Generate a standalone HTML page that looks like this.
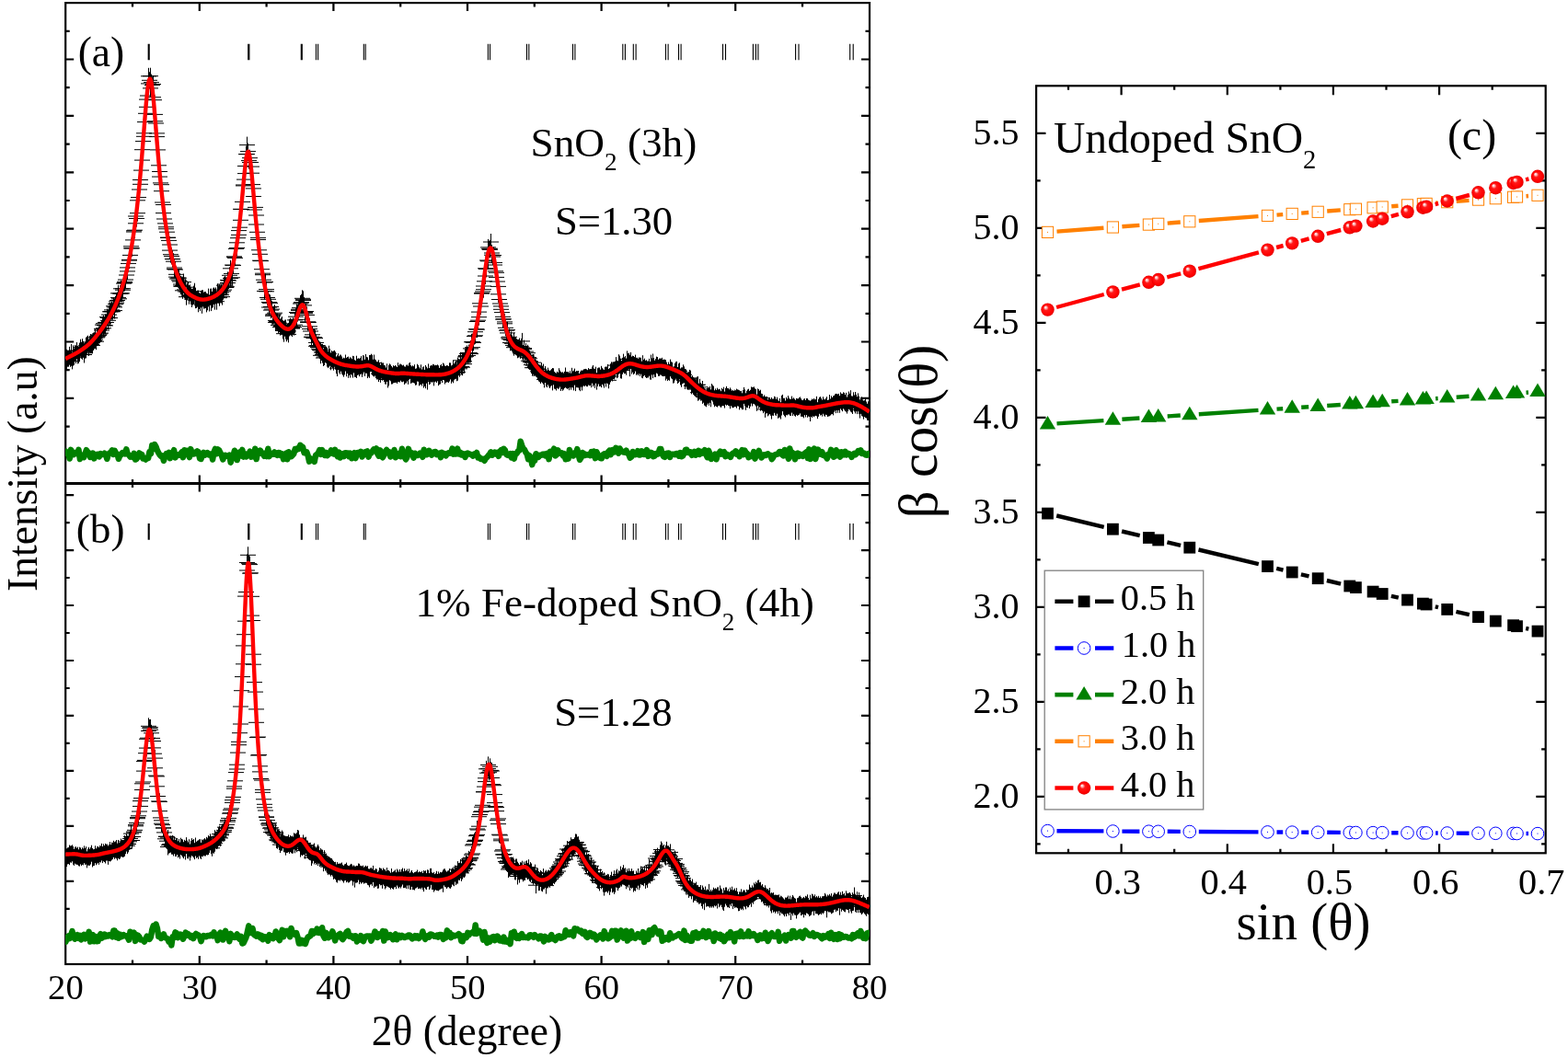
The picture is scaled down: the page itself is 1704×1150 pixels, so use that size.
<!DOCTYPE html>
<html><head><meta charset="utf-8"><title>XRD Rietveld and Williamson-Hall plots</title>
<style>html,body{margin:0;padding:0;background:#fff;} svg{display:block;}</style></head>
<body>
<svg width="1704" height="1150" viewBox="0 0 1704 1150">
<rect width="1704" height="1150" fill="#fff"/>
<path d="M161.2 47.8V65.2M161.2 568.9V586.8M162.2 47.8V65.2M162.2 568.9V586.8M269.7 47.8V65.2M269.7 568.9V586.8M270.9 47.8V65.2M270.9 568.9V586.8M327.3 47.8V65.2M327.3 568.9V586.8M328.3 47.8V65.2M328.3 568.9V586.8M343.5 47.8V65.2M343.5 568.9V586.8M345.6 47.8V65.2M345.6 568.9V586.8M395.3 47.8V65.2M395.3 568.9V586.8M397.2 47.8V65.2M397.2 568.9V586.8M530.4 47.8V65.2M530.4 568.9V586.8M532.5 47.8V65.2M532.5 568.9V586.8M572.5 47.8V65.2M572.5 568.9V586.8M574.8 47.8V65.2M574.8 568.9V586.8M622.5 47.8V65.2M622.5 568.9V586.8M624.9 47.8V65.2M624.9 568.9V586.8M676.8 47.8V65.2M676.8 568.9V586.8M679.4 47.8V65.2M679.4 568.9V586.8M688.3 47.8V65.2M688.3 568.9V586.8M691.1 47.8V65.2M691.1 568.9V586.8M723.4 47.8V65.2M723.4 568.9V586.8M726.1 47.8V65.2M726.1 568.9V586.8M737.5 47.8V65.2M737.5 568.9V586.8M740.1 47.8V65.2M740.1 568.9V586.8M785.5 47.8V65.2M785.5 568.9V586.8M788.5 47.8V65.2M788.5 568.9V586.8M818.4 47.8V65.2M818.4 568.9V586.8M821.4 47.8V65.2M821.4 568.9V586.8M823.9 47.8V65.2M823.9 568.9V586.8M864.6 47.8V65.2M864.6 568.9V586.8M868.0 47.8V65.2M868.0 568.9V586.8M923.7 47.8V65.2M923.7 568.9V586.8M927.2 47.8V65.2M927.2 568.9V586.8" stroke="#000" stroke-width="1.1" fill="none"/>
<rect x="71.2" y="3.1" width="873.8" height="1044.9" fill="none" stroke="#000" stroke-width="2.2"/>
<line x1="71.2" y1="525.4" x2="945.0" y2="525.4" stroke="#000" stroke-width="3"/>
<path d="M144.0 3.1v4.5M144.0 1048v-4.5M144.0 525.4v-4.5M144.0 525.4v4.5M216.8 3.1v9M216.8 1048v-9M216.8 525.4v-9M216.8 525.4v9M289.6 3.1v4.5M289.6 1048v-4.5M289.6 525.4v-4.5M289.6 525.4v4.5M362.4 3.1v9M362.4 1048v-9M362.4 525.4v-9M362.4 525.4v9M435.2 3.1v4.5M435.2 1048v-4.5M435.2 525.4v-4.5M435.2 525.4v4.5M508.0 3.1v9M508.0 1048v-9M508.0 525.4v-9M508.0 525.4v9M580.8 3.1v4.5M580.8 1048v-4.5M580.8 525.4v-4.5M580.8 525.4v4.5M653.6 3.1v9M653.6 1048v-9M653.6 525.4v-9M653.6 525.4v9M726.4 3.1v4.5M726.4 1048v-4.5M726.4 525.4v-4.5M726.4 525.4v4.5M799.2 3.1v9M799.2 1048v-9M799.2 525.4v-9M799.2 525.4v9M872.0 3.1v4.5M872.0 1048v-4.5M872.0 525.4v-4.5M872.0 525.4v4.5M71.2 33.8h4.5M945.0 33.8h-4.5M71.2 64.5h9M945.0 64.5h-9M71.2 95.2h4.5M945.0 95.2h-4.5M71.2 125.9h9M945.0 125.9h-9M71.2 156.6h4.5M945.0 156.6h-4.5M71.2 187.3h9M945.0 187.3h-9M71.2 218.0h4.5M945.0 218.0h-4.5M71.2 248.7h9M945.0 248.7h-9M71.2 279.4h4.5M945.0 279.4h-4.5M71.2 310.1h9M945.0 310.1h-9M71.2 340.8h4.5M945.0 340.8h-4.5M71.2 371.5h9M945.0 371.5h-9M71.2 402.2h4.5M945.0 402.2h-4.5M71.2 432.9h9M945.0 432.9h-9M71.2 463.6h4.5M945.0 463.6h-4.5M71.2 494.3h9M945.0 494.3h-9M71.2 538.1h9M945.0 538.1h-9M71.2 568.1h4.5M945.0 568.1h-4.5M71.2 598.1h9M945.0 598.1h-9M71.2 628.0h4.5M945.0 628.0h-4.5M71.2 658.0h9M945.0 658.0h-9M71.2 688.0h4.5M945.0 688.0h-4.5M71.2 718.0h9M945.0 718.0h-9M71.2 748.0h4.5M945.0 748.0h-4.5M71.2 777.9h9M945.0 777.9h-9M71.2 807.9h4.5M945.0 807.9h-4.5M71.2 837.9h9M945.0 837.9h-9M71.2 867.9h4.5M945.0 867.9h-4.5M71.2 897.9h9M945.0 897.9h-9M71.2 927.8h4.5M945.0 927.8h-4.5M71.2 957.8h9M945.0 957.8h-9M71.2 987.8h4.5M945.0 987.8h-4.5M71.2 1017.8h9M945.0 1017.8h-9" stroke="#000" stroke-width="2.2" fill="none"/>
<defs><clipPath id="ca"><rect x="71" y="3" width="874" height="522"/></clipPath><clipPath id="cb"><rect x="71" y="526" width="874" height="521"/></clipPath></defs>
<g clip-path="url(#ca)">
<path d="M63.0 388.3h17m-8.5-9v18M64.0 394.0h17m-8.5-9v18M64.0 388.8h17m-8.5-9v18M65.0 389.7h17m-8.5-9v18M66.0 389.7h17m-8.5-9v18M67.0 387.7h17m-8.5-9v18M67.0 385.8h17m-8.5-9v18M68.0 389.9h17m-8.5-9v18M69.0 388.8h17m-8.5-9v18M69.0 383.0h17m-8.5-9v18M70.0 392.4h17m-8.5-9v18M71.0 388.7h17m-8.5-9v18M71.0 384.3h17m-8.5-9v18M72.0 387.7h17m-8.5-9v18M73.0 384.1h17m-8.5-9v18M74.0 384.6h17m-8.5-9v18M74.0 386.1h17m-8.5-9v18M75.0 381.0h17m-8.5-9v18M76.0 384.9h17m-8.5-9v18M76.0 386.4h17m-8.5-9v18M77.0 385.8h17m-8.5-9v18M78.0 381.6h17m-8.5-9v18M78.0 384.1h17m-8.5-9v18M79.0 377.7h17m-8.5-9v18M80.0 380.8h17m-8.5-9v18M81.0 381.9h17m-8.5-9v18M81.0 377.2h17m-8.5-9v18M82.0 379.8h17m-8.5-9v18M83.0 383.8h17m-8.5-9v18M83.0 385.5h17m-8.5-9v18M84.0 380.7h17m-8.5-9v18M85.0 380.4h17m-8.5-9v18M85.0 375.7h17m-8.5-9v18M86.0 374.7h17m-8.5-9v18M87.0 373.7h17m-8.5-9v18M88.0 378.0h17m-8.5-9v18M88.0 378.0h17m-8.5-9v18M89.0 374.0h17m-8.5-9v18M90.0 372.0h17m-8.5-9v18M90.0 375.0h17m-8.5-9v18M91.0 374.5h17m-8.5-9v18M92.0 372.7h17m-8.5-9v18M92.0 375.4h17m-8.5-9v18M93.0 371.2h17m-8.5-9v18M94.0 370.4h17m-8.5-9v18M95.0 366.9h17m-8.5-9v18M95.0 369.1h17m-8.5-9v18M96.0 371.2h17m-8.5-9v18M97.0 366.9h17m-8.5-9v18M97.0 365.9h17m-8.5-9v18M98.0 365.8h17m-8.5-9v18M99.0 364.4h17m-8.5-9v18M99.0 364.0h17m-8.5-9v18M100.0 362.9h17m-8.5-9v18M101.0 362.1h17m-8.5-9v18M102.0 357.4h17m-8.5-9v18M102.0 359.1h17m-8.5-9v18M103.0 353.1h17m-8.5-9v18M104.0 356.8h17m-8.5-9v18M104.0 351.7h17m-8.5-9v18M105.0 353.6h17m-8.5-9v18M106.0 353.9h17m-8.5-9v18M106.0 350.4h17m-8.5-9v18M107.0 350.5h17m-8.5-9v18M108.0 344.6h17m-8.5-9v18M109.0 345.5h17m-8.5-9v18M109.0 348.3h17m-8.5-9v18M110.0 342.1h17m-8.5-9v18M111.0 345.6h17m-8.5-9v18M111.0 338.8h17m-8.5-9v18M112.0 338.7h17m-8.5-9v18M113.0 336.9h17m-8.5-9v18M113.0 338.6h17m-8.5-9v18M114.0 338.7h17m-8.5-9v18M115.0 332.8h17m-8.5-9v18M116.0 333.9h17m-8.5-9v18M116.0 337.6h17m-8.5-9v18M117.0 330.7h17m-8.5-9v18M118.0 327.9h17m-8.5-9v18M118.0 329.8h17m-8.5-9v18M119.0 326.5h17m-8.5-9v18M120.0 323.6h17m-8.5-9v18M120.0 318.8h17m-8.5-9v18M121.0 324.8h17m-8.5-9v18M122.0 319.0h17m-8.5-9v18M123.0 318.9h17m-8.5-9v18M123.0 313.8h17m-8.5-9v18M124.0 318.9h17m-8.5-9v18M125.0 315.2h17m-8.5-9v18M125.0 313.7h17m-8.5-9v18M126.0 308.1h17m-8.5-9v18M127.0 307.5h17m-8.5-9v18M127.0 306.3h17m-8.5-9v18M128.0 304.0h17m-8.5-9v18M129.0 299.0h17m-8.5-9v18M130.0 294.9h17m-8.5-9v18M130.0 290.9h17m-8.5-9v18M131.0 286.4h17m-8.5-9v18M132.0 282.3h17m-8.5-9v18M132.0 283.1h17m-8.5-9v18M133.0 277.4h17m-8.5-9v18M134.0 267.8h17m-8.5-9v18M134.0 269.9h17m-8.5-9v18M135.0 269.9h17m-8.5-9v18M136.0 260.9h17m-8.5-9v18M137.0 250.8h17m-8.5-9v18M137.0 252.0h17m-8.5-9v18M138.0 250.2h17m-8.5-9v18M139.0 242.8h17m-8.5-9v18M139.0 235.0h17m-8.5-9v18M140.0 237.5h17m-8.5-9v18M141.0 231.7h17m-8.5-9v18M141.0 217.8h17m-8.5-9v18M142.0 214.6h17m-8.5-9v18M143.0 206.0h17m-8.5-9v18M144.0 200.3h17m-8.5-9v18M144.0 195.5h17m-8.5-9v18M145.0 185.1h17m-8.5-9v18M146.0 174.1h17m-8.5-9v18M146.0 162.7h17m-8.5-9v18M147.0 153.6h17m-8.5-9v18M148.0 148.3h17m-8.5-9v18M148.0 144.8h17m-8.5-9v18M149.0 132.6h17m-8.5-9v18M150.0 123.3h17m-8.5-9v18M151.0 116.3h17m-8.5-9v18M151.0 108.1h17m-8.5-9v18M152.0 104.0h17m-8.5-9v18M153.0 90.9h17m-8.5-9v18M153.0 82.8h17m-8.5-9v18M154.0 87.3h17m-8.5-9v18M155.0 82.7h17m-8.5-9v18M155.0 95.9h17m-8.5-9v18M156.0 89.6h17m-8.5-9v18M157.0 92.6h17m-8.5-9v18M158.0 91.5h17m-8.5-9v18M158.0 105.7h17m-8.5-9v18M159.0 108.7h17m-8.5-9v18M160.0 124.4h17m-8.5-9v18M160.0 131.8h17m-8.5-9v18M161.0 134.0h17m-8.5-9v18M162.0 148.6h17m-8.5-9v18M162.0 144.9h17m-8.5-9v18M163.0 162.9h17m-8.5-9v18M164.0 179.8h17m-8.5-9v18M165.0 186.5h17m-8.5-9v18M165.0 192.1h17m-8.5-9v18M166.0 198.9h17m-8.5-9v18M167.0 200.7h17m-8.5-9v18M167.0 207.7h17m-8.5-9v18M168.0 220.0h17m-8.5-9v18M169.0 231.6h17m-8.5-9v18M169.0 222.5h17m-8.5-9v18M170.0 238.0h17m-8.5-9v18M171.0 242.9h17m-8.5-9v18M172.0 248.8h17m-8.5-9v18M172.0 246.8h17m-8.5-9v18M173.0 252.2h17m-8.5-9v18M174.0 258.2h17m-8.5-9v18M174.0 258.4h17m-8.5-9v18M175.0 261.4h17m-8.5-9v18M176.0 266.0h17m-8.5-9v18M176.0 272.1h17m-8.5-9v18M177.0 276.7h17m-8.5-9v18M178.0 278.4h17m-8.5-9v18M179.0 281.5h17m-8.5-9v18M179.0 281.7h17m-8.5-9v18M180.0 284.2h17m-8.5-9v18M181.0 292.5h17m-8.5-9v18M181.0 291.0h17m-8.5-9v18M182.0 293.0h17m-8.5-9v18M183.0 298.3h17m-8.5-9v18M183.0 301.1h17m-8.5-9v18M184.0 303.0h17m-8.5-9v18M185.0 302.0h17m-8.5-9v18M186.0 302.2h17m-8.5-9v18M186.0 304.8h17m-8.5-9v18M187.0 306.0h17m-8.5-9v18M188.0 311.0h17m-8.5-9v18M188.0 309.0h17m-8.5-9v18M189.0 311.3h17m-8.5-9v18M190.0 310.5h17m-8.5-9v18M190.0 315.8h17m-8.5-9v18M191.0 306.6h17m-8.5-9v18M192.0 314.9h17m-8.5-9v18M193.0 316.9h17m-8.5-9v18M193.0 312.2h17m-8.5-9v18M194.0 322.7h17m-8.5-9v18M195.0 316.7h17m-8.5-9v18M195.0 317.4h17m-8.5-9v18M196.0 315.4h17m-8.5-9v18M197.0 321.7h17m-8.5-9v18M197.0 320.3h17m-8.5-9v18M198.0 318.4h17m-8.5-9v18M199.0 321.3h17m-8.5-9v18M200.0 323.0h17m-8.5-9v18M200.0 325.0h17m-8.5-9v18M201.0 322.5h17m-8.5-9v18M202.0 319.6h17m-8.5-9v18M202.0 321.2h17m-8.5-9v18M203.0 316.7h17m-8.5-9v18M204.0 321.6h17m-8.5-9v18M204.0 326.2h17m-8.5-9v18M205.0 325.9h17m-8.5-9v18M206.0 324.7h17m-8.5-9v18M207.0 324.5h17m-8.5-9v18M207.0 330.3h17m-8.5-9v18M208.0 327.0h17m-8.5-9v18M209.0 329.1h17m-8.5-9v18M209.0 328.0h17m-8.5-9v18M210.0 325.3h17m-8.5-9v18M211.0 331.8h17m-8.5-9v18M211.0 324.2h17m-8.5-9v18M212.0 324.4h17m-8.5-9v18M213.0 326.7h17m-8.5-9v18M214.0 325.9h17m-8.5-9v18M214.0 326.3h17m-8.5-9v18M215.0 326.1h17m-8.5-9v18M216.0 330.4h17m-8.5-9v18M216.0 327.7h17m-8.5-9v18M217.0 328.3h17m-8.5-9v18M218.0 322.6h17m-8.5-9v18M218.0 324.4h17m-8.5-9v18M219.0 329.5h17m-8.5-9v18M220.0 322.8h17m-8.5-9v18M221.0 329.1h17m-8.5-9v18M221.0 322.6h17m-8.5-9v18M222.0 326.0h17m-8.5-9v18M223.0 322.4h17m-8.5-9v18M223.0 324.9h17m-8.5-9v18M224.0 321.4h17m-8.5-9v18M225.0 322.7h17m-8.5-9v18M225.0 327.7h17m-8.5-9v18M226.0 321.4h17m-8.5-9v18M227.0 327.7h17m-8.5-9v18M228.0 320.1h17m-8.5-9v18M228.0 317.4h17m-8.5-9v18M229.0 320.3h17m-8.5-9v18M230.0 318.2h17m-8.5-9v18M230.0 323.7h17m-8.5-9v18M231.0 320.4h17m-8.5-9v18M232.0 320.5h17m-8.5-9v18M232.0 318.1h17m-8.5-9v18M233.0 322.6h17m-8.5-9v18M234.0 316.8h17m-8.5-9v18M235.0 315.1h17m-8.5-9v18M235.0 310.2h17m-8.5-9v18M236.0 309.0h17m-8.5-9v18M237.0 311.2h17m-8.5-9v18M237.0 312.5h17m-8.5-9v18M238.0 311.8h17m-8.5-9v18M239.0 304.4h17m-8.5-9v18M239.0 307.5h17m-8.5-9v18M240.0 305.0h17m-8.5-9v18M241.0 299.3h17m-8.5-9v18M242.0 302.5h17m-8.5-9v18M242.0 291.8h17m-8.5-9v18M243.0 297.4h17m-8.5-9v18M244.0 301.8h17m-8.5-9v18M244.0 288.1h17m-8.5-9v18M245.0 288.4h17m-8.5-9v18M246.0 279.0h17m-8.5-9v18M246.0 279.2h17m-8.5-9v18M247.0 280.4h17m-8.5-9v18M248.0 270.5h17m-8.5-9v18M249.0 269.5h17m-8.5-9v18M249.0 263.8h17m-8.5-9v18M250.0 258.7h17m-8.5-9v18M251.0 255.3h17m-8.5-9v18M251.0 250.6h17m-8.5-9v18M252.0 247.2h17m-8.5-9v18M253.0 239.3h17m-8.5-9v18M253.0 227.3h17m-8.5-9v18M254.0 227.5h17m-8.5-9v18M255.0 219.4h17m-8.5-9v18M256.0 201.0h17m-8.5-9v18M256.0 201.9h17m-8.5-9v18M257.0 195.1h17m-8.5-9v18M258.0 188.6h17m-8.5-9v18M258.0 180.5h17m-8.5-9v18M259.0 167.6h17m-8.5-9v18M260.0 167.6h17m-8.5-9v18M260.0 157.6h17m-8.5-9v18M261.0 164.6h17m-8.5-9v18M262.0 174.6h17m-8.5-9v18M263.0 171.7h17m-8.5-9v18M263.0 176.5h17m-8.5-9v18M264.0 176.5h17m-8.5-9v18M265.0 181.1h17m-8.5-9v18M265.0 188.2h17m-8.5-9v18M266.0 200.6h17m-8.5-9v18M267.0 204.9h17m-8.5-9v18M267.0 213.5h17m-8.5-9v18M268.0 228.0h17m-8.5-9v18M269.0 225.4h17m-8.5-9v18M270.0 234.0h17m-8.5-9v18M270.0 244.0h17m-8.5-9v18M271.0 252.3h17m-8.5-9v18M272.0 258.6h17m-8.5-9v18M272.0 260.5h17m-8.5-9v18M273.0 271.8h17m-8.5-9v18M274.0 276.3h17m-8.5-9v18M274.0 283.2h17m-8.5-9v18M275.0 283.6h17m-8.5-9v18M276.0 292.7h17m-8.5-9v18M277.0 297.2h17m-8.5-9v18M277.0 298.7h17m-8.5-9v18M278.0 304.2h17m-8.5-9v18M279.0 307.0h17m-8.5-9v18M279.0 316.4h17m-8.5-9v18M280.0 306.4h17m-8.5-9v18M281.0 314.6h17m-8.5-9v18M281.0 316.8h17m-8.5-9v18M282.0 323.5h17m-8.5-9v18M283.0 325.3h17m-8.5-9v18M284.0 328.5h17m-8.5-9v18M284.0 334.0h17m-8.5-9v18M285.0 329.4h17m-8.5-9v18M286.0 333.5h17m-8.5-9v18M286.0 337.1h17m-8.5-9v18M287.0 336.1h17m-8.5-9v18M288.0 342.0h17m-8.5-9v18M288.0 343.3h17m-8.5-9v18M289.0 341.8h17m-8.5-9v18M290.0 340.2h17m-8.5-9v18M291.0 350.5h17m-8.5-9v18M291.0 348.5h17m-8.5-9v18M292.0 349.5h17m-8.5-9v18M293.0 349.5h17m-8.5-9v18M293.0 350.2h17m-8.5-9v18M294.0 353.4h17m-8.5-9v18M295.0 352.0h17m-8.5-9v18M295.0 351.2h17m-8.5-9v18M296.0 355.6h17m-8.5-9v18M297.0 354.6h17m-8.5-9v18M298.0 353.2h17m-8.5-9v18M298.0 353.6h17m-8.5-9v18M299.0 359.5h17m-8.5-9v18M300.0 358.7h17m-8.5-9v18M300.0 362.7h17m-8.5-9v18M301.0 356.7h17m-8.5-9v18M302.0 356.5h17m-8.5-9v18M302.0 359.7h17m-8.5-9v18M303.0 362.3h17m-8.5-9v18M304.0 360.4h17m-8.5-9v18M305.0 359.9h17m-8.5-9v18M305.0 363.4h17m-8.5-9v18M306.0 356.5h17m-8.5-9v18M307.0 354.7h17m-8.5-9v18M307.0 355.4h17m-8.5-9v18M308.0 355.7h17m-8.5-9v18M309.0 356.5h17m-8.5-9v18M309.0 357.1h17m-8.5-9v18M310.0 354.2h17m-8.5-9v18M311.0 355.6h17m-8.5-9v18M312.0 347.9h17m-8.5-9v18M312.0 353.2h17m-8.5-9v18M313.0 344.2h17m-8.5-9v18M314.0 347.3h17m-8.5-9v18M314.0 339.5h17m-8.5-9v18M315.0 340.6h17m-8.5-9v18M316.0 337.4h17m-8.5-9v18M316.0 336.3h17m-8.5-9v18M317.0 334.7h17m-8.5-9v18M318.0 330.0h17m-8.5-9v18M319.0 328.9h17m-8.5-9v18M319.0 328.8h17m-8.5-9v18M320.0 324.3h17m-8.5-9v18M321.0 326.5h17m-8.5-9v18M321.0 325.3h17m-8.5-9v18M322.0 331.9h17m-8.5-9v18M323.0 340.7h17m-8.5-9v18M323.0 339.6h17m-8.5-9v18M324.0 338.5h17m-8.5-9v18M325.0 342.4h17m-8.5-9v18M326.0 350.4h17m-8.5-9v18M326.0 349.9h17m-8.5-9v18M327.0 350.3h17m-8.5-9v18M328.0 354.9h17m-8.5-9v18M328.0 357.6h17m-8.5-9v18M329.0 360.0h17m-8.5-9v18M330.0 366.3h17m-8.5-9v18M330.0 366.4h17m-8.5-9v18M331.0 363.8h17m-8.5-9v18M332.0 367.2h17m-8.5-9v18M333.0 366.6h17m-8.5-9v18M333.0 367.3h17m-8.5-9v18M334.0 367.5h17m-8.5-9v18M335.0 376.3h17m-8.5-9v18M335.0 372.4h17m-8.5-9v18M336.0 375.6h17m-8.5-9v18M337.0 377.5h17m-8.5-9v18M337.0 375.8h17m-8.5-9v18M338.0 379.2h17m-8.5-9v18M339.0 380.4h17m-8.5-9v18M340.0 380.8h17m-8.5-9v18M340.0 386.3h17m-8.5-9v18M341.0 383.0h17m-8.5-9v18M342.0 382.8h17m-8.5-9v18M342.0 385.6h17m-8.5-9v18M343.0 389.0h17m-8.5-9v18M344.0 388.0h17m-8.5-9v18M344.0 385.4h17m-8.5-9v18M345.0 385.2h17m-8.5-9v18M346.0 385.7h17m-8.5-9v18M347.0 386.8h17m-8.5-9v18M347.0 389.7h17m-8.5-9v18M348.0 391.1h17m-8.5-9v18M349.0 384.7h17m-8.5-9v18M349.0 390.1h17m-8.5-9v18M350.0 388.1h17m-8.5-9v18M351.0 392.4h17m-8.5-9v18M351.0 393.3h17m-8.5-9v18M352.0 390.0h17m-8.5-9v18M353.0 391.1h17m-8.5-9v18M354.0 390.4h17m-8.5-9v18M354.0 393.7h17m-8.5-9v18M355.0 389.8h17m-8.5-9v18M356.0 391.3h17m-8.5-9v18M356.0 392.7h17m-8.5-9v18M357.0 397.2h17m-8.5-9v18M358.0 400.1h17m-8.5-9v18M358.0 395.4h17m-8.5-9v18M359.0 393.1h17m-8.5-9v18M360.0 396.2h17m-8.5-9v18M361.0 394.6h17m-8.5-9v18M361.0 397.7h17m-8.5-9v18M362.0 394.7h17m-8.5-9v18M363.0 396.5h17m-8.5-9v18M363.0 397.5h17m-8.5-9v18M364.0 398.8h17m-8.5-9v18M365.0 397.7h17m-8.5-9v18M365.0 400.7h17m-8.5-9v18M366.0 398.4h17m-8.5-9v18M367.0 394.5h17m-8.5-9v18M368.0 400.3h17m-8.5-9v18M368.0 397.9h17m-8.5-9v18M369.0 397.1h17m-8.5-9v18M370.0 401.8h17m-8.5-9v18M370.0 396.6h17m-8.5-9v18M371.0 398.8h17m-8.5-9v18M372.0 397.2h17m-8.5-9v18M372.0 401.6h17m-8.5-9v18M373.0 398.0h17m-8.5-9v18M374.0 399.2h17m-8.5-9v18M375.0 395.8h17m-8.5-9v18M375.0 401.6h17m-8.5-9v18M376.0 396.3h17m-8.5-9v18M377.0 400.4h17m-8.5-9v18M377.0 400.7h17m-8.5-9v18M378.0 400.9h17m-8.5-9v18M379.0 402.0h17m-8.5-9v18M379.0 395.7h17m-8.5-9v18M380.0 398.9h17m-8.5-9v18M381.0 398.3h17m-8.5-9v18M382.0 398.8h17m-8.5-9v18M382.0 400.2h17m-8.5-9v18M383.0 398.1h17m-8.5-9v18M384.0 396.1h17m-8.5-9v18M384.0 397.5h17m-8.5-9v18M385.0 400.9h17m-8.5-9v18M386.0 395.2h17m-8.5-9v18M386.0 397.7h17m-8.5-9v18M387.0 395.5h17m-8.5-9v18M388.0 399.8h17m-8.5-9v18M389.0 393.9h17m-8.5-9v18M389.0 396.6h17m-8.5-9v18M390.0 396.9h17m-8.5-9v18M391.0 397.4h17m-8.5-9v18M391.0 402.1h17m-8.5-9v18M392.0 400.4h17m-8.5-9v18M393.0 395.0h17m-8.5-9v18M393.0 401.8h17m-8.5-9v18M394.0 394.9h17m-8.5-9v18M395.0 393.7h17m-8.5-9v18M396.0 394.7h17m-8.5-9v18M396.0 398.7h17m-8.5-9v18M397.0 399.7h17m-8.5-9v18M398.0 394.5h17m-8.5-9v18M398.0 400.5h17m-8.5-9v18M399.0 399.5h17m-8.5-9v18M400.0 402.1h17m-8.5-9v18M400.0 400.4h17m-8.5-9v18M401.0 403.5h17m-8.5-9v18M402.0 403.4h17m-8.5-9v18M403.0 400.3h17m-8.5-9v18M403.0 406.1h17m-8.5-9v18M404.0 404.0h17m-8.5-9v18M405.0 405.5h17m-8.5-9v18M405.0 406.9h17m-8.5-9v18M406.0 402.6h17m-8.5-9v18M407.0 404.7h17m-8.5-9v18M407.0 403.5h17m-8.5-9v18M408.0 403.4h17m-8.5-9v18M409.0 406.0h17m-8.5-9v18M410.0 406.3h17m-8.5-9v18M410.0 408.5h17m-8.5-9v18M411.0 408.7h17m-8.5-9v18M412.0 405.9h17m-8.5-9v18M412.0 404.3h17m-8.5-9v18M413.0 412.5h17m-8.5-9v18M414.0 410.4h17m-8.5-9v18M414.0 405.9h17m-8.5-9v18M415.0 404.3h17m-8.5-9v18M416.0 405.4h17m-8.5-9v18M417.0 406.9h17m-8.5-9v18M417.0 408.6h17m-8.5-9v18M418.0 408.4h17m-8.5-9v18M419.0 407.4h17m-8.5-9v18M419.0 406.1h17m-8.5-9v18M420.0 407.0h17m-8.5-9v18M421.0 406.1h17m-8.5-9v18M421.0 407.0h17m-8.5-9v18M422.0 406.7h17m-8.5-9v18M423.0 408.0h17m-8.5-9v18M424.0 403.2h17m-8.5-9v18M424.0 406.2h17m-8.5-9v18M425.0 406.3h17m-8.5-9v18M426.0 404.6h17m-8.5-9v18M426.0 406.5h17m-8.5-9v18M427.0 404.7h17m-8.5-9v18M428.0 405.4h17m-8.5-9v18M428.0 406.2h17m-8.5-9v18M429.0 406.3h17m-8.5-9v18M430.0 405.6h17m-8.5-9v18M431.0 409.0h17m-8.5-9v18M431.0 407.3h17m-8.5-9v18M432.0 407.6h17m-8.5-9v18M433.0 407.5h17m-8.5-9v18M433.0 405.8h17m-8.5-9v18M434.0 405.4h17m-8.5-9v18M435.0 408.9h17m-8.5-9v18M435.0 406.6h17m-8.5-9v18M436.0 403.8h17m-8.5-9v18M437.0 402.9h17m-8.5-9v18M438.0 407.8h17m-8.5-9v18M438.0 405.9h17m-8.5-9v18M439.0 407.3h17m-8.5-9v18M440.0 406.4h17m-8.5-9v18M440.0 406.7h17m-8.5-9v18M441.0 407.2h17m-8.5-9v18M442.0 405.2h17m-8.5-9v18M442.0 407.7h17m-8.5-9v18M443.0 409.8h17m-8.5-9v18M444.0 409.4h17m-8.5-9v18M445.0 404.7h17m-8.5-9v18M445.0 405.6h17m-8.5-9v18M446.0 405.8h17m-8.5-9v18M447.0 408.1h17m-8.5-9v18M447.0 410.4h17m-8.5-9v18M448.0 409.4h17m-8.5-9v18M449.0 405.3h17m-8.5-9v18M449.0 409.0h17m-8.5-9v18M450.0 410.5h17m-8.5-9v18M451.0 407.9h17m-8.5-9v18M452.0 412.6h17m-8.5-9v18M452.0 407.4h17m-8.5-9v18M453.0 410.9h17m-8.5-9v18M454.0 413.2h17m-8.5-9v18M454.0 405.9h17m-8.5-9v18M455.0 407.7h17m-8.5-9v18M456.0 409.4h17m-8.5-9v18M456.0 414.6h17m-8.5-9v18M457.0 404.4h17m-8.5-9v18M458.0 409.1h17m-8.5-9v18M459.0 408.4h17m-8.5-9v18M459.0 406.9h17m-8.5-9v18M460.0 406.0h17m-8.5-9v18M461.0 406.5h17m-8.5-9v18M461.0 406.8h17m-8.5-9v18M462.0 404.8h17m-8.5-9v18M463.0 410.4h17m-8.5-9v18M463.0 404.9h17m-8.5-9v18M464.0 406.2h17m-8.5-9v18M465.0 405.7h17m-8.5-9v18M466.0 406.1h17m-8.5-9v18M466.0 407.1h17m-8.5-9v18M467.0 405.3h17m-8.5-9v18M468.0 406.3h17m-8.5-9v18M468.0 410.2h17m-8.5-9v18M469.0 408.9h17m-8.5-9v18M470.0 406.1h17m-8.5-9v18M470.0 408.5h17m-8.5-9v18M471.0 405.0h17m-8.5-9v18M472.0 407.0h17m-8.5-9v18M473.0 403.5h17m-8.5-9v18M473.0 404.0h17m-8.5-9v18M474.0 404.4h17m-8.5-9v18M475.0 408.6h17m-8.5-9v18M475.0 406.5h17m-8.5-9v18M476.0 407.0h17m-8.5-9v18M477.0 406.0h17m-8.5-9v18M477.0 406.4h17m-8.5-9v18M478.0 406.4h17m-8.5-9v18M479.0 407.0h17m-8.5-9v18M480.0 405.6h17m-8.5-9v18M480.0 403.3h17m-8.5-9v18M481.0 403.4h17m-8.5-9v18M482.0 407.4h17m-8.5-9v18M482.0 407.7h17m-8.5-9v18M483.0 405.7h17m-8.5-9v18M484.0 400.8h17m-8.5-9v18M484.0 407.3h17m-8.5-9v18M485.0 404.3h17m-8.5-9v18M486.0 403.0h17m-8.5-9v18M487.0 402.8h17m-8.5-9v18M487.0 401.4h17m-8.5-9v18M488.0 405.3h17m-8.5-9v18M489.0 404.6h17m-8.5-9v18M489.0 397.9h17m-8.5-9v18M490.0 399.1h17m-8.5-9v18M491.0 399.4h17m-8.5-9v18M491.0 400.8h17m-8.5-9v18M492.0 391.8h17m-8.5-9v18M493.0 398.4h17m-8.5-9v18M494.0 399.2h17m-8.5-9v18M494.0 393.9h17m-8.5-9v18M495.0 393.7h17m-8.5-9v18M496.0 395.7h17m-8.5-9v18M496.0 392.8h17m-8.5-9v18M497.0 388.0h17m-8.5-9v18M498.0 387.3h17m-8.5-9v18M498.0 386.5h17m-8.5-9v18M499.0 384.4h17m-8.5-9v18M500.0 386.5h17m-8.5-9v18M501.0 383.9h17m-8.5-9v18M501.0 383.7h17m-8.5-9v18M502.0 383.7h17m-8.5-9v18M503.0 384.6h17m-8.5-9v18M503.0 378.9h17m-8.5-9v18M504.0 371.8h17m-8.5-9v18M505.0 377.7h17m-8.5-9v18M505.0 371.6h17m-8.5-9v18M506.0 372.4h17m-8.5-9v18M507.0 365.6h17m-8.5-9v18M508.0 364.8h17m-8.5-9v18M508.0 360.7h17m-8.5-9v18M509.0 357.8h17m-8.5-9v18M510.0 358.1h17m-8.5-9v18M510.0 349.5h17m-8.5-9v18M511.0 348.2h17m-8.5-9v18M512.0 344.7h17m-8.5-9v18M512.0 339.1h17m-8.5-9v18M513.0 329.8h17m-8.5-9v18M514.0 333.0h17m-8.5-9v18M515.0 319.1h17m-8.5-9v18M515.0 318.5h17m-8.5-9v18M516.0 316.9h17m-8.5-9v18M517.0 314.7h17m-8.5-9v18M517.0 311.0h17m-8.5-9v18M518.0 305.8h17m-8.5-9v18M519.0 300.0h17m-8.5-9v18M519.0 291.8h17m-8.5-9v18M520.0 292.3h17m-8.5-9v18M521.0 283.0h17m-8.5-9v18M522.0 283.8h17m-8.5-9v18M522.0 268.9h17m-8.5-9v18M523.0 270.7h17m-8.5-9v18M524.0 270.2h17m-8.5-9v18M524.0 271.3h17m-8.5-9v18M525.0 263.0h17m-8.5-9v18M526.0 275.0h17m-8.5-9v18M526.0 277.2h17m-8.5-9v18M527.0 279.0h17m-8.5-9v18M528.0 277.6h17m-8.5-9v18M529.0 288.0h17m-8.5-9v18M529.0 285.4h17m-8.5-9v18M530.0 294.8h17m-8.5-9v18M531.0 296.3h17m-8.5-9v18M531.0 301.4h17m-8.5-9v18M532.0 306.0h17m-8.5-9v18M533.0 311.4h17m-8.5-9v18M533.0 319.8h17m-8.5-9v18M534.0 325.5h17m-8.5-9v18M535.0 330.0h17m-8.5-9v18M536.0 332.9h17m-8.5-9v18M536.0 336.3h17m-8.5-9v18M537.0 339.6h17m-8.5-9v18M538.0 347.0h17m-8.5-9v18M538.0 344.3h17m-8.5-9v18M539.0 346.9h17m-8.5-9v18M540.0 351.8h17m-8.5-9v18M540.0 349.9h17m-8.5-9v18M541.0 356.3h17m-8.5-9v18M542.0 359.1h17m-8.5-9v18M543.0 358.7h17m-8.5-9v18M543.0 361.9h17m-8.5-9v18M544.0 367.0h17m-8.5-9v18M545.0 366.3h17m-8.5-9v18M545.0 368.6h17m-8.5-9v18M546.0 372.4h17m-8.5-9v18M547.0 369.6h17m-8.5-9v18M547.0 369.5h17m-8.5-9v18M548.0 373.3h17m-8.5-9v18M549.0 375.4h17m-8.5-9v18M550.0 370.8h17m-8.5-9v18M550.0 377.7h17m-8.5-9v18M551.0 376.0h17m-8.5-9v18M552.0 376.3h17m-8.5-9v18M552.0 375.6h17m-8.5-9v18M553.0 377.5h17m-8.5-9v18M554.0 380.3h17m-8.5-9v18M554.0 379.2h17m-8.5-9v18M555.0 379.6h17m-8.5-9v18M556.0 376.5h17m-8.5-9v18M557.0 380.9h17m-8.5-9v18M557.0 379.9h17m-8.5-9v18M558.0 376.9h17m-8.5-9v18M559.0 370.9h17m-8.5-9v18M559.0 378.0h17m-8.5-9v18M560.0 385.3h17m-8.5-9v18M561.0 379.6h17m-8.5-9v18M561.0 378.6h17m-8.5-9v18M562.0 386.4h17m-8.5-9v18M563.0 382.1h17m-8.5-9v18M564.0 386.0h17m-8.5-9v18M564.0 387.8h17m-8.5-9v18M565.0 383.7h17m-8.5-9v18M566.0 388.6h17m-8.5-9v18M566.0 392.2h17m-8.5-9v18M567.0 389.8h17m-8.5-9v18M568.0 393.3h17m-8.5-9v18M568.0 393.0h17m-8.5-9v18M569.0 396.6h17m-8.5-9v18M570.0 399.7h17m-8.5-9v18M571.0 394.1h17m-8.5-9v18M571.0 397.1h17m-8.5-9v18M572.0 399.6h17m-8.5-9v18M573.0 398.2h17m-8.5-9v18M573.0 398.6h17m-8.5-9v18M574.0 400.4h17m-8.5-9v18M575.0 401.3h17m-8.5-9v18M575.0 401.1h17m-8.5-9v18M576.0 403.8h17m-8.5-9v18M577.0 405.5h17m-8.5-9v18M578.0 405.9h17m-8.5-9v18M578.0 406.3h17m-8.5-9v18M579.0 408.0h17m-8.5-9v18M580.0 403.1h17m-8.5-9v18M580.0 406.3h17m-8.5-9v18M581.0 407.4h17m-8.5-9v18M582.0 408.7h17m-8.5-9v18M582.0 404.6h17m-8.5-9v18M583.0 412.4h17m-8.5-9v18M584.0 407.0h17m-8.5-9v18M585.0 409.7h17m-8.5-9v18M585.0 411.1h17m-8.5-9v18M586.0 412.1h17m-8.5-9v18M587.0 408.7h17m-8.5-9v18M587.0 409.3h17m-8.5-9v18M588.0 411.4h17m-8.5-9v18M589.0 412.1h17m-8.5-9v18M589.0 413.0h17m-8.5-9v18M590.0 411.2h17m-8.5-9v18M591.0 410.1h17m-8.5-9v18M592.0 409.0h17m-8.5-9v18M592.0 415.4h17m-8.5-9v18M593.0 409.3h17m-8.5-9v18M594.0 413.6h17m-8.5-9v18M594.0 412.9h17m-8.5-9v18M595.0 414.1h17m-8.5-9v18M596.0 414.6h17m-8.5-9v18M596.0 415.5h17m-8.5-9v18M597.0 412.8h17m-8.5-9v18M598.0 413.8h17m-8.5-9v18M599.0 409.2h17m-8.5-9v18M599.0 413.3h17m-8.5-9v18M600.0 411.5h17m-8.5-9v18M601.0 413.1h17m-8.5-9v18M601.0 416.0h17m-8.5-9v18M602.0 413.8h17m-8.5-9v18M603.0 415.8h17m-8.5-9v18M603.0 413.3h17m-8.5-9v18M604.0 414.5h17m-8.5-9v18M605.0 412.9h17m-8.5-9v18M606.0 408.5h17m-8.5-9v18M606.0 412.2h17m-8.5-9v18M607.0 413.0h17m-8.5-9v18M608.0 413.8h17m-8.5-9v18M608.0 413.4h17m-8.5-9v18M609.0 413.1h17m-8.5-9v18M610.0 415.2h17m-8.5-9v18M610.0 414.4h17m-8.5-9v18M611.0 412.2h17m-8.5-9v18M612.0 414.7h17m-8.5-9v18M613.0 408.8h17m-8.5-9v18M613.0 412.2h17m-8.5-9v18M614.0 412.5h17m-8.5-9v18M615.0 415.4h17m-8.5-9v18M615.0 411.6h17m-8.5-9v18M616.0 409.6h17m-8.5-9v18M617.0 413.0h17m-8.5-9v18M617.0 416.1h17m-8.5-9v18M618.0 412.1h17m-8.5-9v18M619.0 412.3h17m-8.5-9v18M620.0 412.0h17m-8.5-9v18M620.0 412.5h17m-8.5-9v18M621.0 415.0h17m-8.5-9v18M622.0 416.2h17m-8.5-9v18M622.0 413.0h17m-8.5-9v18M623.0 411.6h17m-8.5-9v18M624.0 415.5h17m-8.5-9v18M624.0 411.7h17m-8.5-9v18M625.0 411.4h17m-8.5-9v18M626.0 410.3h17m-8.5-9v18M627.0 410.2h17m-8.5-9v18M627.0 411.2h17m-8.5-9v18M628.0 409.9h17m-8.5-9v18M629.0 411.2h17m-8.5-9v18M629.0 410.4h17m-8.5-9v18M630.0 411.2h17m-8.5-9v18M631.0 409.2h17m-8.5-9v18M631.0 409.4h17m-8.5-9v18M632.0 410.3h17m-8.5-9v18M633.0 409.9h17m-8.5-9v18M634.0 410.0h17m-8.5-9v18M634.0 412.2h17m-8.5-9v18M635.0 407.6h17m-8.5-9v18M636.0 405.9h17m-8.5-9v18M636.0 411.4h17m-8.5-9v18M637.0 409.5h17m-8.5-9v18M638.0 412.8h17m-8.5-9v18M638.0 409.9h17m-8.5-9v18M639.0 407.7h17m-8.5-9v18M640.0 414.6h17m-8.5-9v18M641.0 410.9h17m-8.5-9v18M641.0 409.2h17m-8.5-9v18M642.0 408.5h17m-8.5-9v18M643.0 411.2h17m-8.5-9v18M643.0 408.5h17m-8.5-9v18M644.0 410.7h17m-8.5-9v18M645.0 412.2h17m-8.5-9v18M645.0 406.8h17m-8.5-9v18M646.0 408.8h17m-8.5-9v18M647.0 410.3h17m-8.5-9v18M648.0 412.6h17m-8.5-9v18M648.0 410.9h17m-8.5-9v18M649.0 407.8h17m-8.5-9v18M650.0 411.5h17m-8.5-9v18M650.0 407.5h17m-8.5-9v18M651.0 407.6h17m-8.5-9v18M652.0 408.4h17m-8.5-9v18M652.0 404.9h17m-8.5-9v18M653.0 413.3h17m-8.5-9v18M654.0 408.9h17m-8.5-9v18M655.0 406.4h17m-8.5-9v18M655.0 404.3h17m-8.5-9v18M656.0 402.5h17m-8.5-9v18M657.0 405.2h17m-8.5-9v18M657.0 405.4h17m-8.5-9v18M658.0 402.5h17m-8.5-9v18M659.0 402.4h17m-8.5-9v18M659.0 403.4h17m-8.5-9v18M660.0 401.6h17m-8.5-9v18M661.0 397.1h17m-8.5-9v18M662.0 402.1h17m-8.5-9v18M662.0 400.7h17m-8.5-9v18M663.0 401.3h17m-8.5-9v18M664.0 397.6h17m-8.5-9v18M664.0 394.2h17m-8.5-9v18M665.0 395.7h17m-8.5-9v18M666.0 398.7h17m-8.5-9v18M666.0 402.3h17m-8.5-9v18M667.0 402.6h17m-8.5-9v18M668.0 397.8h17m-8.5-9v18M669.0 393.6h17m-8.5-9v18M669.0 395.8h17m-8.5-9v18M670.0 397.3h17m-8.5-9v18M671.0 397.0h17m-8.5-9v18M671.0 396.0h17m-8.5-9v18M672.0 398.7h17m-8.5-9v18M673.0 393.4h17m-8.5-9v18M673.0 390.4h17m-8.5-9v18M674.0 393.2h17m-8.5-9v18M675.0 392.5h17m-8.5-9v18M676.0 400.2h17m-8.5-9v18M676.0 394.7h17m-8.5-9v18M677.0 391.9h17m-8.5-9v18M678.0 396.6h17m-8.5-9v18M678.0 397.6h17m-8.5-9v18M679.0 395.6h17m-8.5-9v18M680.0 396.0h17m-8.5-9v18M680.0 398.1h17m-8.5-9v18M681.0 397.1h17m-8.5-9v18M682.0 394.6h17m-8.5-9v18M683.0 397.8h17m-8.5-9v18M683.0 398.8h17m-8.5-9v18M684.0 397.7h17m-8.5-9v18M685.0 399.2h17m-8.5-9v18M685.0 398.8h17m-8.5-9v18M686.0 397.3h17m-8.5-9v18M687.0 397.8h17m-8.5-9v18M687.0 399.9h17m-8.5-9v18M688.0 397.6h17m-8.5-9v18M689.0 401.7h17m-8.5-9v18M690.0 402.2h17m-8.5-9v18M690.0 395.2h17m-8.5-9v18M691.0 399.9h17m-8.5-9v18M692.0 398.6h17m-8.5-9v18M692.0 399.0h17m-8.5-9v18M693.0 400.9h17m-8.5-9v18M694.0 400.3h17m-8.5-9v18M694.0 402.0h17m-8.5-9v18M695.0 401.5h17m-8.5-9v18M696.0 401.5h17m-8.5-9v18M697.0 398.8h17m-8.5-9v18M697.0 399.7h17m-8.5-9v18M698.0 403.5h17m-8.5-9v18M699.0 394.6h17m-8.5-9v18M699.0 403.7h17m-8.5-9v18M700.0 398.4h17m-8.5-9v18M701.0 402.1h17m-8.5-9v18M701.0 393.5h17m-8.5-9v18M702.0 398.1h17m-8.5-9v18M703.0 400.8h17m-8.5-9v18M704.0 399.1h17m-8.5-9v18M704.0 400.9h17m-8.5-9v18M705.0 396.6h17m-8.5-9v18M706.0 397.3h17m-8.5-9v18M706.0 397.1h17m-8.5-9v18M707.0 399.8h17m-8.5-9v18M708.0 399.8h17m-8.5-9v18M708.0 398.6h17m-8.5-9v18M709.0 398.5h17m-8.5-9v18M710.0 398.7h17m-8.5-9v18M711.0 399.8h17m-8.5-9v18M711.0 397.8h17m-8.5-9v18M712.0 400.0h17m-8.5-9v18M713.0 400.1h17m-8.5-9v18M713.0 399.6h17m-8.5-9v18M714.0 399.8h17m-8.5-9v18M715.0 404.6h17m-8.5-9v18M715.0 400.2h17m-8.5-9v18M716.0 402.7h17m-8.5-9v18M717.0 405.1h17m-8.5-9v18M718.0 403.9h17m-8.5-9v18M718.0 402.5h17m-8.5-9v18M719.0 404.8h17m-8.5-9v18M720.0 399.6h17m-8.5-9v18M720.0 400.2h17m-8.5-9v18M721.0 402.2h17m-8.5-9v18M722.0 402.7h17m-8.5-9v18M722.0 403.1h17m-8.5-9v18M723.0 407.6h17m-8.5-9v18M724.0 407.3h17m-8.5-9v18M725.0 403.7h17m-8.5-9v18M725.0 404.5h17m-8.5-9v18M726.0 402.2h17m-8.5-9v18M727.0 405.1h17m-8.5-9v18M727.0 401.8h17m-8.5-9v18M728.0 408.0h17m-8.5-9v18M729.0 404.2h17m-8.5-9v18M729.0 406.9h17m-8.5-9v18M730.0 403.3h17m-8.5-9v18M731.0 409.5h17m-8.5-9v18M732.0 408.4h17m-8.5-9v18M732.0 411.8h17m-8.5-9v18M733.0 408.3h17m-8.5-9v18M734.0 405.3h17m-8.5-9v18M734.0 407.7h17m-8.5-9v18M735.0 407.3h17m-8.5-9v18M736.0 414.0h17m-8.5-9v18M736.0 410.0h17m-8.5-9v18M737.0 410.4h17m-8.5-9v18M738.0 413.8h17m-8.5-9v18M739.0 413.7h17m-8.5-9v18M739.0 414.8h17m-8.5-9v18M740.0 413.3h17m-8.5-9v18M741.0 410.9h17m-8.5-9v18M741.0 412.8h17m-8.5-9v18M742.0 411.7h17m-8.5-9v18M743.0 419.3h17m-8.5-9v18M743.0 419.2h17m-8.5-9v18M744.0 417.2h17m-8.5-9v18M745.0 419.9h17m-8.5-9v18M746.0 420.6h17m-8.5-9v18M746.0 421.2h17m-8.5-9v18M747.0 421.7h17m-8.5-9v18M748.0 423.1h17m-8.5-9v18M748.0 422.3h17m-8.5-9v18M749.0 418.5h17m-8.5-9v18M750.0 418.2h17m-8.5-9v18M750.0 426.7h17m-8.5-9v18M751.0 426.1h17m-8.5-9v18M752.0 420.8h17m-8.5-9v18M753.0 426.6h17m-8.5-9v18M753.0 425.2h17m-8.5-9v18M754.0 426.4h17m-8.5-9v18M755.0 423.0h17m-8.5-9v18M755.0 429.9h17m-8.5-9v18M756.0 428.7h17m-8.5-9v18M757.0 430.8h17m-8.5-9v18M757.0 431.7h17m-8.5-9v18M758.0 432.4h17m-8.5-9v18M759.0 433.3h17m-8.5-9v18M760.0 431.0h17m-8.5-9v18M760.0 431.0h17m-8.5-9v18M761.0 429.5h17m-8.5-9v18M762.0 431.8h17m-8.5-9v18M762.0 430.5h17m-8.5-9v18M763.0 428.8h17m-8.5-9v18M764.0 433.3h17m-8.5-9v18M764.0 432.4h17m-8.5-9v18M765.0 426.1h17m-8.5-9v18M766.0 427.6h17m-8.5-9v18M767.0 430.7h17m-8.5-9v18M767.0 428.6h17m-8.5-9v18M768.0 433.3h17m-8.5-9v18M769.0 431.4h17m-8.5-9v18M769.0 432.2h17m-8.5-9v18M770.0 432.9h17m-8.5-9v18M771.0 433.6h17m-8.5-9v18M771.0 430.7h17m-8.5-9v18M772.0 432.4h17m-8.5-9v18M773.0 431.8h17m-8.5-9v18M774.0 432.9h17m-8.5-9v18M774.0 432.5h17m-8.5-9v18M775.0 434.2h17m-8.5-9v18M776.0 432.6h17m-8.5-9v18M776.0 430.8h17m-8.5-9v18M777.0 432.0h17m-8.5-9v18M778.0 429.7h17m-8.5-9v18M778.0 432.4h17m-8.5-9v18M779.0 434.6h17m-8.5-9v18M780.0 430.8h17m-8.5-9v18M781.0 428.9h17m-8.5-9v18M781.0 431.8h17m-8.5-9v18M782.0 431.0h17m-8.5-9v18M783.0 432.0h17m-8.5-9v18M783.0 431.0h17m-8.5-9v18M784.0 432.3h17m-8.5-9v18M785.0 430.4h17m-8.5-9v18M785.0 435.3h17m-8.5-9v18M786.0 432.2h17m-8.5-9v18M787.0 433.7h17m-8.5-9v18M788.0 434.3h17m-8.5-9v18M788.0 432.8h17m-8.5-9v18M789.0 434.0h17m-8.5-9v18M790.0 432.9h17m-8.5-9v18M790.0 432.7h17m-8.5-9v18M791.0 433.3h17m-8.5-9v18M792.0 434.7h17m-8.5-9v18M792.0 431.6h17m-8.5-9v18M793.0 432.4h17m-8.5-9v18M794.0 432.7h17m-8.5-9v18M795.0 433.2h17m-8.5-9v18M795.0 436.4h17m-8.5-9v18M796.0 434.2h17m-8.5-9v18M797.0 433.8h17m-8.5-9v18M797.0 434.6h17m-8.5-9v18M798.0 436.3h17m-8.5-9v18M799.0 432.9h17m-8.5-9v18M799.0 436.1h17m-8.5-9v18M800.0 429.9h17m-8.5-9v18M801.0 432.4h17m-8.5-9v18M802.0 436.6h17m-8.5-9v18M802.0 436.5h17m-8.5-9v18M803.0 433.8h17m-8.5-9v18M804.0 432.4h17m-8.5-9v18M804.0 434.3h17m-8.5-9v18M805.0 431.7h17m-8.5-9v18M806.0 435.0h17m-8.5-9v18M806.0 433.9h17m-8.5-9v18M807.0 432.8h17m-8.5-9v18M808.0 429.4h17m-8.5-9v18M809.0 432.5h17m-8.5-9v18M809.0 430.0h17m-8.5-9v18M810.0 429.8h17m-8.5-9v18M811.0 429.4h17m-8.5-9v18M811.0 430.0h17m-8.5-9v18M812.0 431.3h17m-8.5-9v18M813.0 432.2h17m-8.5-9v18M813.0 432.6h17m-8.5-9v18M814.0 437.8h17m-8.5-9v18M815.0 431.4h17m-8.5-9v18M816.0 434.8h17m-8.5-9v18M816.0 432.1h17m-8.5-9v18M817.0 433.7h17m-8.5-9v18M818.0 432.7h17m-8.5-9v18M818.0 437.7h17m-8.5-9v18M819.0 436.8h17m-8.5-9v18M820.0 437.3h17m-8.5-9v18M820.0 437.6h17m-8.5-9v18M821.0 440.2h17m-8.5-9v18M822.0 438.4h17m-8.5-9v18M823.0 440.6h17m-8.5-9v18M823.0 444.9h17m-8.5-9v18M824.0 440.6h17m-8.5-9v18M825.0 440.2h17m-8.5-9v18M825.0 439.9h17m-8.5-9v18M826.0 443.4h17m-8.5-9v18M827.0 442.3h17m-8.5-9v18M827.0 441.1h17m-8.5-9v18M828.0 441.1h17m-8.5-9v18M829.0 442.8h17m-8.5-9v18M830.0 441.0h17m-8.5-9v18M830.0 446.6h17m-8.5-9v18M831.0 442.6h17m-8.5-9v18M832.0 442.6h17m-8.5-9v18M832.0 442.8h17m-8.5-9v18M833.0 439.8h17m-8.5-9v18M834.0 440.4h17m-8.5-9v18M834.0 442.3h17m-8.5-9v18M835.0 442.9h17m-8.5-9v18M836.0 440.7h17m-8.5-9v18M837.0 445.8h17m-8.5-9v18M837.0 443.5h17m-8.5-9v18M838.0 444.9h17m-8.5-9v18M839.0 444.6h17m-8.5-9v18M839.0 442.1h17m-8.5-9v18M840.0 446.6h17m-8.5-9v18M841.0 442.5h17m-8.5-9v18M841.0 438.8h17m-8.5-9v18M842.0 437.9h17m-8.5-9v18M843.0 441.8h17m-8.5-9v18M844.0 443.2h17m-8.5-9v18M844.0 441.7h17m-8.5-9v18M845.0 444.5h17m-8.5-9v18M846.0 440.7h17m-8.5-9v18M846.0 442.2h17m-8.5-9v18M847.0 442.4h17m-8.5-9v18M848.0 439.1h17m-8.5-9v18M848.0 441.5h17m-8.5-9v18M849.0 441.5h17m-8.5-9v18M850.0 442.8h17m-8.5-9v18M851.0 443.1h17m-8.5-9v18M851.0 442.7h17m-8.5-9v18M852.0 439.6h17m-8.5-9v18M853.0 442.4h17m-8.5-9v18M853.0 443.1h17m-8.5-9v18M854.0 441.3h17m-8.5-9v18M855.0 442.7h17m-8.5-9v18M855.0 442.9h17m-8.5-9v18M856.0 443.8h17m-8.5-9v18M857.0 441.9h17m-8.5-9v18M858.0 442.8h17m-8.5-9v18M858.0 442.4h17m-8.5-9v18M859.0 442.3h17m-8.5-9v18M860.0 441.2h17m-8.5-9v18M860.0 441.8h17m-8.5-9v18M861.0 440.4h17m-8.5-9v18M862.0 442.2h17m-8.5-9v18M862.0 443.8h17m-8.5-9v18M863.0 443.8h17m-8.5-9v18M864.0 444.1h17m-8.5-9v18M865.0 442.6h17m-8.5-9v18M865.0 445.4h17m-8.5-9v18M866.0 442.2h17m-8.5-9v18M867.0 444.5h17m-8.5-9v18M867.0 444.0h17m-8.5-9v18M868.0 442.0h17m-8.5-9v18M869.0 442.1h17m-8.5-9v18M869.0 444.8h17m-8.5-9v18M870.0 443.6h17m-8.5-9v18M871.0 444.1h17m-8.5-9v18M872.0 449.1h17m-8.5-9v18M872.0 444.7h17m-8.5-9v18M873.0 443.9h17m-8.5-9v18M874.0 445.0h17m-8.5-9v18M874.0 442.5h17m-8.5-9v18M875.0 443.3h17m-8.5-9v18M876.0 444.3h17m-8.5-9v18M876.0 442.0h17m-8.5-9v18M877.0 443.3h17m-8.5-9v18M878.0 442.9h17m-8.5-9v18M879.0 443.4h17m-8.5-9v18M879.0 439.8h17m-8.5-9v18M880.0 446.2h17m-8.5-9v18M881.0 442.7h17m-8.5-9v18M881.0 443.8h17m-8.5-9v18M882.0 440.8h17m-8.5-9v18M883.0 440.2h17m-8.5-9v18M883.0 442.6h17m-8.5-9v18M884.0 441.8h17m-8.5-9v18M885.0 443.6h17m-8.5-9v18M886.0 440.6h17m-8.5-9v18M886.0 440.4h17m-8.5-9v18M887.0 442.8h17m-8.5-9v18M888.0 443.4h17m-8.5-9v18M888.0 443.7h17m-8.5-9v18M889.0 441.8h17m-8.5-9v18M890.0 442.3h17m-8.5-9v18M890.0 440.2h17m-8.5-9v18M891.0 444.0h17m-8.5-9v18M892.0 443.5h17m-8.5-9v18M893.0 443.3h17m-8.5-9v18M893.0 438.0h17m-8.5-9v18M894.0 442.5h17m-8.5-9v18M895.0 439.3h17m-8.5-9v18M895.0 441.4h17m-8.5-9v18M896.0 441.0h17m-8.5-9v18M897.0 442.4h17m-8.5-9v18M897.0 439.4h17m-8.5-9v18M898.0 438.9h17m-8.5-9v18M899.0 437.4h17m-8.5-9v18M900.0 436.9h17m-8.5-9v18M900.0 440.1h17m-8.5-9v18M901.0 437.0h17m-8.5-9v18M902.0 439.8h17m-8.5-9v18M902.0 437.5h17m-8.5-9v18M903.0 436.9h17m-8.5-9v18M904.0 439.7h17m-8.5-9v18M904.0 439.3h17m-8.5-9v18M905.0 435.4h17m-8.5-9v18M906.0 436.8h17m-8.5-9v18M907.0 437.0h17m-8.5-9v18M907.0 438.2h17m-8.5-9v18M908.0 435.3h17m-8.5-9v18M909.0 435.9h17m-8.5-9v18M909.0 436.5h17m-8.5-9v18M910.0 438.1h17m-8.5-9v18M911.0 438.6h17m-8.5-9v18M911.0 435.9h17m-8.5-9v18M912.0 440.6h17m-8.5-9v18M913.0 438.1h17m-8.5-9v18M914.0 435.8h17m-8.5-9v18M914.0 434.5h17m-8.5-9v18M915.0 436.8h17m-8.5-9v18M916.0 433.2h17m-8.5-9v18M916.0 438.5h17m-8.5-9v18M917.0 439.4h17m-8.5-9v18M918.0 441.0h17m-8.5-9v18M918.0 439.6h17m-8.5-9v18M919.0 435.3h17m-8.5-9v18M920.0 438.4h17m-8.5-9v18M921.0 440.5h17m-8.5-9v18M921.0 435.0h17m-8.5-9v18M922.0 437.9h17m-8.5-9v18M923.0 441.1h17m-8.5-9v18M923.0 440.2h17m-8.5-9v18M924.0 436.4h17m-8.5-9v18M925.0 439.7h17m-8.5-9v18M925.0 441.1h17m-8.5-9v18M926.0 445.6h17m-8.5-9v18M927.0 440.9h17m-8.5-9v18M928.0 440.4h17m-8.5-9v18M928.0 443.1h17m-8.5-9v18M929.0 443.7h17m-8.5-9v18M930.0 444.5h17m-8.5-9v18M930.0 446.7h17m-8.5-9v18M931.0 444.1h17m-8.5-9v18M932.0 441.9h17m-8.5-9v18M932.0 445.1h17m-8.5-9v18M933.0 445.5h17m-8.5-9v18M934.0 447.8h17m-8.5-9v18M935.0 448.0h17m-8.5-9v18M935.0 445.4h17m-8.5-9v18M936.0 448.8h17m-8.5-9v18" stroke="#000" stroke-width="1" fill="none"/>
<polyline points="71.2,390.1 71.7,389.8 72.2,389.5 72.7,389.2 73.2,388.9 73.7,388.7 74.2,388.4 74.7,388.1 75.2,387.9 75.7,387.6 76.2,387.4 76.7,387.1 77.2,386.9 77.7,386.6 78.2,386.4 78.7,386.1 79.2,385.9 79.7,385.6 80.2,385.3 80.7,385.1 81.2,384.8 81.7,384.5 82.2,384.2 82.7,384.0 83.2,383.7 83.7,383.4 84.2,383.1 84.7,382.8 85.2,382.5 85.7,382.1 86.2,381.8 86.7,381.5 87.2,381.2 87.7,380.9 88.2,380.6 88.7,380.2 89.2,379.9 89.7,379.6 90.2,379.2 90.7,378.9 91.2,378.5 91.7,378.2 92.2,377.8 92.7,377.4 93.2,377.0 93.7,376.7 94.2,376.2 94.7,375.8 95.2,375.4 95.7,375.0 96.2,374.5 96.7,374.1 97.2,373.6 97.7,373.1 98.2,372.6 98.7,372.1 99.2,371.6 99.7,371.0 100.2,370.5 100.7,370.0 101.2,369.4 101.7,368.8 102.2,368.2 102.7,367.7 103.2,367.1 103.7,366.5 104.2,365.8 104.7,365.2 105.2,364.6 105.7,364.0 106.2,363.3 106.7,362.7 107.2,362.1 107.7,361.4 108.2,360.7 108.7,360.1 109.2,359.4 109.7,358.7 110.2,358.1 110.7,357.4 111.2,356.7 111.7,356.0 112.2,355.3 112.7,354.6 113.2,353.8 113.7,353.1 114.2,352.3 114.7,351.6 115.2,350.8 115.7,350.0 116.2,349.2 116.7,348.4 117.2,347.6 117.7,346.8 118.2,345.9 118.7,345.1 119.2,344.2 119.7,343.3 120.2,342.4 120.7,341.4 121.2,340.5 121.7,339.5 122.2,338.5 122.7,337.5 123.2,336.5 123.7,335.4 124.2,334.4 124.7,333.3 125.2,332.2 125.7,331.0 126.2,329.9 126.7,328.7 127.2,327.5 127.7,326.2 128.2,325.0 128.7,323.7 129.2,322.3 129.7,321.0 130.2,319.6 130.7,318.2 131.2,316.7 131.7,315.3 132.2,313.7 132.7,312.2 133.2,310.6 133.7,308.9 134.2,307.3 134.7,305.5 135.2,303.8 135.7,301.9 136.2,300.1 136.7,298.1 137.2,296.1 137.7,294.1 138.2,292.0 138.7,289.8 139.2,287.6 139.7,285.3 140.2,282.9 140.7,280.4 141.2,277.9 141.7,275.2 142.2,272.5 142.7,269.7 143.2,266.8 143.7,263.8 144.2,260.7 144.7,257.5 145.2,254.2 145.7,250.7 146.2,247.2 146.7,243.5 147.2,239.7 147.7,235.8 148.2,231.7 148.7,227.4 149.2,223.1 149.7,218.5 150.2,213.8 150.7,208.9 151.2,203.9 151.7,198.7 152.2,193.3 152.7,187.7 153.2,182.0 153.7,176.1 154.2,170.1 154.7,163.9 155.2,157.6 155.7,151.3 156.2,144.8 156.7,138.4 157.2,132.0 157.7,125.7 158.2,119.6 158.7,113.7 159.2,108.1 159.7,103.0 160.2,98.4 160.7,94.3 161.2,91.0 161.7,88.4 162.2,86.6 162.7,85.7 163.2,85.7 163.7,86.5 164.2,88.2 164.7,90.8 165.2,94.0 165.7,97.9 166.2,102.4 166.7,107.4 167.2,112.8 167.7,118.5 168.2,124.5 168.7,130.6 169.2,136.8 169.7,143.0 170.2,149.2 170.7,155.3 171.2,161.4 171.7,167.3 172.2,173.1 172.7,178.8 173.2,184.3 173.7,189.6 174.2,194.8 174.7,199.8 175.2,204.6 175.7,209.3 176.2,213.8 176.7,218.2 177.2,222.4 177.7,226.5 178.2,230.4 178.7,234.3 179.2,237.9 179.7,241.5 180.2,244.9 180.7,248.2 181.2,251.4 181.7,254.5 182.2,257.4 182.7,260.3 183.2,263.0 183.7,265.6 184.2,268.1 184.7,270.5 185.2,272.9 185.7,275.1 186.2,277.2 186.7,279.3 187.2,281.3 187.7,283.2 188.2,285.0 188.7,286.8 189.2,288.5 189.7,290.1 190.2,291.7 190.7,293.2 191.2,294.7 191.7,296.1 192.2,297.4 192.7,298.8 193.2,300.0 193.7,301.2 194.2,302.4 194.7,303.5 195.2,304.6 195.7,305.7 196.2,306.7 196.7,307.7 197.2,308.6 197.7,309.5 198.2,310.4 198.7,311.3 199.2,312.1 199.7,312.8 200.2,313.6 200.7,314.3 201.2,315.0 201.7,315.6 202.2,316.3 202.7,316.8 203.2,317.4 203.7,317.9 204.2,318.4 204.7,318.9 205.2,319.3 205.7,319.7 206.2,320.1 206.7,320.5 207.2,320.8 207.7,321.1 208.2,321.4 208.7,321.7 209.2,322.0 209.7,322.3 210.2,322.5 210.7,322.8 211.2,323.0 211.7,323.3 212.2,323.5 212.7,323.7 213.2,324.0 213.7,324.2 214.2,324.4 214.7,324.6 215.2,324.7 215.7,324.9 216.2,325.0 216.7,325.2 217.2,325.3 217.7,325.4 218.2,325.5 218.7,325.5 219.2,325.6 219.7,325.6 220.2,325.6 220.7,325.7 221.2,325.6 221.7,325.6 222.2,325.6 222.7,325.5 223.2,325.4 223.7,325.4 224.2,325.3 224.7,325.2 225.2,325.1 225.7,324.9 226.2,324.8 226.7,324.7 227.2,324.5 227.7,324.4 228.2,324.2 228.7,324.0 229.2,323.9 229.7,323.7 230.2,323.5 230.7,323.3 231.2,323.0 231.7,322.8 232.2,322.6 232.7,322.3 233.2,322.0 233.7,321.7 234.2,321.4 234.7,321.1 235.2,320.8 235.7,320.5 236.2,320.1 236.7,319.7 237.2,319.4 237.7,319.0 238.2,318.5 238.7,318.1 239.2,317.6 239.7,317.1 240.2,316.6 240.7,316.0 241.2,315.4 241.7,314.8 242.2,314.2 242.7,313.5 243.2,312.8 243.7,312.0 244.2,311.2 244.7,310.4 245.2,309.5 245.7,308.6 246.2,307.6 246.7,306.6 247.2,305.5 247.7,304.4 248.2,303.2 248.7,301.9 249.2,300.6 249.7,299.2 250.2,297.8 250.7,296.3 251.2,294.6 251.7,292.9 252.2,291.1 252.7,289.2 253.2,287.2 253.7,285.1 254.2,282.9 254.7,280.5 255.2,278.0 255.7,275.3 256.2,272.5 256.7,269.6 257.2,266.4 257.7,263.1 258.2,259.7 258.7,256.0 259.2,252.2 259.7,248.1 260.2,243.9 260.7,239.4 261.2,234.8 261.7,230.0 262.2,225.0 262.7,219.9 263.2,214.6 263.7,209.3 264.2,203.8 264.7,198.4 265.2,193.1 265.7,188.0 266.2,183.1 266.7,178.5 267.2,174.5 267.7,171.0 268.2,168.2 268.7,166.2 269.2,165.0 269.7,164.7 270.2,165.4 270.7,166.9 271.2,169.3 271.7,172.4 272.2,176.2 272.7,180.6 273.2,185.5 273.7,190.6 274.2,196.1 274.7,201.7 275.2,207.3 275.7,213.0 276.2,218.7 276.7,224.3 277.2,229.7 277.7,235.1 278.2,240.3 278.7,245.3 279.2,250.2 279.7,254.9 280.2,259.5 280.7,263.9 281.2,268.1 281.7,272.2 282.2,276.1 282.7,279.9 283.2,283.6 283.7,287.1 284.2,290.5 284.7,293.7 285.2,296.8 285.7,299.8 286.2,302.7 286.7,305.5 287.2,308.2 287.7,310.7 288.2,313.2 288.7,315.6 289.2,317.8 289.7,320.0 290.2,322.0 290.7,324.0 291.2,325.9 291.7,327.7 292.2,329.4 292.7,331.1 293.2,332.6 293.7,334.1 294.2,335.5 294.7,336.8 295.2,338.0 295.7,339.2 296.2,340.3 296.7,341.3 297.2,342.3 297.7,343.3 298.2,344.2 298.7,345.0 299.2,345.8 299.7,346.6 300.2,347.3 300.7,348.0 301.2,348.7 301.7,349.3 302.2,350.0 302.7,350.6 303.2,351.2 303.7,351.7 304.2,352.3 304.7,352.8 305.2,353.3 305.7,353.8 306.2,354.3 306.7,354.7 307.2,355.1 307.7,355.5 308.2,355.9 308.7,356.3 309.2,356.6 309.7,356.9 310.2,357.1 310.7,357.3 311.2,357.5 311.7,357.6 312.2,357.7 312.7,357.7 313.2,357.7 313.7,357.7 314.2,357.5 314.7,357.4 315.2,357.1 315.7,356.8 316.2,356.4 316.7,356.0 317.2,355.5 317.7,354.9 318.2,354.2 318.7,353.5 319.2,352.6 319.7,351.7 320.2,350.7 320.7,349.6 321.2,348.4 321.7,347.1 322.2,345.7 322.7,344.3 323.2,342.9 323.7,341.4 324.2,339.8 324.7,338.4 325.2,336.9 325.7,335.6 326.2,334.3 326.7,333.3 327.2,332.4 327.7,331.8 328.2,331.4 328.7,331.3 329.2,331.5 329.7,332.0 330.2,332.8 330.7,333.8 331.2,335.1 331.7,336.6 332.2,338.3 332.7,340.1 333.2,342.1 333.7,344.0 334.2,346.0 334.7,348.0 335.2,350.0 335.7,351.9 336.2,353.7 336.7,355.4 337.2,357.0 337.7,358.5 338.2,360.0 338.7,361.3 339.2,362.5 339.7,363.6 340.2,364.7 340.7,365.8 341.2,366.8 341.7,367.8 342.2,368.8 342.7,369.8 343.2,370.7 343.7,371.7 344.2,372.7 344.7,373.7 345.2,374.7 345.7,375.7 346.2,376.7 346.7,377.6 347.2,378.5 347.7,379.4 348.2,380.2 348.7,381.0 349.2,381.7 349.7,382.4 350.2,383.1 350.7,383.7 351.2,384.3 351.7,384.8 352.2,385.3 352.7,385.8 353.2,386.3 353.7,386.7 354.2,387.1 354.7,387.5 355.2,387.9 355.7,388.3 356.2,388.6 356.7,389.0 357.2,389.3 357.7,389.6 358.2,389.9 358.7,390.2 359.2,390.5 359.7,390.8 360.2,391.1 360.7,391.4 361.2,391.7 361.7,391.9 362.2,392.2 362.7,392.5 363.2,392.7 363.7,393.0 364.2,393.2 364.7,393.4 365.2,393.7 365.7,393.9 366.2,394.1 366.7,394.3 367.2,394.5 367.7,394.7 368.2,394.9 368.7,395.1 369.2,395.3 369.7,395.5 370.2,395.6 370.7,395.8 371.2,395.9 371.7,396.1 372.2,396.2 372.7,396.3 373.2,396.5 373.7,396.6 374.2,396.7 374.7,396.8 375.2,396.9 375.7,397.0 376.2,397.0 376.7,397.1 377.2,397.2 377.7,397.3 378.2,397.4 378.7,397.4 379.2,397.5 379.7,397.6 380.2,397.7 380.7,397.7 381.2,397.8 381.7,397.9 382.2,398.0 382.7,398.0 383.2,398.1 383.7,398.2 384.2,398.2 384.7,398.3 385.2,398.3 385.7,398.4 386.2,398.4 386.7,398.4 387.2,398.5 387.7,398.5 388.2,398.5 388.7,398.5 389.2,398.5 389.7,398.5 390.2,398.4 390.7,398.4 391.2,398.4 391.7,398.3 392.2,398.3 392.7,398.2 393.2,398.2 393.7,398.1 394.2,398.0 394.7,397.9 395.2,397.8 395.7,397.7 396.2,397.6 396.7,397.6 397.2,397.5 397.7,397.4 398.2,397.3 398.7,397.3 399.2,397.3 399.7,397.3 400.2,397.3 400.7,397.3 401.2,397.4 401.7,397.5 402.2,397.7 402.7,397.9 403.2,398.1 403.7,398.3 404.2,398.6 404.7,398.8 405.2,399.1 405.7,399.4 406.2,399.7 406.7,400.0 407.2,400.3 407.7,400.5 408.2,400.8 408.7,401.1 409.2,401.3 409.7,401.6 410.2,401.8 410.7,402.0 411.2,402.3 411.7,402.5 412.2,402.6 412.7,402.8 413.2,403.0 413.7,403.1 414.2,403.3 414.7,403.4 415.2,403.6 415.7,403.7 416.2,403.8 416.7,403.9 417.2,404.1 417.7,404.2 418.2,404.3 418.7,404.4 419.2,404.5 419.7,404.5 420.2,404.6 420.7,404.7 421.2,404.8 421.7,404.9 422.2,405.0 422.7,405.1 423.2,405.1 423.7,405.2 424.2,405.3 424.7,405.4 425.2,405.4 425.7,405.5 426.2,405.6 426.7,405.6 427.2,405.7 427.7,405.8 428.2,405.8 428.7,405.9 429.2,405.9 429.7,406.0 430.2,406.0 430.7,406.0 431.2,406.0 431.7,406.0 432.2,406.0 432.7,406.0 433.2,406.0 433.7,406.0 434.2,405.9 434.7,405.9 435.2,405.8 435.7,405.8 436.2,405.8 436.7,405.8 437.2,405.8 437.7,405.8 438.2,405.8 438.7,405.8 439.2,405.8 439.7,405.8 440.2,405.8 440.7,405.9 441.2,405.9 441.7,405.9 442.2,406.0 442.7,406.0 443.2,406.0 443.7,406.1 444.2,406.1 444.7,406.1 445.2,406.2 445.7,406.2 446.2,406.2 446.7,406.3 447.2,406.3 447.7,406.4 448.2,406.4 448.7,406.4 449.2,406.5 449.7,406.5 450.2,406.5 450.7,406.6 451.2,406.6 451.7,406.6 452.2,406.7 452.7,406.7 453.2,406.7 453.7,406.8 454.2,406.8 454.7,406.8 455.2,406.8 455.7,406.9 456.2,406.9 456.7,406.9 457.2,406.9 457.7,407.0 458.2,407.0 458.7,407.0 459.2,407.0 459.7,407.0 460.2,407.1 460.7,407.1 461.2,407.1 461.7,407.1 462.2,407.1 462.7,407.2 463.2,407.2 463.7,407.2 464.2,407.2 464.7,407.2 465.2,407.2 465.7,407.2 466.2,407.3 466.7,407.3 467.2,407.3 467.7,407.3 468.2,407.3 468.7,407.3 469.2,407.3 469.7,407.3 470.2,407.3 470.7,407.3 471.2,407.3 471.7,407.3 472.2,407.4 472.7,407.4 473.2,407.4 473.7,407.4 474.2,407.4 474.7,407.4 475.2,407.4 475.7,407.4 476.2,407.4 476.7,407.3 477.2,407.3 477.7,407.3 478.2,407.3 478.7,407.3 479.2,407.2 479.7,407.2 480.2,407.1 480.7,407.1 481.2,407.0 481.7,406.9 482.2,406.9 482.7,406.8 483.2,406.7 483.7,406.6 484.2,406.5 484.7,406.4 485.2,406.3 485.7,406.1 486.2,406.0 486.7,405.8 487.2,405.7 487.7,405.5 488.2,405.4 488.7,405.2 489.2,405.0 489.7,404.8 490.2,404.6 490.7,404.4 491.2,404.2 491.7,403.9 492.2,403.7 492.7,403.4 493.2,403.1 493.7,402.8 494.2,402.5 494.7,402.2 495.2,401.9 495.7,401.6 496.2,401.2 496.7,400.8 497.2,400.4 497.7,400.0 498.2,399.6 498.7,399.1 499.2,398.6 499.7,398.2 500.2,397.6 500.7,397.1 501.2,396.5 501.7,395.9 502.2,395.3 502.7,394.7 503.2,394.0 503.7,393.3 504.2,392.6 504.7,391.8 505.2,391.1 505.7,390.2 506.2,389.4 506.7,388.5 507.2,387.5 507.7,386.6 508.2,385.6 508.7,384.5 509.2,383.4 509.7,382.2 510.2,381.0 510.7,379.8 511.2,378.5 511.7,377.1 512.2,375.7 512.7,374.2 513.2,372.6 513.7,371.0 514.2,369.2 514.7,367.4 515.2,365.6 515.7,363.6 516.2,361.5 516.7,359.4 517.2,357.1 517.7,354.8 518.2,352.4 518.7,349.8 519.2,347.2 519.7,344.4 520.2,341.6 520.7,338.6 521.2,335.6 521.7,332.4 522.2,329.2 522.7,325.8 523.2,322.4 523.7,318.9 524.2,315.4 524.7,311.7 525.2,308.1 525.7,304.5 526.2,300.8 526.7,297.2 527.2,293.7 527.7,290.3 528.2,287.0 528.7,283.9 529.2,281.0 529.7,278.3 530.2,275.9 530.7,273.9 531.2,272.2 531.7,270.9 532.2,270.0 532.7,269.5 533.2,269.4 533.7,269.8 534.2,270.6 534.7,271.8 535.2,273.3 535.7,275.3 536.2,277.5 536.7,280.1 537.2,282.9 537.7,285.9 538.2,289.1 538.7,292.4 539.2,295.9 539.7,299.4 540.2,303.0 540.7,306.5 541.2,310.1 541.7,313.6 542.2,317.1 542.7,320.5 543.2,323.8 543.7,327.0 544.2,330.1 544.7,333.1 545.2,336.0 545.7,338.7 546.2,341.4 546.7,343.9 547.2,346.3 547.7,348.6 548.2,350.8 548.7,352.8 549.2,354.8 549.7,356.7 550.2,358.4 550.7,360.1 551.2,361.7 551.7,363.1 552.2,364.5 552.7,365.9 553.2,367.1 553.7,368.3 554.2,369.3 554.7,370.4 555.2,371.3 555.7,372.2 556.2,373.0 556.7,373.7 557.2,374.4 557.7,375.1 558.2,375.6 558.7,376.2 559.2,376.7 559.7,377.1 560.2,377.5 560.7,377.9 561.2,378.2 561.7,378.5 562.2,378.8 562.7,379.1 563.2,379.3 563.7,379.6 564.2,379.8 564.7,380.0 565.2,380.2 565.7,380.4 566.2,380.6 566.7,380.9 567.2,381.1 567.7,381.4 568.2,381.6 568.7,381.9 569.2,382.2 569.7,382.5 570.2,382.9 570.7,383.3 571.2,383.7 571.7,384.1 572.2,384.5 572.7,385.0 573.2,385.5 573.7,386.1 574.2,386.6 574.7,387.2 575.2,387.8 575.7,388.5 576.2,389.1 576.7,389.8 577.2,390.4 577.7,391.1 578.2,391.8 578.7,392.5 579.2,393.2 579.7,393.9 580.2,394.6 580.7,395.3 581.2,396.0 581.7,396.7 582.2,397.4 582.7,398.0 583.2,398.7 583.7,399.3 584.2,399.9 584.7,400.5 585.2,401.1 585.7,401.7 586.2,402.3 586.7,402.8 587.2,403.3 587.7,403.8 588.2,404.3 588.7,404.7 589.2,405.1 589.7,405.6 590.2,405.9 590.7,406.3 591.2,406.7 591.7,407.0 592.2,407.3 592.7,407.6 593.2,407.9 593.7,408.2 594.2,408.5 594.7,408.7 595.2,409.0 595.7,409.2 596.2,409.5 596.7,409.7 597.2,409.9 597.7,410.1 598.2,410.3 598.7,410.4 599.2,410.6 599.7,410.8 600.2,410.9 600.7,411.1 601.2,411.2 601.7,411.3 602.2,411.5 602.7,411.6 603.2,411.7 603.7,411.8 604.2,411.9 604.7,412.0 605.2,412.1 605.7,412.2 606.2,412.2 606.7,412.3 607.2,412.4 607.7,412.4 608.2,412.5 608.7,412.5 609.2,412.6 609.7,412.6 610.2,412.6 610.7,412.6 611.2,412.6 611.7,412.6 612.2,412.6 612.7,412.6 613.2,412.6 613.7,412.5 614.2,412.5 614.7,412.5 615.2,412.4 615.7,412.3 616.2,412.3 616.7,412.2 617.2,412.2 617.7,412.1 618.2,412.0 618.7,411.9 619.2,411.9 619.7,411.8 620.2,411.7 620.7,411.6 621.2,411.5 621.7,411.5 622.2,411.4 622.7,411.3 623.2,411.2 623.7,411.1 624.2,411.0 624.7,411.0 625.2,410.9 625.7,410.8 626.2,410.7 626.7,410.6 627.2,410.5 627.7,410.4 628.2,410.3 628.7,410.2 629.2,410.0 629.7,409.9 630.2,409.8 630.7,409.6 631.2,409.5 631.7,409.4 632.2,409.2 632.7,409.1 633.2,409.0 633.7,408.9 634.2,408.8 634.7,408.7 635.2,408.6 635.7,408.5 636.2,408.4 636.7,408.4 637.2,408.4 637.7,408.3 638.2,408.3 638.7,408.3 639.2,408.3 639.7,408.3 640.2,408.3 640.7,408.3 641.2,408.3 641.7,408.4 642.2,408.4 642.7,408.4 643.2,408.5 643.7,408.5 644.2,408.5 644.7,408.6 645.2,408.6 645.7,408.7 646.2,408.7 646.7,408.8 647.2,408.8 647.7,408.9 648.2,408.9 648.7,408.9 649.2,409.0 649.7,409.0 650.2,409.0 650.7,409.0 651.2,409.0 651.7,408.9 652.2,408.9 652.7,408.9 653.2,408.8 653.7,408.8 654.2,408.7 654.7,408.7 655.2,408.6 655.7,408.5 656.2,408.5 656.7,408.4 657.2,408.3 657.7,408.2 658.2,408.1 658.7,408.0 659.2,407.9 659.7,407.8 660.2,407.6 660.7,407.5 661.2,407.4 661.7,407.2 662.2,407.0 662.7,406.9 663.2,406.7 663.7,406.5 664.2,406.3 664.7,406.1 665.2,405.8 665.7,405.6 666.2,405.3 666.7,405.1 667.2,404.8 667.7,404.5 668.2,404.2 668.7,403.8 669.2,403.5 669.7,403.2 670.2,402.8 670.7,402.5 671.2,402.1 671.7,401.7 672.2,401.4 672.7,401.0 673.2,400.6 673.7,400.2 674.2,399.8 674.7,399.5 675.2,399.1 675.7,398.7 676.2,398.4 676.7,398.0 677.2,397.7 677.7,397.4 678.2,397.1 678.7,396.8 679.2,396.6 679.7,396.3 680.2,396.1 680.7,395.9 681.2,395.7 681.7,395.6 682.2,395.5 682.7,395.4 683.2,395.3 683.7,395.3 684.2,395.2 684.7,395.2 685.2,395.3 685.7,395.3 686.2,395.4 686.7,395.4 687.2,395.5 687.7,395.6 688.2,395.7 688.7,395.9 689.2,396.0 689.7,396.1 690.2,396.3 690.7,396.5 691.2,396.6 691.7,396.8 692.2,396.9 692.7,397.1 693.2,397.2 693.7,397.4 694.2,397.5 694.7,397.7 695.2,397.8 695.7,398.0 696.2,398.1 696.7,398.2 697.2,398.3 697.7,398.4 698.2,398.5 698.7,398.6 699.2,398.7 699.7,398.8 700.2,398.8 700.7,398.9 701.2,398.9 701.7,398.9 702.2,399.0 702.7,399.0 703.2,399.0 703.7,399.0 704.2,399.0 704.7,398.9 705.2,398.9 705.7,398.9 706.2,398.8 706.7,398.8 707.2,398.7 707.7,398.7 708.2,398.6 708.7,398.5 709.2,398.4 709.7,398.4 710.2,398.3 710.7,398.2 711.2,398.1 711.7,398.1 712.2,398.0 712.7,397.9 713.2,397.9 713.7,397.8 714.2,397.8 714.7,397.7 715.2,397.7 715.7,397.6 716.2,397.6 716.7,397.6 717.2,397.6 717.7,397.6 718.2,397.6 718.7,397.6 719.2,397.7 719.7,397.7 720.2,397.8 720.7,397.9 721.2,398.0 721.7,398.1 722.2,398.2 722.7,398.3 723.2,398.5 723.7,398.6 724.2,398.8 724.7,398.9 725.2,399.1 725.7,399.2 726.2,399.4 726.7,399.6 727.2,399.8 727.7,400.0 728.2,400.2 728.7,400.4 729.2,400.6 729.7,400.8 730.2,401.0 730.7,401.2 731.2,401.4 731.7,401.6 732.2,401.8 732.7,402.0 733.2,402.2 733.7,402.4 734.2,402.6 734.7,402.9 735.2,403.1 735.7,403.3 736.2,403.5 736.7,403.7 737.2,404.0 737.7,404.2 738.2,404.5 738.7,404.7 739.2,405.0 739.7,405.2 740.2,405.5 740.7,405.8 741.2,406.2 741.7,406.5 742.2,406.8 742.7,407.2 743.2,407.6 743.7,408.0 744.2,408.4 744.7,408.8 745.2,409.2 745.7,409.7 746.2,410.1 746.7,410.6 747.2,411.1 747.7,411.6 748.2,412.1 748.7,412.6 749.2,413.1 749.7,413.6 750.2,414.1 750.7,414.6 751.2,415.1 751.7,415.6 752.2,416.1 752.7,416.6 753.2,417.0 753.7,417.5 754.2,418.0 754.7,418.4 755.2,418.9 755.7,419.3 756.2,419.8 756.7,420.2 757.2,420.6 757.7,421.0 758.2,421.4 758.7,421.8 759.2,422.2 759.7,422.6 760.2,423.0 760.7,423.3 761.2,423.7 761.7,424.0 762.2,424.4 762.7,424.7 763.2,425.0 763.7,425.3 764.2,425.6 764.7,425.9 765.2,426.1 765.7,426.4 766.2,426.6 766.7,426.9 767.2,427.1 767.7,427.3 768.2,427.5 768.7,427.7 769.2,427.9 769.7,428.1 770.2,428.2 770.7,428.4 771.2,428.6 771.7,428.7 772.2,428.8 772.7,429.0 773.2,429.1 773.7,429.2 774.2,429.3 774.7,429.4 775.2,429.5 775.7,429.6 776.2,429.7 776.7,429.8 777.2,429.9 777.7,429.9 778.2,430.0 778.7,430.1 779.2,430.1 779.7,430.2 780.2,430.2 780.7,430.2 781.2,430.3 781.7,430.3 782.2,430.3 782.7,430.4 783.2,430.4 783.7,430.5 784.2,430.5 784.7,430.5 785.2,430.6 785.7,430.6 786.2,430.6 786.7,430.7 787.2,430.7 787.7,430.8 788.2,430.8 788.7,430.8 789.2,430.9 789.7,430.9 790.2,431.0 790.7,431.1 791.2,431.1 791.7,431.2 792.2,431.3 792.7,431.3 793.2,431.4 793.7,431.5 794.2,431.6 794.7,431.7 795.2,431.7 795.7,431.8 796.2,431.9 796.7,432.0 797.2,432.1 797.7,432.2 798.2,432.3 798.7,432.3 799.2,432.4 799.7,432.5 800.2,432.6 800.7,432.7 801.2,432.7 801.7,432.8 802.2,432.8 802.7,432.9 803.2,432.9 803.7,433.0 804.2,433.0 804.7,433.0 805.2,433.0 805.7,433.0 806.2,433.0 806.7,433.0 807.2,433.0 807.7,432.9 808.2,432.9 808.7,432.8 809.2,432.7 809.7,432.6 810.2,432.5 810.7,432.3 811.2,432.2 811.7,432.0 812.2,431.8 812.7,431.7 813.2,431.5 813.7,431.3 814.2,431.1 814.7,430.9 815.2,430.8 815.7,430.6 816.2,430.5 816.7,430.4 817.2,430.3 817.7,430.3 818.2,430.3 818.7,430.4 819.2,430.5 819.7,430.6 820.2,430.8 820.7,431.0 821.2,431.3 821.7,431.5 822.2,431.8 822.7,432.2 823.2,432.5 823.7,432.9 824.2,433.3 824.7,433.6 825.2,434.0 825.7,434.3 826.2,434.7 826.7,435.0 827.2,435.4 827.7,435.7 828.2,436.0 828.7,436.3 829.2,436.5 829.7,436.8 830.2,437.0 830.7,437.3 831.2,437.5 831.7,437.7 832.2,437.9 832.7,438.1 833.2,438.2 833.7,438.4 834.2,438.6 834.7,438.7 835.2,438.8 835.7,439.0 836.2,439.1 836.7,439.2 837.2,439.3 837.7,439.4 838.2,439.5 838.7,439.6 839.2,439.7 839.7,439.8 840.2,439.9 840.7,439.9 841.2,440.0 841.7,440.1 842.2,440.1 842.7,440.2 843.2,440.2 843.7,440.2 844.2,440.3 844.7,440.3 845.2,440.3 845.7,440.3 846.2,440.3 846.7,440.4 847.2,440.4 847.7,440.4 848.2,440.4 848.7,440.4 849.2,440.5 849.7,440.5 850.2,440.5 850.7,440.5 851.2,440.5 851.7,440.6 852.2,440.6 852.7,440.6 853.2,440.6 853.7,440.6 854.2,440.6 854.7,440.6 855.2,440.6 855.7,440.6 856.2,440.6 856.7,440.6 857.2,440.6 857.7,440.6 858.2,440.6 858.7,440.6 859.2,440.5 859.7,440.5 860.2,440.5 860.7,440.5 861.2,440.5 861.7,440.5 862.2,440.5 862.7,440.6 863.2,440.6 863.7,440.7 864.2,440.8 864.7,440.9 865.2,441.0 865.7,441.1 866.2,441.2 866.7,441.3 867.2,441.5 867.7,441.6 868.2,441.7 868.7,441.9 869.2,442.0 869.7,442.1 870.2,442.2 870.7,442.4 871.2,442.5 871.7,442.6 872.2,442.7 872.7,442.7 873.2,442.8 873.7,442.9 874.2,443.0 874.7,443.0 875.2,443.1 875.7,443.1 876.2,443.2 876.7,443.2 877.2,443.2 877.7,443.3 878.2,443.3 878.7,443.3 879.2,443.3 879.7,443.3 880.2,443.3 880.7,443.3 881.2,443.3 881.7,443.3 882.2,443.3 882.7,443.3 883.2,443.2 883.7,443.2 884.2,443.1 884.7,443.1 885.2,443.0 885.7,442.9 886.2,442.8 886.7,442.8 887.2,442.7 887.7,442.5 888.2,442.4 888.7,442.3 889.2,442.2 889.7,442.1 890.2,442.0 890.7,441.9 891.2,441.9 891.7,441.8 892.2,441.7 892.7,441.6 893.2,441.5 893.7,441.4 894.2,441.4 894.7,441.3 895.2,441.2 895.7,441.1 896.2,441.0 896.7,440.9 897.2,440.8 897.7,440.7 898.2,440.6 898.7,440.5 899.2,440.4 899.7,440.3 900.2,440.2 900.7,440.1 901.2,440.0 901.7,439.9 902.2,439.8 902.7,439.7 903.2,439.6 903.7,439.5 904.2,439.4 904.7,439.3 905.2,439.2 905.7,439.1 906.2,439.0 906.7,438.9 907.2,438.8 907.7,438.7 908.2,438.6 908.7,438.5 909.2,438.4 909.7,438.3 910.2,438.3 910.7,438.2 911.2,438.1 911.7,438.0 912.2,438.0 912.7,437.9 913.2,437.8 913.7,437.7 914.2,437.7 914.7,437.6 915.2,437.5 915.7,437.5 916.2,437.4 916.7,437.4 917.2,437.3 917.7,437.3 918.2,437.2 918.7,437.2 919.2,437.2 919.7,437.2 920.2,437.2 920.7,437.2 921.2,437.2 921.7,437.2 922.2,437.2 922.7,437.3 923.2,437.3 923.7,437.4 924.2,437.5 924.7,437.6 925.2,437.7 925.7,437.8 926.2,437.9 926.7,438.0 927.2,438.1 927.7,438.3 928.2,438.5 928.7,438.6 929.2,438.8 929.7,439.0 930.2,439.2 930.7,439.4 931.2,439.6 931.7,439.9 932.2,440.1 932.7,440.3 933.2,440.6 933.7,440.8 934.2,441.1 934.7,441.3 935.2,441.6 935.7,441.9 936.2,442.1 936.7,442.4 937.2,442.7 937.7,443.0 938.2,443.3 938.7,443.6 939.2,443.9 939.7,444.2 940.2,444.5 940.7,444.8 941.2,445.1 941.7,445.5 942.2,445.8 942.7,446.1 943.2,446.5 943.7,446.8 944.2,447.2 944.7,447.5" fill="none" stroke="#f00" stroke-width="4.4" stroke-linejoin="round"/>
<polyline points="71.5,490.7 72.9,493.0 74.3,493.5 75.7,498.5 77.1,488.9 78.5,493.1 79.9,494.1 81.3,492.0 82.7,492.1 84.1,493.5 85.5,488.9 86.9,499.0 88.3,495.1 89.7,494.8 91.1,497.2 92.5,493.0 93.9,489.2 95.3,491.3 96.7,492.5 98.1,496.9 99.5,496.3 100.9,492.6 102.3,498.4 103.7,495.3 105.1,494.0 106.5,493.8 107.9,496.3 109.3,493.1 110.7,493.8 112.1,494.1 113.5,492.7 114.9,493.9 116.3,498.8 117.7,493.6 119.1,492.3 120.5,491.6 121.9,489.3 123.3,494.0 124.7,489.9 126.1,492.7 127.5,493.5 128.9,498.8 130.3,495.3 131.7,494.0 133.1,491.9 134.5,491.8 135.9,493.4 137.3,488.3 138.7,493.7 140.1,494.4 141.5,496.6 142.9,495.2 144.3,496.9 145.7,492.8 147.1,499.5 148.5,498.8 149.9,495.5 151.3,492.5 152.7,496.1 154.1,494.0 155.5,498.5 156.9,497.8 158.3,499.5 159.7,498.2 161.1,498.0 162.5,491.0 163.9,493.3 165.3,484.0 166.7,487.6 168.1,483.2 169.5,485.6 170.9,489.6 172.3,492.3 173.7,494.5 175.1,496.0 176.5,495.4 177.9,500.8 179.3,496.4 180.7,493.2 182.1,494.2 183.5,491.9 184.9,498.2 186.3,495.3 187.7,492.7 189.1,489.2 190.5,497.4 191.9,494.5 193.3,494.3 194.7,494.8 196.1,493.2 197.5,491.5 198.9,497.1 200.3,489.3 201.7,491.7 203.1,490.0 204.5,493.6 205.9,497.1 207.3,488.1 208.7,493.0 210.1,493.6 211.5,493.2 212.9,491.4 214.3,490.4 215.7,491.3 217.1,498.5 218.5,499.0 219.9,494.7 221.3,492.0 222.7,494.7 224.1,493.7 225.5,492.1 226.9,494.4 228.3,493.8 229.7,493.3 231.1,499.5 232.5,491.4 233.9,487.9 235.3,493.3 236.7,488.4 238.1,489.4 239.5,492.4 240.9,495.0 242.3,499.5 243.7,495.0 245.1,494.8 246.5,495.5 247.9,496.2 249.3,494.7 250.7,502.8 252.1,497.4 253.5,495.3 254.9,489.7 256.3,493.2 257.7,500.0 259.1,492.9 260.5,491.4 261.9,495.3 263.3,488.9 264.7,496.6 266.1,493.3 267.5,496.5 268.9,493.5 270.3,493.8 271.7,490.7 273.1,496.7 274.5,493.2 275.9,496.4 277.3,487.7 278.7,499.0 280.1,490.3 281.5,492.5 282.9,489.6 284.3,492.9 285.7,492.5 287.1,495.8 288.5,492.7 289.9,496.1 291.3,487.8 292.7,496.1 294.1,492.5 295.5,493.4 296.9,493.8 298.3,491.5 299.7,494.0 301.1,494.8 302.5,491.9 303.9,492.1 305.3,495.2 306.7,493.5 308.1,499.2 309.5,494.0 310.9,492.8 312.3,499.3 313.7,491.2 315.1,493.6 316.5,496.2 317.9,494.7 319.3,493.2 320.7,488.0 322.1,489.1 323.5,487.2 324.9,487.8 326.3,483.9 327.7,485.2 329.1,485.9 330.5,492.1 331.9,491.3 333.3,491.3 334.7,495.4 336.1,501.7 337.5,498.2 338.9,500.1 340.3,498.9 341.7,501.9 343.1,494.8 344.5,493.9 345.9,492.2 347.3,489.0 348.7,493.9 350.1,489.2 351.5,493.2 352.9,494.9 354.3,491.9 355.7,495.2 357.1,493.9 358.5,492.4 359.9,489.4 361.3,492.6 362.7,493.4 364.1,488.8 365.5,493.6 366.9,496.2 368.3,491.6 369.7,497.5 371.1,493.9 372.5,493.1 373.9,496.1 375.3,492.2 376.7,492.5 378.1,492.6 379.5,496.2 380.9,492.7 382.3,498.3 383.7,494.2 385.1,492.3 386.5,498.1 387.9,492.2 389.3,492.0 390.7,493.0 392.1,490.8 393.5,496.5 394.9,494.5 396.3,491.6 397.7,491.1 399.1,490.4 400.5,496.6 401.9,492.6 403.3,492.6 404.7,490.6 406.1,488.4 407.5,489.4 408.9,487.4 410.3,493.1 411.7,495.7 413.1,489.3 414.5,495.5 415.9,497.3 417.3,494.7 418.7,490.7 420.1,489.0 421.5,491.7 422.9,491.3 424.3,496.5 425.7,495.4 427.1,494.8 428.5,489.0 429.9,497.2 431.3,493.1 432.7,495.2 434.1,492.7 435.5,496.2 436.9,487.8 438.3,492.9 439.7,496.8 441.1,499.3 442.5,496.7 443.9,487.9 445.3,493.5 446.7,491.9 448.1,492.9 449.5,497.6 450.9,492.7 452.3,494.9 453.7,495.0 455.1,494.1 456.5,492.5 457.9,493.4 459.3,496.8 460.7,488.7 462.1,493.8 463.5,494.3 464.9,493.4 466.3,489.8 467.7,493.0 469.1,494.6 470.5,491.7 471.9,491.2 473.3,491.0 474.7,494.1 476.1,493.0 477.5,492.5 478.9,497.2 480.3,491.9 481.7,493.8 483.1,493.1 484.5,495.4 485.9,493.4 487.3,492.3 488.7,492.7 490.1,492.1 491.5,487.6 492.9,493.7 494.3,493.3 495.7,493.4 497.1,487.6 498.5,493.4 499.9,491.6 501.3,494.3 502.7,493.0 504.1,493.7 505.5,497.0 506.9,493.1 508.3,492.5 509.7,493.3 511.1,493.7 512.5,494.2 513.9,495.5 515.3,493.6 516.7,494.5 518.1,492.0 519.5,497.5 520.9,497.0 522.3,498.9 523.7,498.8 525.1,499.0 526.5,500.8 527.9,498.1 529.3,497.0 530.7,495.2 532.1,493.6 533.5,491.3 534.9,494.7 536.3,493.3 537.7,491.7 539.1,493.5 540.5,492.0 541.9,495.8 543.3,490.8 544.7,489.1 546.1,491.8 547.5,487.8 548.9,489.4 550.3,493.9 551.7,494.8 553.1,495.1 554.5,493.2 555.9,497.5 557.3,493.2 558.7,498.6 560.1,492.9 561.5,493.1 562.9,490.4 564.3,489.7 565.7,479.7 567.1,484.1 568.5,487.4 569.9,488.7 571.3,491.7 572.7,493.4 574.1,499.2 575.5,495.2 576.9,497.4 578.3,505.1 579.7,499.3 581.1,500.7 582.5,493.2 583.9,495.7 585.3,496.8 586.7,494.7 588.1,494.8 589.5,493.8 590.9,493.6 592.3,495.3 593.7,493.1 595.1,492.8 596.5,499.2 597.9,490.9 599.3,493.6 600.7,491.2 602.1,487.7 603.5,495.4 604.9,494.3 606.3,489.3 607.7,492.8 609.1,492.8 610.5,492.4 611.9,495.3 613.3,493.3 614.7,499.3 616.1,495.9 617.5,498.7 618.9,489.0 620.3,493.2 621.7,492.8 623.1,495.4 624.5,492.3 625.9,492.8 627.3,488.2 628.7,494.6 630.1,499.8 631.5,497.6 632.9,492.0 634.3,492.8 635.7,494.9 637.1,494.1 638.5,494.6 639.9,493.8 641.3,495.1 642.7,491.2 644.1,494.9 645.5,490.7 646.9,498.1 648.3,491.2 649.7,494.0 651.1,497.2 652.5,498.0 653.9,498.3 655.3,494.3 656.7,493.2 658.1,493.4 659.5,495.9 660.9,491.4 662.3,489.7 663.7,494.2 665.1,489.3 666.5,489.0 667.9,491.3 669.3,486.8 670.7,489.6 672.1,492.7 673.5,487.5 674.9,489.7 676.3,490.9 677.7,491.6 679.1,491.7 680.5,489.7 681.9,492.7 683.3,493.8 684.7,497.6 686.1,496.6 687.5,491.0 688.9,493.9 690.3,494.2 691.7,493.7 693.1,490.2 694.5,494.6 695.9,494.5 697.3,490.3 698.7,491.1 700.1,494.0 701.5,493.6 702.9,489.0 704.3,495.9 705.7,494.2 707.1,491.9 708.5,492.4 709.9,496.2 711.3,495.7 712.7,493.2 714.1,493.9 715.5,493.1 716.9,488.1 718.3,488.1 719.7,493.7 721.1,496.2 722.5,496.8 723.9,493.0 725.3,492.7 726.7,492.5 728.1,497.0 729.5,493.7 730.9,493.7 732.3,493.8 733.7,494.3 735.1,492.9 736.5,493.0 737.9,495.7 739.3,492.1 740.7,496.2 742.1,495.4 743.5,492.9 744.9,489.0 746.3,488.7 747.7,492.0 749.1,491.3 750.5,491.3 751.9,494.8 753.3,493.5 754.7,490.9 756.1,494.6 757.5,491.1 758.9,489.9 760.3,493.9 761.7,490.8 763.1,492.6 764.5,492.2 765.9,489.1 767.3,494.2 768.7,497.2 770.1,489.8 771.5,493.5 772.9,498.9 774.3,496.7 775.7,496.1 777.1,493.6 778.5,499.3 779.9,493.4 781.3,493.1 782.7,490.6 784.1,493.6 785.5,491.8 786.9,491.1 788.3,496.1 789.7,493.6 791.1,495.5 792.5,494.9 793.9,496.8 795.3,493.9 796.7,492.4 798.1,492.5 799.5,490.3 800.9,493.9 802.3,492.0 803.7,496.2 805.1,492.2 806.5,489.2 807.9,494.2 809.3,489.5 810.7,492.0 812.1,493.1 813.5,497.1 814.9,496.0 816.3,495.9 817.7,494.8 819.1,491.0 820.5,498.6 821.9,494.3 823.3,493.1 824.7,490.0 826.1,494.0 827.5,497.5 828.9,495.7 830.3,494.4 831.7,495.0 833.1,493.7 834.5,493.2 835.9,494.7 837.3,494.7 838.7,499.1 840.1,497.2 841.5,494.7 842.9,494.1 844.3,493.7 845.7,493.4 847.1,491.0 848.5,491.3 849.9,494.0 851.3,495.3 852.7,489.0 854.1,494.7 855.5,494.9 856.9,498.6 858.3,487.4 859.7,493.6 861.1,492.0 862.5,495.5 863.9,499.1 865.3,493.4 866.7,492.7 868.1,495.9 869.5,493.7 870.9,494.7 872.3,495.9 873.7,493.4 875.1,492.4 876.5,491.3 877.9,498.0 879.3,488.4 880.7,498.9 882.1,493.7 883.5,491.4 884.9,487.5 886.3,498.9 887.7,491.8 889.1,488.7 890.5,493.4 891.9,493.8 893.3,491.1 894.7,494.9 896.1,494.5 897.5,496.2 898.9,498.4 900.3,493.8 901.7,493.8 903.1,488.8 904.5,493.7 905.9,496.7 907.3,496.1 908.7,489.3 910.1,493.1 911.5,491.4 912.9,496.7 914.3,491.2 915.7,492.0 917.1,494.3 918.5,490.8 919.9,494.4 921.3,492.8 922.7,493.1 924.1,494.1 925.5,496.9 926.9,493.9 928.3,492.9 929.7,494.2 931.1,492.8 932.5,490.2 933.9,491.6 935.3,489.3 936.7,492.9 938.1,492.4 939.5,492.9 940.9,494.6 942.3,494.7 943.7,493.3" fill="none" stroke="#008000" stroke-width="6.5" stroke-linejoin="round" stroke-linecap="round"/>
</g><g clip-path="url(#cb)">
<path d="M63.0 929.6h17m-8.5-9v18M64.0 933.1h17m-8.5-9v18M64.0 931.3h17m-8.5-9v18M65.0 930.4h17m-8.5-9v18M66.0 930.1h17m-8.5-9v18M67.0 931.2h17m-8.5-9v18M67.0 927.5h17m-8.5-9v18M68.0 928.4h17m-8.5-9v18M69.0 928.5h17m-8.5-9v18M69.0 928.6h17m-8.5-9v18M70.0 927.3h17m-8.5-9v18M71.0 930.7h17m-8.5-9v18M71.0 929.1h17m-8.5-9v18M72.0 931.9h17m-8.5-9v18M73.0 929.7h17m-8.5-9v18M74.0 929.3h17m-8.5-9v18M74.0 930.6h17m-8.5-9v18M75.0 930.7h17m-8.5-9v18M76.0 929.6h17m-8.5-9v18M76.0 931.1h17m-8.5-9v18M77.0 932.3h17m-8.5-9v18M78.0 929.7h17m-8.5-9v18M78.0 932.6h17m-8.5-9v18M79.0 930.4h17m-8.5-9v18M80.0 932.2h17m-8.5-9v18M81.0 930.8h17m-8.5-9v18M81.0 930.3h17m-8.5-9v18M82.0 931.4h17m-8.5-9v18M83.0 929.2h17m-8.5-9v18M83.0 928.4h17m-8.5-9v18M84.0 930.9h17m-8.5-9v18M85.0 930.6h17m-8.5-9v18M85.0 929.2h17m-8.5-9v18M86.0 934.4h17m-8.5-9v18M87.0 931.6h17m-8.5-9v18M88.0 929.8h17m-8.5-9v18M88.0 931.8h17m-8.5-9v18M89.0 931.8h17m-8.5-9v18M90.0 930.2h17m-8.5-9v18M90.0 930.4h17m-8.5-9v18M91.0 927.7h17m-8.5-9v18M92.0 930.9h17m-8.5-9v18M92.0 933.5h17m-8.5-9v18M93.0 932.2h17m-8.5-9v18M94.0 931.9h17m-8.5-9v18M95.0 929.2h17m-8.5-9v18M95.0 928.3h17m-8.5-9v18M96.0 931.3h17m-8.5-9v18M97.0 930.2h17m-8.5-9v18M97.0 929.3h17m-8.5-9v18M98.0 928.9h17m-8.5-9v18M99.0 930.8h17m-8.5-9v18M99.0 930.1h17m-8.5-9v18M100.0 928.2h17m-8.5-9v18M101.0 928.5h17m-8.5-9v18M102.0 925.8h17m-8.5-9v18M102.0 926.4h17m-8.5-9v18M103.0 929.1h17m-8.5-9v18M104.0 927.2h17m-8.5-9v18M104.0 926.3h17m-8.5-9v18M105.0 928.0h17m-8.5-9v18M106.0 929.5h17m-8.5-9v18M106.0 925.9h17m-8.5-9v18M107.0 926.6h17m-8.5-9v18M108.0 926.6h17m-8.5-9v18M109.0 930.9h17m-8.5-9v18M109.0 928.4h17m-8.5-9v18M110.0 927.0h17m-8.5-9v18M111.0 924.1h17m-8.5-9v18M111.0 927.5h17m-8.5-9v18M112.0 927.1h17m-8.5-9v18M113.0 925.7h17m-8.5-9v18M113.0 924.6h17m-8.5-9v18M114.0 924.9h17m-8.5-9v18M115.0 922.8h17m-8.5-9v18M116.0 924.7h17m-8.5-9v18M116.0 924.4h17m-8.5-9v18M117.0 923.5h17m-8.5-9v18M118.0 924.3h17m-8.5-9v18M118.0 922.0h17m-8.5-9v18M119.0 926.3h17m-8.5-9v18M120.0 923.9h17m-8.5-9v18M120.0 922.0h17m-8.5-9v18M121.0 925.0h17m-8.5-9v18M122.0 924.4h17m-8.5-9v18M123.0 922.3h17m-8.5-9v18M123.0 920.5h17m-8.5-9v18M124.0 922.3h17m-8.5-9v18M125.0 922.7h17m-8.5-9v18M125.0 922.6h17m-8.5-9v18M126.0 922.5h17m-8.5-9v18M127.0 921.8h17m-8.5-9v18M127.0 917.1h17m-8.5-9v18M128.0 919.2h17m-8.5-9v18M129.0 914.9h17m-8.5-9v18M130.0 919.2h17m-8.5-9v18M130.0 917.3h17m-8.5-9v18M131.0 917.4h17m-8.5-9v18M132.0 914.8h17m-8.5-9v18M132.0 913.6h17m-8.5-9v18M133.0 911.5h17m-8.5-9v18M134.0 906.1h17m-8.5-9v18M134.0 909.6h17m-8.5-9v18M135.0 913.5h17m-8.5-9v18M136.0 909.5h17m-8.5-9v18M137.0 904.9h17m-8.5-9v18M137.0 904.1h17m-8.5-9v18M138.0 902.3h17m-8.5-9v18M139.0 897.9h17m-8.5-9v18M139.0 896.6h17m-8.5-9v18M140.0 894.6h17m-8.5-9v18M141.0 889.7h17m-8.5-9v18M141.0 888.6h17m-8.5-9v18M142.0 886.8h17m-8.5-9v18M143.0 882.0h17m-8.5-9v18M144.0 876.4h17m-8.5-9v18M144.0 870.6h17m-8.5-9v18M145.0 867.6h17m-8.5-9v18M146.0 858.5h17m-8.5-9v18M146.0 851.8h17m-8.5-9v18M147.0 850.0h17m-8.5-9v18M148.0 838.1h17m-8.5-9v18M148.0 827.6h17m-8.5-9v18M149.0 826.4h17m-8.5-9v18M150.0 818.7h17m-8.5-9v18M151.0 813.1h17m-8.5-9v18M151.0 803.3h17m-8.5-9v18M152.0 802.2h17m-8.5-9v18M153.0 794.5h17m-8.5-9v18M153.0 789.3h17m-8.5-9v18M154.0 791.1h17m-8.5-9v18M155.0 793.1h17m-8.5-9v18M155.0 790.8h17m-8.5-9v18M156.0 796.8h17m-8.5-9v18M157.0 802.4h17m-8.5-9v18M158.0 805.5h17m-8.5-9v18M158.0 812.9h17m-8.5-9v18M159.0 819.2h17m-8.5-9v18M160.0 824.1h17m-8.5-9v18M160.0 834.8h17m-8.5-9v18M161.0 843.1h17m-8.5-9v18M162.0 843.9h17m-8.5-9v18M162.0 854.8h17m-8.5-9v18M163.0 865.5h17m-8.5-9v18M164.0 871.0h17m-8.5-9v18M165.0 871.3h17m-8.5-9v18M165.0 881.6h17m-8.5-9v18M166.0 888.9h17m-8.5-9v18M167.0 891.8h17m-8.5-9v18M167.0 895.2h17m-8.5-9v18M168.0 896.6h17m-8.5-9v18M169.0 899.9h17m-8.5-9v18M169.0 900.0h17m-8.5-9v18M170.0 904.9h17m-8.5-9v18M171.0 911.8h17m-8.5-9v18M172.0 909.2h17m-8.5-9v18M172.0 909.5h17m-8.5-9v18M173.0 914.2h17m-8.5-9v18M174.0 910.9h17m-8.5-9v18M174.0 920.5h17m-8.5-9v18M175.0 918.6h17m-8.5-9v18M176.0 917.8h17m-8.5-9v18M176.0 918.2h17m-8.5-9v18M177.0 917.6h17m-8.5-9v18M178.0 919.7h17m-8.5-9v18M179.0 919.7h17m-8.5-9v18M179.0 916.9h17m-8.5-9v18M180.0 921.5h17m-8.5-9v18M181.0 919.2h17m-8.5-9v18M181.0 918.1h17m-8.5-9v18M182.0 921.9h17m-8.5-9v18M183.0 921.9h17m-8.5-9v18M183.0 919.8h17m-8.5-9v18M184.0 920.0h17m-8.5-9v18M185.0 923.3h17m-8.5-9v18M186.0 921.0h17m-8.5-9v18M186.0 922.3h17m-8.5-9v18M187.0 924.5h17m-8.5-9v18M188.0 920.1h17m-8.5-9v18M188.0 919.7h17m-8.5-9v18M189.0 921.0h17m-8.5-9v18M190.0 921.5h17m-8.5-9v18M190.0 922.6h17m-8.5-9v18M191.0 924.2h17m-8.5-9v18M192.0 921.8h17m-8.5-9v18M193.0 925.5h17m-8.5-9v18M193.0 922.9h17m-8.5-9v18M194.0 919.1h17m-8.5-9v18M195.0 922.5h17m-8.5-9v18M195.0 923.8h17m-8.5-9v18M196.0 924.5h17m-8.5-9v18M197.0 921.3h17m-8.5-9v18M197.0 922.4h17m-8.5-9v18M198.0 926.5h17m-8.5-9v18M199.0 922.9h17m-8.5-9v18M200.0 921.1h17m-8.5-9v18M200.0 920.1h17m-8.5-9v18M201.0 922.0h17m-8.5-9v18M202.0 923.4h17m-8.5-9v18M202.0 920.9h17m-8.5-9v18M203.0 925.2h17m-8.5-9v18M204.0 921.5h17m-8.5-9v18M204.0 919.5h17m-8.5-9v18M205.0 923.9h17m-8.5-9v18M206.0 922.8h17m-8.5-9v18M207.0 922.3h17m-8.5-9v18M207.0 924.8h17m-8.5-9v18M208.0 921.4h17m-8.5-9v18M209.0 923.6h17m-8.5-9v18M209.0 921.2h17m-8.5-9v18M210.0 924.9h17m-8.5-9v18M211.0 921.8h17m-8.5-9v18M211.0 921.5h17m-8.5-9v18M212.0 922.3h17m-8.5-9v18M213.0 920.9h17m-8.5-9v18M214.0 921.6h17m-8.5-9v18M214.0 920.1h17m-8.5-9v18M215.0 921.4h17m-8.5-9v18M216.0 920.1h17m-8.5-9v18M216.0 918.8h17m-8.5-9v18M217.0 920.5h17m-8.5-9v18M218.0 920.1h17m-8.5-9v18M218.0 917.0h17m-8.5-9v18M219.0 918.1h17m-8.5-9v18M220.0 915.3h17m-8.5-9v18M221.0 918.2h17m-8.5-9v18M221.0 919.2h17m-8.5-9v18M222.0 921.8h17m-8.5-9v18M223.0 917.4h17m-8.5-9v18M223.0 918.4h17m-8.5-9v18M224.0 918.7h17m-8.5-9v18M225.0 916.7h17m-8.5-9v18M225.0 911.2h17m-8.5-9v18M226.0 913.2h17m-8.5-9v18M227.0 914.1h17m-8.5-9v18M228.0 913.3h17m-8.5-9v18M228.0 912.2h17m-8.5-9v18M229.0 909.4h17m-8.5-9v18M230.0 906.6h17m-8.5-9v18M230.0 910.2h17m-8.5-9v18M231.0 910.9h17m-8.5-9v18M232.0 906.7h17m-8.5-9v18M232.0 907.9h17m-8.5-9v18M233.0 904.7h17m-8.5-9v18M234.0 904.4h17m-8.5-9v18M235.0 902.4h17m-8.5-9v18M235.0 904.2h17m-8.5-9v18M236.0 899.2h17m-8.5-9v18M237.0 900.0h17m-8.5-9v18M237.0 900.1h17m-8.5-9v18M238.0 896.3h17m-8.5-9v18M239.0 891.6h17m-8.5-9v18M239.0 893.1h17m-8.5-9v18M240.0 889.4h17m-8.5-9v18M241.0 884.1h17m-8.5-9v18M242.0 883.8h17m-8.5-9v18M242.0 880.3h17m-8.5-9v18M243.0 878.9h17m-8.5-9v18M244.0 872.4h17m-8.5-9v18M244.0 869.7h17m-8.5-9v18M245.0 866.4h17m-8.5-9v18M246.0 854.9h17m-8.5-9v18M246.0 857.2h17m-8.5-9v18M247.0 848.8h17m-8.5-9v18M248.0 839.6h17m-8.5-9v18M249.0 836.0h17m-8.5-9v18M249.0 831.2h17m-8.5-9v18M250.0 818.1h17m-8.5-9v18M251.0 809.7h17m-8.5-9v18M251.0 806.3h17m-8.5-9v18M252.0 796.7h17m-8.5-9v18M253.0 787.0h17m-8.5-9v18M253.0 768.0h17m-8.5-9v18M254.0 750.7h17m-8.5-9v18M255.0 735.6h17m-8.5-9v18M256.0 721.8h17m-8.5-9v18M256.0 701.9h17m-8.5-9v18M257.0 689.7h17m-8.5-9v18M258.0 675.2h17m-8.5-9v18M258.0 648.1h17m-8.5-9v18M259.0 643.5h17m-8.5-9v18M260.0 620.0h17m-8.5-9v18M260.0 611.5h17m-8.5-9v18M261.0 603.3h17m-8.5-9v18M262.0 612.7h17m-8.5-9v18M263.0 613.6h17m-8.5-9v18M263.0 623.1h17m-8.5-9v18M264.0 622.9h17m-8.5-9v18M265.0 648.3h17m-8.5-9v18M265.0 669.1h17m-8.5-9v18M266.0 674.5h17m-8.5-9v18M267.0 711.2h17m-8.5-9v18M267.0 722.2h17m-8.5-9v18M268.0 741.6h17m-8.5-9v18M269.0 752.1h17m-8.5-9v18M270.0 770.9h17m-8.5-9v18M270.0 785.3h17m-8.5-9v18M271.0 801.6h17m-8.5-9v18M272.0 801.1h17m-8.5-9v18M272.0 821.0h17m-8.5-9v18M273.0 820.6h17m-8.5-9v18M274.0 832.8h17m-8.5-9v18M274.0 838.9h17m-8.5-9v18M275.0 846.5h17m-8.5-9v18M276.0 848.1h17m-8.5-9v18M277.0 858.4h17m-8.5-9v18M277.0 861.3h17m-8.5-9v18M278.0 868.8h17m-8.5-9v18M279.0 874.3h17m-8.5-9v18M279.0 877.8h17m-8.5-9v18M280.0 881.0h17m-8.5-9v18M281.0 887.9h17m-8.5-9v18M281.0 888.3h17m-8.5-9v18M282.0 891.6h17m-8.5-9v18M283.0 895.8h17m-8.5-9v18M284.0 894.7h17m-8.5-9v18M284.0 897.1h17m-8.5-9v18M285.0 900.2h17m-8.5-9v18M286.0 899.8h17m-8.5-9v18M286.0 904.6h17m-8.5-9v18M287.0 901.9h17m-8.5-9v18M288.0 904.1h17m-8.5-9v18M288.0 905.4h17m-8.5-9v18M289.0 906.1h17m-8.5-9v18M290.0 907.8h17m-8.5-9v18M291.0 907.8h17m-8.5-9v18M291.0 904.8h17m-8.5-9v18M292.0 912.9h17m-8.5-9v18M293.0 910.5h17m-8.5-9v18M293.0 913.7h17m-8.5-9v18M294.0 910.8h17m-8.5-9v18M295.0 914.9h17m-8.5-9v18M295.0 911.9h17m-8.5-9v18M296.0 918.1h17m-8.5-9v18M297.0 915.7h17m-8.5-9v18M298.0 915.7h17m-8.5-9v18M298.0 911.5h17m-8.5-9v18M299.0 913.2h17m-8.5-9v18M300.0 917.1h17m-8.5-9v18M300.0 917.2h17m-8.5-9v18M301.0 917.5h17m-8.5-9v18M302.0 917.8h17m-8.5-9v18M302.0 920.7h17m-8.5-9v18M303.0 918.0h17m-8.5-9v18M304.0 917.9h17m-8.5-9v18M305.0 917.1h17m-8.5-9v18M305.0 916.3h17m-8.5-9v18M306.0 918.9h17m-8.5-9v18M307.0 917.1h17m-8.5-9v18M307.0 917.0h17m-8.5-9v18M308.0 918.2h17m-8.5-9v18M309.0 917.5h17m-8.5-9v18M309.0 918.8h17m-8.5-9v18M310.0 918.5h17m-8.5-9v18M311.0 914.3h17m-8.5-9v18M312.0 915.0h17m-8.5-9v18M312.0 918.3h17m-8.5-9v18M313.0 915.4h17m-8.5-9v18M314.0 917.3h17m-8.5-9v18M314.0 914.2h17m-8.5-9v18M315.0 911.0h17m-8.5-9v18M316.0 911.7h17m-8.5-9v18M316.0 915.2h17m-8.5-9v18M317.0 916.3h17m-8.5-9v18M318.0 922.6h17m-8.5-9v18M319.0 919.9h17m-8.5-9v18M319.0 920.3h17m-8.5-9v18M320.0 921.2h17m-8.5-9v18M321.0 916.4h17m-8.5-9v18M321.0 920.1h17m-8.5-9v18M322.0 920.1h17m-8.5-9v18M323.0 924.6h17m-8.5-9v18M323.0 919.7h17m-8.5-9v18M324.0 918.7h17m-8.5-9v18M325.0 922.4h17m-8.5-9v18M326.0 922.7h17m-8.5-9v18M326.0 924.1h17m-8.5-9v18M327.0 925.2h17m-8.5-9v18M328.0 925.9h17m-8.5-9v18M328.0 925.2h17m-8.5-9v18M329.0 926.3h17m-8.5-9v18M330.0 932.1h17m-8.5-9v18M330.0 927.0h17m-8.5-9v18M331.0 929.5h17m-8.5-9v18M332.0 926.8h17m-8.5-9v18M333.0 925.5h17m-8.5-9v18M333.0 930.5h17m-8.5-9v18M334.0 929.0h17m-8.5-9v18M335.0 931.0h17m-8.5-9v18M335.0 930.4h17m-8.5-9v18M336.0 928.8h17m-8.5-9v18M337.0 926.9h17m-8.5-9v18M337.0 932.0h17m-8.5-9v18M338.0 928.8h17m-8.5-9v18M339.0 933.1h17m-8.5-9v18M340.0 931.0h17m-8.5-9v18M340.0 932.1h17m-8.5-9v18M341.0 932.4h17m-8.5-9v18M342.0 933.0h17m-8.5-9v18M342.0 932.7h17m-8.5-9v18M343.0 938.2h17m-8.5-9v18M344.0 933.5h17m-8.5-9v18M344.0 933.4h17m-8.5-9v18M345.0 937.5h17m-8.5-9v18M346.0 936.7h17m-8.5-9v18M347.0 940.3h17m-8.5-9v18M347.0 939.1h17m-8.5-9v18M348.0 942.1h17m-8.5-9v18M349.0 940.9h17m-8.5-9v18M349.0 940.0h17m-8.5-9v18M350.0 941.4h17m-8.5-9v18M351.0 943.6h17m-8.5-9v18M351.0 941.9h17m-8.5-9v18M352.0 942.0h17m-8.5-9v18M353.0 943.6h17m-8.5-9v18M354.0 944.9h17m-8.5-9v18M354.0 946.9h17m-8.5-9v18M355.0 946.0h17m-8.5-9v18M356.0 947.1h17m-8.5-9v18M356.0 945.8h17m-8.5-9v18M357.0 949.6h17m-8.5-9v18M358.0 950.5h17m-8.5-9v18M358.0 946.1h17m-8.5-9v18M359.0 947.9h17m-8.5-9v18M360.0 947.6h17m-8.5-9v18M361.0 948.6h17m-8.5-9v18M361.0 947.7h17m-8.5-9v18M362.0 947.3h17m-8.5-9v18M363.0 946.5h17m-8.5-9v18M363.0 947.9h17m-8.5-9v18M364.0 948.9h17m-8.5-9v18M365.0 950.6h17m-8.5-9v18M365.0 949.9h17m-8.5-9v18M366.0 948.4h17m-8.5-9v18M367.0 948.0h17m-8.5-9v18M368.0 946.6h17m-8.5-9v18M368.0 950.2h17m-8.5-9v18M369.0 949.3h17m-8.5-9v18M370.0 950.2h17m-8.5-9v18M370.0 950.4h17m-8.5-9v18M371.0 950.2h17m-8.5-9v18M372.0 949.2h17m-8.5-9v18M372.0 948.9h17m-8.5-9v18M373.0 947.9h17m-8.5-9v18M374.0 948.6h17m-8.5-9v18M375.0 950.5h17m-8.5-9v18M375.0 953.6h17m-8.5-9v18M376.0 949.4h17m-8.5-9v18M377.0 950.6h17m-8.5-9v18M377.0 955.6h17m-8.5-9v18M378.0 950.6h17m-8.5-9v18M379.0 949.9h17m-8.5-9v18M379.0 950.6h17m-8.5-9v18M380.0 950.2h17m-8.5-9v18M381.0 947.5h17m-8.5-9v18M382.0 952.1h17m-8.5-9v18M382.0 947.8h17m-8.5-9v18M383.0 949.8h17m-8.5-9v18M384.0 950.1h17m-8.5-9v18M384.0 951.6h17m-8.5-9v18M385.0 950.5h17m-8.5-9v18M386.0 950.2h17m-8.5-9v18M386.0 949.7h17m-8.5-9v18M387.0 951.7h17m-8.5-9v18M388.0 951.0h17m-8.5-9v18M389.0 950.6h17m-8.5-9v18M389.0 949.8h17m-8.5-9v18M390.0 950.9h17m-8.5-9v18M391.0 952.8h17m-8.5-9v18M391.0 950.2h17m-8.5-9v18M392.0 953.3h17m-8.5-9v18M393.0 953.5h17m-8.5-9v18M393.0 955.4h17m-8.5-9v18M394.0 952.6h17m-8.5-9v18M395.0 952.2h17m-8.5-9v18M396.0 953.8h17m-8.5-9v18M396.0 953.5h17m-8.5-9v18M397.0 949.9h17m-8.5-9v18M398.0 956.2h17m-8.5-9v18M398.0 954.7h17m-8.5-9v18M399.0 954.5h17m-8.5-9v18M400.0 953.0h17m-8.5-9v18M400.0 954.9h17m-8.5-9v18M401.0 953.8h17m-8.5-9v18M402.0 956.9h17m-8.5-9v18M403.0 955.4h17m-8.5-9v18M403.0 956.5h17m-8.5-9v18M404.0 952.1h17m-8.5-9v18M405.0 952.7h17m-8.5-9v18M405.0 953.4h17m-8.5-9v18M406.0 953.1h17m-8.5-9v18M407.0 956.8h17m-8.5-9v18M407.0 954.8h17m-8.5-9v18M408.0 952.5h17m-8.5-9v18M409.0 953.9h17m-8.5-9v18M410.0 957.5h17m-8.5-9v18M410.0 954.1h17m-8.5-9v18M411.0 955.8h17m-8.5-9v18M412.0 952.1h17m-8.5-9v18M412.0 954.2h17m-8.5-9v18M413.0 955.0h17m-8.5-9v18M414.0 955.0h17m-8.5-9v18M414.0 955.5h17m-8.5-9v18M415.0 956.2h17m-8.5-9v18M416.0 957.7h17m-8.5-9v18M417.0 953.0h17m-8.5-9v18M417.0 956.0h17m-8.5-9v18M418.0 957.1h17m-8.5-9v18M419.0 956.3h17m-8.5-9v18M419.0 957.8h17m-8.5-9v18M420.0 955.6h17m-8.5-9v18M421.0 955.1h17m-8.5-9v18M421.0 954.4h17m-8.5-9v18M422.0 957.2h17m-8.5-9v18M423.0 953.5h17m-8.5-9v18M424.0 954.9h17m-8.5-9v18M424.0 955.5h17m-8.5-9v18M425.0 956.6h17m-8.5-9v18M426.0 955.1h17m-8.5-9v18M426.0 954.0h17m-8.5-9v18M427.0 956.6h17m-8.5-9v18M428.0 953.8h17m-8.5-9v18M428.0 954.6h17m-8.5-9v18M429.0 952.5h17m-8.5-9v18M430.0 956.2h17m-8.5-9v18M431.0 956.2h17m-8.5-9v18M431.0 953.1h17m-8.5-9v18M432.0 955.7h17m-8.5-9v18M433.0 957.1h17m-8.5-9v18M433.0 955.1h17m-8.5-9v18M434.0 953.5h17m-8.5-9v18M435.0 956.1h17m-8.5-9v18M435.0 957.3h17m-8.5-9v18M436.0 953.3h17m-8.5-9v18M437.0 957.8h17m-8.5-9v18M438.0 956.4h17m-8.5-9v18M438.0 958.1h17m-8.5-9v18M439.0 954.9h17m-8.5-9v18M440.0 958.2h17m-8.5-9v18M440.0 957.2h17m-8.5-9v18M441.0 958.1h17m-8.5-9v18M442.0 957.0h17m-8.5-9v18M442.0 958.6h17m-8.5-9v18M443.0 956.7h17m-8.5-9v18M444.0 956.3h17m-8.5-9v18M445.0 955.3h17m-8.5-9v18M445.0 954.5h17m-8.5-9v18M446.0 957.2h17m-8.5-9v18M447.0 956.5h17m-8.5-9v18M447.0 956.9h17m-8.5-9v18M448.0 956.5h17m-8.5-9v18M449.0 957.5h17m-8.5-9v18M449.0 957.0h17m-8.5-9v18M450.0 955.8h17m-8.5-9v18M451.0 958.0h17m-8.5-9v18M452.0 960.2h17m-8.5-9v18M452.0 955.1h17m-8.5-9v18M453.0 955.8h17m-8.5-9v18M454.0 957.4h17m-8.5-9v18M454.0 955.2h17m-8.5-9v18M455.0 958.1h17m-8.5-9v18M456.0 955.2h17m-8.5-9v18M456.0 954.3h17m-8.5-9v18M457.0 954.7h17m-8.5-9v18M458.0 958.1h17m-8.5-9v18M459.0 952.9h17m-8.5-9v18M459.0 956.6h17m-8.5-9v18M460.0 952.8h17m-8.5-9v18M461.0 957.8h17m-8.5-9v18M461.0 957.4h17m-8.5-9v18M462.0 958.0h17m-8.5-9v18M463.0 960.6h17m-8.5-9v18M463.0 956.9h17m-8.5-9v18M464.0 959.1h17m-8.5-9v18M465.0 958.2h17m-8.5-9v18M466.0 959.0h17m-8.5-9v18M466.0 955.8h17m-8.5-9v18M467.0 959.0h17m-8.5-9v18M468.0 956.4h17m-8.5-9v18M468.0 959.4h17m-8.5-9v18M469.0 958.4h17m-8.5-9v18M470.0 956.8h17m-8.5-9v18M470.0 957.6h17m-8.5-9v18M471.0 957.3h17m-8.5-9v18M472.0 956.6h17m-8.5-9v18M473.0 960.8h17m-8.5-9v18M473.0 954.5h17m-8.5-9v18M474.0 953.4h17m-8.5-9v18M475.0 953.4h17m-8.5-9v18M475.0 955.1h17m-8.5-9v18M476.0 955.4h17m-8.5-9v18M477.0 956.6h17m-8.5-9v18M477.0 957.0h17m-8.5-9v18M478.0 955.5h17m-8.5-9v18M479.0 955.2h17m-8.5-9v18M480.0 953.1h17m-8.5-9v18M480.0 956.4h17m-8.5-9v18M481.0 956.9h17m-8.5-9v18M482.0 954.0h17m-8.5-9v18M482.0 955.3h17m-8.5-9v18M483.0 952.5h17m-8.5-9v18M484.0 953.3h17m-8.5-9v18M484.0 953.2h17m-8.5-9v18M485.0 954.2h17m-8.5-9v18M486.0 949.5h17m-8.5-9v18M487.0 951.9h17m-8.5-9v18M487.0 953.0h17m-8.5-9v18M488.0 951.5h17m-8.5-9v18M489.0 951.6h17m-8.5-9v18M489.0 945.1h17m-8.5-9v18M490.0 947.6h17m-8.5-9v18M491.0 947.9h17m-8.5-9v18M491.0 946.7h17m-8.5-9v18M492.0 943.0h17m-8.5-9v18M493.0 948.9h17m-8.5-9v18M494.0 946.7h17m-8.5-9v18M494.0 941.6h17m-8.5-9v18M495.0 943.7h17m-8.5-9v18M496.0 944.0h17m-8.5-9v18M496.0 945.0h17m-8.5-9v18M497.0 943.6h17m-8.5-9v18M498.0 939.2h17m-8.5-9v18M498.0 938.9h17m-8.5-9v18M499.0 939.6h17m-8.5-9v18M500.0 940.0h17m-8.5-9v18M501.0 935.7h17m-8.5-9v18M501.0 933.9h17m-8.5-9v18M502.0 934.9h17m-8.5-9v18M503.0 932.2h17m-8.5-9v18M503.0 933.0h17m-8.5-9v18M504.0 929.1h17m-8.5-9v18M505.0 928.0h17m-8.5-9v18M505.0 918.9h17m-8.5-9v18M506.0 917.7h17m-8.5-9v18M507.0 914.6h17m-8.5-9v18M508.0 913.7h17m-8.5-9v18M508.0 913.2h17m-8.5-9v18M509.0 908.6h17m-8.5-9v18M510.0 907.4h17m-8.5-9v18M510.0 901.0h17m-8.5-9v18M511.0 902.0h17m-8.5-9v18M512.0 898.2h17m-8.5-9v18M512.0 887.7h17m-8.5-9v18M513.0 885.5h17m-8.5-9v18M514.0 882.4h17m-8.5-9v18M515.0 881.9h17m-8.5-9v18M515.0 877.2h17m-8.5-9v18M516.0 875.3h17m-8.5-9v18M517.0 860.7h17m-8.5-9v18M517.0 860.8h17m-8.5-9v18M518.0 855.1h17m-8.5-9v18M519.0 849.6h17m-8.5-9v18M519.0 845.8h17m-8.5-9v18M520.0 835.8h17m-8.5-9v18M521.0 840.2h17m-8.5-9v18M522.0 835.6h17m-8.5-9v18M522.0 831.4h17m-8.5-9v18M523.0 839.7h17m-8.5-9v18M524.0 833.3h17m-8.5-9v18M524.0 837.9h17m-8.5-9v18M525.0 837.4h17m-8.5-9v18M526.0 838.0h17m-8.5-9v18M526.0 845.5h17m-8.5-9v18M527.0 852.6h17m-8.5-9v18M528.0 853.7h17m-8.5-9v18M529.0 863.6h17m-8.5-9v18M529.0 872.6h17m-8.5-9v18M530.0 876.6h17m-8.5-9v18M531.0 877.6h17m-8.5-9v18M531.0 881.6h17m-8.5-9v18M532.0 891.4h17m-8.5-9v18M533.0 889.9h17m-8.5-9v18M533.0 895.6h17m-8.5-9v18M534.0 907.2h17m-8.5-9v18M535.0 907.9h17m-8.5-9v18M536.0 912.1h17m-8.5-9v18M536.0 913.8h17m-8.5-9v18M537.0 925.0h17m-8.5-9v18M538.0 928.9h17m-8.5-9v18M538.0 923.8h17m-8.5-9v18M539.0 928.9h17m-8.5-9v18M540.0 928.7h17m-8.5-9v18M540.0 932.6h17m-8.5-9v18M541.0 936.5h17m-8.5-9v18M542.0 937.9h17m-8.5-9v18M543.0 935.9h17m-8.5-9v18M543.0 938.5h17m-8.5-9v18M544.0 945.0h17m-8.5-9v18M545.0 941.8h17m-8.5-9v18M545.0 943.7h17m-8.5-9v18M546.0 942.6h17m-8.5-9v18M547.0 941.8h17m-8.5-9v18M547.0 940.4h17m-8.5-9v18M548.0 941.3h17m-8.5-9v18M549.0 940.5h17m-8.5-9v18M550.0 942.4h17m-8.5-9v18M550.0 943.4h17m-8.5-9v18M551.0 947.3h17m-8.5-9v18M552.0 942.6h17m-8.5-9v18M552.0 947.4h17m-8.5-9v18M553.0 942.5h17m-8.5-9v18M554.0 952.5h17m-8.5-9v18M554.0 945.7h17m-8.5-9v18M555.0 947.3h17m-8.5-9v18M556.0 950.6h17m-8.5-9v18M557.0 946.3h17m-8.5-9v18M557.0 946.7h17m-8.5-9v18M558.0 946.6h17m-8.5-9v18M559.0 947.2h17m-8.5-9v18M559.0 944.7h17m-8.5-9v18M560.0 949.3h17m-8.5-9v18M561.0 947.8h17m-8.5-9v18M561.0 945.5h17m-8.5-9v18M562.0 947.9h17m-8.5-9v18M563.0 945.1h17m-8.5-9v18M564.0 944.3h17m-8.5-9v18M564.0 945.5h17m-8.5-9v18M565.0 947.1h17m-8.5-9v18M566.0 943.2h17m-8.5-9v18M566.0 946.4h17m-8.5-9v18M567.0 948.7h17m-8.5-9v18M568.0 946.1h17m-8.5-9v18M568.0 949.8h17m-8.5-9v18M569.0 947.5h17m-8.5-9v18M570.0 951.0h17m-8.5-9v18M571.0 951.1h17m-8.5-9v18M571.0 952.7h17m-8.5-9v18M572.0 951.2h17m-8.5-9v18M573.0 949.3h17m-8.5-9v18M573.0 948.6h17m-8.5-9v18M574.0 962.2h17m-8.5-9v18M575.0 952.1h17m-8.5-9v18M575.0 953.8h17m-8.5-9v18M576.0 952.6h17m-8.5-9v18M577.0 959.2h17m-8.5-9v18M578.0 958.2h17m-8.5-9v18M578.0 958.8h17m-8.5-9v18M579.0 955.0h17m-8.5-9v18M580.0 959.5h17m-8.5-9v18M580.0 956.1h17m-8.5-9v18M581.0 960.3h17m-8.5-9v18M582.0 957.6h17m-8.5-9v18M582.0 953.1h17m-8.5-9v18M583.0 957.5h17m-8.5-9v18M584.0 955.9h17m-8.5-9v18M585.0 962.6h17m-8.5-9v18M585.0 954.7h17m-8.5-9v18M586.0 956.5h17m-8.5-9v18M587.0 956.3h17m-8.5-9v18M587.0 954.8h17m-8.5-9v18M588.0 954.6h17m-8.5-9v18M589.0 955.5h17m-8.5-9v18M589.0 955.8h17m-8.5-9v18M590.0 953.6h17m-8.5-9v18M591.0 953.3h17m-8.5-9v18M592.0 953.1h17m-8.5-9v18M592.0 950.3h17m-8.5-9v18M593.0 951.0h17m-8.5-9v18M594.0 950.7h17m-8.5-9v18M594.0 951.9h17m-8.5-9v18M595.0 950.2h17m-8.5-9v18M596.0 948.8h17m-8.5-9v18M596.0 948.7h17m-8.5-9v18M597.0 943.8h17m-8.5-9v18M598.0 947.0h17m-8.5-9v18M599.0 942.5h17m-8.5-9v18M599.0 941.8h17m-8.5-9v18M600.0 940.0h17m-8.5-9v18M601.0 941.3h17m-8.5-9v18M601.0 937.0h17m-8.5-9v18M602.0 938.7h17m-8.5-9v18M603.0 935.3h17m-8.5-9v18M603.0 933.7h17m-8.5-9v18M604.0 934.6h17m-8.5-9v18M605.0 930.4h17m-8.5-9v18M606.0 934.1h17m-8.5-9v18M606.0 928.3h17m-8.5-9v18M607.0 927.7h17m-8.5-9v18M608.0 930.7h17m-8.5-9v18M608.0 923.0h17m-8.5-9v18M609.0 927.7h17m-8.5-9v18M610.0 924.6h17m-8.5-9v18M610.0 923.6h17m-8.5-9v18M611.0 922.9h17m-8.5-9v18M612.0 919.2h17m-8.5-9v18M613.0 924.9h17m-8.5-9v18M613.0 921.3h17m-8.5-9v18M614.0 921.0h17m-8.5-9v18M615.0 920.9h17m-8.5-9v18M615.0 921.0h17m-8.5-9v18M616.0 919.2h17m-8.5-9v18M617.0 916.1h17m-8.5-9v18M617.0 915.4h17m-8.5-9v18M618.0 915.7h17m-8.5-9v18M619.0 918.6h17m-8.5-9v18M620.0 923.0h17m-8.5-9v18M620.0 918.2h17m-8.5-9v18M621.0 921.7h17m-8.5-9v18M622.0 925.3h17m-8.5-9v18M622.0 924.3h17m-8.5-9v18M623.0 925.9h17m-8.5-9v18M624.0 925.4h17m-8.5-9v18M624.0 929.9h17m-8.5-9v18M625.0 929.6h17m-8.5-9v18M626.0 930.8h17m-8.5-9v18M627.0 933.0h17m-8.5-9v18M627.0 936.2h17m-8.5-9v18M628.0 939.0h17m-8.5-9v18M629.0 935.2h17m-8.5-9v18M629.0 940.3h17m-8.5-9v18M630.0 937.7h17m-8.5-9v18M631.0 937.0h17m-8.5-9v18M631.0 940.8h17m-8.5-9v18M632.0 943.3h17m-8.5-9v18M633.0 944.0h17m-8.5-9v18M634.0 945.8h17m-8.5-9v18M634.0 941.3h17m-8.5-9v18M635.0 949.7h17m-8.5-9v18M636.0 949.3h17m-8.5-9v18M636.0 949.7h17m-8.5-9v18M637.0 945.6h17m-8.5-9v18M638.0 951.0h17m-8.5-9v18M638.0 949.7h17m-8.5-9v18M639.0 950.6h17m-8.5-9v18M640.0 952.6h17m-8.5-9v18M641.0 950.0h17m-8.5-9v18M641.0 956.5h17m-8.5-9v18M642.0 957.2h17m-8.5-9v18M643.0 957.5h17m-8.5-9v18M643.0 959.4h17m-8.5-9v18M644.0 953.5h17m-8.5-9v18M645.0 957.0h17m-8.5-9v18M645.0 957.4h17m-8.5-9v18M646.0 956.0h17m-8.5-9v18M647.0 960.6h17m-8.5-9v18M648.0 964.6h17m-8.5-9v18M648.0 957.3h17m-8.5-9v18M649.0 960.9h17m-8.5-9v18M650.0 960.0h17m-8.5-9v18M650.0 960.3h17m-8.5-9v18M651.0 960.3h17m-8.5-9v18M652.0 961.6h17m-8.5-9v18M652.0 958.9h17m-8.5-9v18M653.0 959.5h17m-8.5-9v18M654.0 963.8h17m-8.5-9v18M655.0 960.3h17m-8.5-9v18M655.0 960.3h17m-8.5-9v18M656.0 956.6h17m-8.5-9v18M657.0 961.1h17m-8.5-9v18M657.0 961.3h17m-8.5-9v18M658.0 960.4h17m-8.5-9v18M659.0 962.9h17m-8.5-9v18M659.0 955.2h17m-8.5-9v18M660.0 960.9h17m-8.5-9v18M661.0 955.3h17m-8.5-9v18M662.0 956.1h17m-8.5-9v18M662.0 953.6h17m-8.5-9v18M663.0 959.1h17m-8.5-9v18M664.0 956.6h17m-8.5-9v18M664.0 955.3h17m-8.5-9v18M665.0 955.8h17m-8.5-9v18M666.0 950.6h17m-8.5-9v18M666.0 953.1h17m-8.5-9v18M667.0 954.3h17m-8.5-9v18M668.0 952.0h17m-8.5-9v18M669.0 952.7h17m-8.5-9v18M669.0 949.2h17m-8.5-9v18M670.0 953.1h17m-8.5-9v18M671.0 952.4h17m-8.5-9v18M671.0 953.9h17m-8.5-9v18M672.0 957.3h17m-8.5-9v18M673.0 954.5h17m-8.5-9v18M673.0 953.4h17m-8.5-9v18M674.0 955.8h17m-8.5-9v18M675.0 952.8h17m-8.5-9v18M676.0 959.0h17m-8.5-9v18M676.0 955.6h17m-8.5-9v18M677.0 955.8h17m-8.5-9v18M678.0 956.9h17m-8.5-9v18M678.0 953.2h17m-8.5-9v18M679.0 955.9h17m-8.5-9v18M680.0 955.4h17m-8.5-9v18M680.0 960.6h17m-8.5-9v18M681.0 959.0h17m-8.5-9v18M682.0 959.7h17m-8.5-9v18M683.0 955.7h17m-8.5-9v18M683.0 955.8h17m-8.5-9v18M684.0 957.7h17m-8.5-9v18M685.0 953.7h17m-8.5-9v18M685.0 953.0h17m-8.5-9v18M686.0 958.3h17m-8.5-9v18M687.0 955.8h17m-8.5-9v18M687.0 955.6h17m-8.5-9v18M688.0 950.5h17m-8.5-9v18M689.0 953.2h17m-8.5-9v18M690.0 952.9h17m-8.5-9v18M690.0 952.1h17m-8.5-9v18M691.0 954.2h17m-8.5-9v18M692.0 951.1h17m-8.5-9v18M692.0 950.2h17m-8.5-9v18M693.0 956.9h17m-8.5-9v18M694.0 953.2h17m-8.5-9v18M694.0 949.3h17m-8.5-9v18M695.0 955.9h17m-8.5-9v18M696.0 951.7h17m-8.5-9v18M697.0 950.5h17m-8.5-9v18M697.0 942.7h17m-8.5-9v18M698.0 951.4h17m-8.5-9v18M699.0 947.4h17m-8.5-9v18M699.0 948.9h17m-8.5-9v18M700.0 948.9h17m-8.5-9v18M701.0 940.7h17m-8.5-9v18M701.0 946.8h17m-8.5-9v18M702.0 943.1h17m-8.5-9v18M703.0 940.1h17m-8.5-9v18M704.0 933.0h17m-8.5-9v18M704.0 941.9h17m-8.5-9v18M705.0 936.7h17m-8.5-9v18M706.0 936.2h17m-8.5-9v18M706.0 930.6h17m-8.5-9v18M707.0 933.9h17m-8.5-9v18M708.0 932.8h17m-8.5-9v18M708.0 934.2h17m-8.5-9v18M709.0 927.4h17m-8.5-9v18M710.0 923.5h17m-8.5-9v18M711.0 926.9h17m-8.5-9v18M711.0 925.4h17m-8.5-9v18M712.0 928.3h17m-8.5-9v18M713.0 927.0h17m-8.5-9v18M713.0 927.8h17m-8.5-9v18M714.0 930.5h17m-8.5-9v18M715.0 931.7h17m-8.5-9v18M715.0 927.7h17m-8.5-9v18M716.0 923.8h17m-8.5-9v18M717.0 928.3h17m-8.5-9v18M718.0 928.3h17m-8.5-9v18M718.0 929.3h17m-8.5-9v18M719.0 929.8h17m-8.5-9v18M720.0 931.0h17m-8.5-9v18M720.0 926.4h17m-8.5-9v18M721.0 934.2h17m-8.5-9v18M722.0 935.1h17m-8.5-9v18M722.0 935.6h17m-8.5-9v18M723.0 935.5h17m-8.5-9v18M724.0 939.0h17m-8.5-9v18M725.0 933.6h17m-8.5-9v18M725.0 938.4h17m-8.5-9v18M726.0 941.1h17m-8.5-9v18M727.0 939.6h17m-8.5-9v18M727.0 941.6h17m-8.5-9v18M728.0 945.3h17m-8.5-9v18M729.0 943.8h17m-8.5-9v18M729.0 943.5h17m-8.5-9v18M730.0 945.9h17m-8.5-9v18M731.0 949.3h17m-8.5-9v18M732.0 947.7h17m-8.5-9v18M732.0 951.6h17m-8.5-9v18M733.0 952.2h17m-8.5-9v18M734.0 954.7h17m-8.5-9v18M734.0 957.7h17m-8.5-9v18M735.0 958.9h17m-8.5-9v18M736.0 958.7h17m-8.5-9v18M736.0 960.2h17m-8.5-9v18M737.0 962.5h17m-8.5-9v18M738.0 960.1h17m-8.5-9v18M739.0 963.0h17m-8.5-9v18M739.0 961.1h17m-8.5-9v18M740.0 966.9h17m-8.5-9v18M741.0 965.2h17m-8.5-9v18M741.0 963.0h17m-8.5-9v18M742.0 965.3h17m-8.5-9v18M743.0 968.4h17m-8.5-9v18M743.0 968.0h17m-8.5-9v18M744.0 964.5h17m-8.5-9v18M745.0 971.9h17m-8.5-9v18M746.0 969.3h17m-8.5-9v18M746.0 970.1h17m-8.5-9v18M747.0 969.1h17m-8.5-9v18M748.0 968.5h17m-8.5-9v18M748.0 967.6h17m-8.5-9v18M749.0 971.3h17m-8.5-9v18M750.0 971.4h17m-8.5-9v18M750.0 971.3h17m-8.5-9v18M751.0 973.7h17m-8.5-9v18M752.0 973.3h17m-8.5-9v18M753.0 971.0h17m-8.5-9v18M753.0 972.6h17m-8.5-9v18M754.0 976.0h17m-8.5-9v18M755.0 971.5h17m-8.5-9v18M755.0 978.7h17m-8.5-9v18M756.0 973.7h17m-8.5-9v18M757.0 980.2h17m-8.5-9v18M757.0 976.2h17m-8.5-9v18M758.0 972.5h17m-8.5-9v18M759.0 976.7h17m-8.5-9v18M760.0 976.1h17m-8.5-9v18M760.0 975.3h17m-8.5-9v18M761.0 976.3h17m-8.5-9v18M762.0 976.4h17m-8.5-9v18M762.0 969.9h17m-8.5-9v18M763.0 977.8h17m-8.5-9v18M764.0 975.8h17m-8.5-9v18M764.0 976.3h17m-8.5-9v18M765.0 977.7h17m-8.5-9v18M766.0 976.2h17m-8.5-9v18M767.0 973.7h17m-8.5-9v18M767.0 977.6h17m-8.5-9v18M768.0 975.3h17m-8.5-9v18M769.0 976.3h17m-8.5-9v18M769.0 974.3h17m-8.5-9v18M770.0 975.3h17m-8.5-9v18M771.0 973.5h17m-8.5-9v18M771.0 978.5h17m-8.5-9v18M772.0 973.3h17m-8.5-9v18M773.0 977.2h17m-8.5-9v18M774.0 971.5h17m-8.5-9v18M774.0 975.7h17m-8.5-9v18M775.0 974.6h17m-8.5-9v18M776.0 977.1h17m-8.5-9v18M776.0 975.7h17m-8.5-9v18M777.0 979.7h17m-8.5-9v18M778.0 981.1h17m-8.5-9v18M778.0 974.2h17m-8.5-9v18M779.0 976.7h17m-8.5-9v18M780.0 973.5h17m-8.5-9v18M781.0 973.5h17m-8.5-9v18M781.0 975.4h17m-8.5-9v18M782.0 977.3h17m-8.5-9v18M783.0 976.9h17m-8.5-9v18M783.0 975.3h17m-8.5-9v18M784.0 978.0h17m-8.5-9v18M785.0 973.6h17m-8.5-9v18M785.0 974.2h17m-8.5-9v18M786.0 976.0h17m-8.5-9v18M787.0 972.7h17m-8.5-9v18M788.0 979.1h17m-8.5-9v18M788.0 976.4h17m-8.5-9v18M789.0 976.2h17m-8.5-9v18M790.0 977.9h17m-8.5-9v18M790.0 974.6h17m-8.5-9v18M791.0 977.2h17m-8.5-9v18M792.0 974.2h17m-8.5-9v18M792.0 977.5h17m-8.5-9v18M793.0 978.2h17m-8.5-9v18M794.0 981.3h17m-8.5-9v18M795.0 978.3h17m-8.5-9v18M795.0 981.1h17m-8.5-9v18M796.0 978.5h17m-8.5-9v18M797.0 975.4h17m-8.5-9v18M797.0 980.1h17m-8.5-9v18M798.0 978.7h17m-8.5-9v18M799.0 977.4h17m-8.5-9v18M799.0 980.3h17m-8.5-9v18M800.0 976.2h17m-8.5-9v18M801.0 977.3h17m-8.5-9v18M802.0 979.2h17m-8.5-9v18M802.0 979.2h17m-8.5-9v18M803.0 975.8h17m-8.5-9v18M804.0 977.4h17m-8.5-9v18M804.0 976.5h17m-8.5-9v18M805.0 977.1h17m-8.5-9v18M806.0 974.9h17m-8.5-9v18M806.0 970.5h17m-8.5-9v18M807.0 973.5h17m-8.5-9v18M808.0 976.8h17m-8.5-9v18M809.0 971.4h17m-8.5-9v18M809.0 972.1h17m-8.5-9v18M810.0 973.6h17m-8.5-9v18M811.0 970.9h17m-8.5-9v18M811.0 968.5h17m-8.5-9v18M812.0 970.2h17m-8.5-9v18M813.0 969.4h17m-8.5-9v18M813.0 967.6h17m-8.5-9v18M814.0 968.8h17m-8.5-9v18M815.0 966.0h17m-8.5-9v18M816.0 965.4h17m-8.5-9v18M816.0 966.2h17m-8.5-9v18M817.0 968.2h17m-8.5-9v18M818.0 968.7h17m-8.5-9v18M818.0 967.7h17m-8.5-9v18M819.0 971.5h17m-8.5-9v18M820.0 970.8h17m-8.5-9v18M820.0 970.1h17m-8.5-9v18M821.0 972.9h17m-8.5-9v18M822.0 974.2h17m-8.5-9v18M823.0 973.2h17m-8.5-9v18M823.0 971.3h17m-8.5-9v18M824.0 974.9h17m-8.5-9v18M825.0 976.3h17m-8.5-9v18M825.0 975.5h17m-8.5-9v18M826.0 975.1h17m-8.5-9v18M827.0 976.7h17m-8.5-9v18M827.0 977.5h17m-8.5-9v18M828.0 974.0h17m-8.5-9v18M829.0 981.4h17m-8.5-9v18M830.0 979.1h17m-8.5-9v18M830.0 983.5h17m-8.5-9v18M831.0 980.3h17m-8.5-9v18M832.0 979.1h17m-8.5-9v18M832.0 982.8h17m-8.5-9v18M833.0 981.8h17m-8.5-9v18M834.0 983.7h17m-8.5-9v18M834.0 981.5h17m-8.5-9v18M835.0 981.8h17m-8.5-9v18M836.0 981.7h17m-8.5-9v18M837.0 981.9h17m-8.5-9v18M837.0 984.3h17m-8.5-9v18M838.0 981.3h17m-8.5-9v18M839.0 984.3h17m-8.5-9v18M839.0 986.2h17m-8.5-9v18M840.0 982.6h17m-8.5-9v18M841.0 984.2h17m-8.5-9v18M841.0 983.4h17m-8.5-9v18M842.0 984.3h17m-8.5-9v18M843.0 985.5h17m-8.5-9v18M844.0 986.7h17m-8.5-9v18M844.0 987.2h17m-8.5-9v18M845.0 984.5h17m-8.5-9v18M846.0 987.1h17m-8.5-9v18M846.0 984.8h17m-8.5-9v18M847.0 983.9h17m-8.5-9v18M848.0 984.3h17m-8.5-9v18M848.0 982.5h17m-8.5-9v18M849.0 986.2h17m-8.5-9v18M850.0 982.7h17m-8.5-9v18M851.0 986.4h17m-8.5-9v18M851.0 991.0h17m-8.5-9v18M852.0 984.2h17m-8.5-9v18M853.0 981.9h17m-8.5-9v18M853.0 986.4h17m-8.5-9v18M854.0 983.6h17m-8.5-9v18M855.0 985.4h17m-8.5-9v18M855.0 985.3h17m-8.5-9v18M856.0 985.7h17m-8.5-9v18M857.0 989.5h17m-8.5-9v18M858.0 985.6h17m-8.5-9v18M858.0 985.4h17m-8.5-9v18M859.0 984.7h17m-8.5-9v18M860.0 983.4h17m-8.5-9v18M860.0 983.5h17m-8.5-9v18M861.0 982.6h17m-8.5-9v18M862.0 986.1h17m-8.5-9v18M862.0 984.1h17m-8.5-9v18M863.0 985.6h17m-8.5-9v18M864.0 984.9h17m-8.5-9v18M865.0 988.4h17m-8.5-9v18M865.0 983.9h17m-8.5-9v18M866.0 985.2h17m-8.5-9v18M867.0 982.8h17m-8.5-9v18M867.0 986.1h17m-8.5-9v18M868.0 983.5h17m-8.5-9v18M869.0 984.0h17m-8.5-9v18M869.0 981.3h17m-8.5-9v18M870.0 984.9h17m-8.5-9v18M871.0 987.0h17m-8.5-9v18M872.0 986.4h17m-8.5-9v18M872.0 981.7h17m-8.5-9v18M873.0 985.5h17m-8.5-9v18M874.0 982.4h17m-8.5-9v18M874.0 980.6h17m-8.5-9v18M875.0 981.4h17m-8.5-9v18M876.0 986.1h17m-8.5-9v18M876.0 983.1h17m-8.5-9v18M877.0 981.3h17m-8.5-9v18M878.0 984.3h17m-8.5-9v18M879.0 984.2h17m-8.5-9v18M879.0 983.0h17m-8.5-9v18M880.0 984.5h17m-8.5-9v18M881.0 982.8h17m-8.5-9v18M881.0 985.9h17m-8.5-9v18M882.0 985.0h17m-8.5-9v18M883.0 983.4h17m-8.5-9v18M883.0 984.2h17m-8.5-9v18M884.0 985.2h17m-8.5-9v18M885.0 983.3h17m-8.5-9v18M886.0 984.4h17m-8.5-9v18M886.0 983.2h17m-8.5-9v18M887.0 982.8h17m-8.5-9v18M888.0 979.8h17m-8.5-9v18M888.0 981.0h17m-8.5-9v18M889.0 981.5h17m-8.5-9v18M890.0 983.5h17m-8.5-9v18M890.0 988.4h17m-8.5-9v18M891.0 981.5h17m-8.5-9v18M892.0 982.5h17m-8.5-9v18M893.0 980.8h17m-8.5-9v18M893.0 982.4h17m-8.5-9v18M894.0 982.6h17m-8.5-9v18M895.0 984.3h17m-8.5-9v18M895.0 980.1h17m-8.5-9v18M896.0 983.6h17m-8.5-9v18M897.0 982.9h17m-8.5-9v18M897.0 981.6h17m-8.5-9v18M898.0 979.5h17m-8.5-9v18M899.0 979.6h17m-8.5-9v18M900.0 980.9h17m-8.5-9v18M900.0 982.2h17m-8.5-9v18M901.0 980.6h17m-8.5-9v18M902.0 979.1h17m-8.5-9v18M902.0 980.9h17m-8.5-9v18M903.0 978.2h17m-8.5-9v18M904.0 981.6h17m-8.5-9v18M904.0 985.7h17m-8.5-9v18M905.0 978.7h17m-8.5-9v18M906.0 981.8h17m-8.5-9v18M907.0 977.8h17m-8.5-9v18M907.0 979.9h17m-8.5-9v18M908.0 980.8h17m-8.5-9v18M909.0 982.1h17m-8.5-9v18M909.0 979.8h17m-8.5-9v18M910.0 982.4h17m-8.5-9v18M911.0 977.3h17m-8.5-9v18M911.0 979.4h17m-8.5-9v18M912.0 979.8h17m-8.5-9v18M913.0 980.0h17m-8.5-9v18M914.0 979.5h17m-8.5-9v18M914.0 983.4h17m-8.5-9v18M915.0 979.0h17m-8.5-9v18M916.0 981.7h17m-8.5-9v18M916.0 980.5h17m-8.5-9v18M917.0 983.7h17m-8.5-9v18M918.0 979.2h17m-8.5-9v18M918.0 981.1h17m-8.5-9v18M919.0 980.8h17m-8.5-9v18M920.0 973.5h17m-8.5-9v18M921.0 980.6h17m-8.5-9v18M921.0 982.0h17m-8.5-9v18M922.0 983.1h17m-8.5-9v18M923.0 978.3h17m-8.5-9v18M923.0 980.2h17m-8.5-9v18M924.0 983.2h17m-8.5-9v18M925.0 979.0h17m-8.5-9v18M925.0 979.9h17m-8.5-9v18M926.0 983.0h17m-8.5-9v18M927.0 983.5h17m-8.5-9v18M928.0 985.1h17m-8.5-9v18M928.0 985.1h17m-8.5-9v18M929.0 983.7h17m-8.5-9v18M930.0 981.6h17m-8.5-9v18M930.0 982.7h17m-8.5-9v18M931.0 984.3h17m-8.5-9v18M932.0 985.3h17m-8.5-9v18M932.0 985.1h17m-8.5-9v18M933.0 986.8h17m-8.5-9v18M934.0 984.2h17m-8.5-9v18M935.0 985.1h17m-8.5-9v18M935.0 983.8h17m-8.5-9v18M936.0 990.3h17m-8.5-9v18" stroke="#000" stroke-width="1" fill="none"/>
<polyline points="71.2,928.6 71.7,928.6 72.2,928.6 72.7,928.5 73.2,928.5 73.7,928.5 74.2,928.5 74.7,928.5 75.2,928.4 75.7,928.4 76.2,928.4 76.7,928.4 77.2,928.4 77.7,928.4 78.2,928.4 78.7,928.3 79.2,928.3 79.7,928.3 80.2,928.3 80.7,928.3 81.2,928.3 81.7,928.4 82.2,928.4 82.7,928.4 83.2,928.5 83.7,928.5 84.2,928.6 84.7,928.7 85.2,928.8 85.7,928.9 86.2,929.1 86.7,929.2 87.2,929.3 87.7,929.4 88.2,929.5 88.7,929.6 89.2,929.7 89.7,929.8 90.2,929.8 90.7,929.8 91.2,929.9 91.7,929.9 92.2,929.9 92.7,929.9 93.2,929.9 93.7,929.9 94.2,929.9 94.7,929.9 95.2,929.9 95.7,929.8 96.2,929.8 96.7,929.8 97.2,929.8 97.7,929.8 98.2,929.7 98.7,929.7 99.2,929.7 99.7,929.6 100.2,929.6 100.7,929.6 101.2,929.5 101.7,929.5 102.2,929.5 102.7,929.4 103.2,929.4 103.7,929.3 104.2,929.3 104.7,929.2 105.2,929.1 105.7,929.1 106.2,929.0 106.7,928.9 107.2,928.8 107.7,928.7 108.2,928.6 108.7,928.5 109.2,928.4 109.7,928.2 110.2,928.1 110.7,928.0 111.2,927.9 111.7,927.7 112.2,927.6 112.7,927.5 113.2,927.4 113.7,927.3 114.2,927.2 114.7,927.1 115.2,927.0 115.7,926.9 116.2,926.8 116.7,926.7 117.2,926.6 117.7,926.5 118.2,926.4 118.7,926.3 119.2,926.2 119.7,926.1 120.2,926.0 120.7,925.9 121.2,925.8 121.7,925.7 122.2,925.6 122.7,925.5 123.2,925.4 123.7,925.3 124.2,925.1 124.7,925.0 125.2,924.9 125.7,924.7 126.2,924.6 126.7,924.5 127.2,924.3 127.7,924.1 128.2,924.0 128.7,923.8 129.2,923.6 129.7,923.4 130.2,923.2 130.7,923.0 131.2,922.8 131.7,922.6 132.2,922.3 132.7,922.0 133.2,921.7 133.7,921.4 134.2,921.1 134.7,920.8 135.2,920.4 135.7,920.0 136.2,919.6 136.7,919.1 137.2,918.6 137.7,918.1 138.2,917.6 138.7,917.0 139.2,916.4 139.7,915.7 140.2,915.0 140.7,914.2 141.2,913.4 141.7,912.6 142.2,911.6 142.7,910.7 143.2,909.6 143.7,908.5 144.2,907.3 144.7,906.0 145.2,904.6 145.7,903.1 146.2,901.5 146.7,899.8 147.2,897.9 147.7,896.0 148.2,893.8 148.7,891.6 149.2,889.2 149.7,886.6 150.2,883.8 150.7,880.8 151.2,877.7 151.7,874.3 152.2,870.7 152.7,866.9 153.2,862.9 153.7,858.7 154.2,854.3 154.7,849.6 155.2,844.8 155.7,839.9 156.2,834.9 156.7,829.8 157.2,824.8 157.7,819.8 158.2,815.0 158.7,810.4 159.2,806.2 159.7,802.4 160.2,799.1 160.7,796.5 161.2,794.5 161.7,793.3 162.2,792.8 162.7,793.1 163.2,794.2 163.7,796.0 164.2,798.5 164.7,801.6 165.2,805.3 165.7,809.4 166.2,813.9 166.7,818.7 167.2,823.6 167.7,828.7 168.2,833.7 168.7,838.8 169.2,843.7 169.7,848.5 170.2,853.2 170.7,857.7 171.2,861.9 171.7,866.0 172.2,869.8 172.7,873.5 173.2,876.9 173.7,880.1 174.2,883.1 174.7,885.9 175.2,888.5 175.7,891.0 176.2,893.3 176.7,895.4 177.2,897.4 177.7,899.3 178.2,901.0 178.7,902.6 179.2,904.1 179.7,905.5 180.2,906.8 180.7,908.0 181.2,909.1 181.7,910.1 182.2,911.1 182.7,912.0 183.2,912.8 183.7,913.6 184.2,914.3 184.7,915.0 185.2,915.6 185.7,916.1 186.2,916.7 186.7,917.1 187.2,917.6 187.7,918.0 188.2,918.3 188.7,918.7 189.2,919.0 189.7,919.3 190.2,919.6 190.7,919.9 191.2,920.1 191.7,920.3 192.2,920.6 192.7,920.8 193.2,921.0 193.7,921.2 194.2,921.3 194.7,921.5 195.2,921.7 195.7,921.8 196.2,921.9 196.7,922.1 197.2,922.2 197.7,922.3 198.2,922.4 198.7,922.5 199.2,922.6 199.7,922.7 200.2,922.7 200.7,922.8 201.2,922.9 201.7,922.9 202.2,923.0 202.7,923.0 203.2,923.0 203.7,923.1 204.2,923.1 204.7,923.1 205.2,923.1 205.7,923.1 206.2,923.1 206.7,923.1 207.2,923.1 207.7,923.1 208.2,923.1 208.7,923.1 209.2,923.0 209.7,923.0 210.2,923.0 210.7,922.9 211.2,922.9 211.7,922.8 212.2,922.8 212.7,922.7 213.2,922.6 213.7,922.6 214.2,922.5 214.7,922.4 215.2,922.3 215.7,922.2 216.2,922.1 216.7,921.9 217.2,921.8 217.7,921.6 218.2,921.5 218.7,921.3 219.2,921.1 219.7,920.9 220.2,920.7 220.7,920.5 221.2,920.3 221.7,920.1 222.2,919.8 222.7,919.6 223.2,919.4 223.7,919.2 224.2,918.9 224.7,918.7 225.2,918.5 225.7,918.2 226.2,918.0 226.7,917.7 227.2,917.4 227.7,917.2 228.2,916.9 228.7,916.6 229.2,916.3 229.7,916.0 230.2,915.7 230.7,915.3 231.2,915.0 231.7,914.6 232.2,914.2 232.7,913.8 233.2,913.5 233.7,913.0 234.2,912.6 234.7,912.2 235.2,911.7 235.7,911.3 236.2,910.8 236.7,910.3 237.2,909.8 237.7,909.2 238.2,908.7 238.7,908.1 239.2,907.6 239.7,907.0 240.2,906.4 240.7,905.7 241.2,905.1 241.7,904.4 242.2,903.7 242.7,902.9 243.2,902.1 243.7,901.3 244.2,900.4 244.7,899.4 245.2,898.4 245.7,897.2 246.2,896.0 246.7,894.7 247.2,893.3 247.7,891.8 248.2,890.2 248.7,888.5 249.2,886.7 249.7,884.7 250.2,882.6 250.7,880.3 251.2,877.9 251.7,875.3 252.2,872.6 252.7,869.7 253.2,866.6 253.7,863.3 254.2,859.7 254.7,856.0 255.2,852.0 255.7,847.7 256.2,843.2 256.7,838.4 257.2,833.2 257.7,827.7 258.2,821.8 258.7,815.5 259.2,808.7 259.7,801.5 260.2,793.9 260.7,785.7 261.2,776.9 261.7,767.7 262.2,757.8 262.7,747.4 263.2,736.5 263.7,725.1 264.2,713.2 264.7,701.1 265.2,688.8 265.7,676.4 266.2,664.4 266.7,652.8 267.2,642.1 267.7,632.5 268.2,624.4 268.7,618.1 269.2,613.8 269.7,611.8 270.2,612.2 270.7,614.8 271.2,619.7 271.7,626.6 272.2,635.2 272.7,645.2 273.2,656.3 273.7,668.1 274.2,680.3 274.7,692.8 275.2,705.1 275.7,717.3 276.2,729.1 276.7,740.5 277.2,751.4 277.7,761.7 278.2,771.5 278.7,780.7 279.2,789.4 279.7,797.5 280.2,805.1 280.7,812.3 281.2,819.0 281.7,825.2 282.2,831.0 282.7,836.5 283.2,841.6 283.7,846.4 284.2,850.9 284.7,855.1 285.2,859.1 285.7,862.8 286.2,866.2 286.7,869.5 287.2,872.5 287.7,875.4 288.2,878.1 288.7,880.6 289.2,882.9 289.7,885.1 290.2,887.2 290.7,889.1 291.2,890.9 291.7,892.7 292.2,894.3 292.7,895.8 293.2,897.2 293.7,898.5 294.2,899.8 294.7,901.0 295.2,902.1 295.7,903.2 296.2,904.2 296.7,905.2 297.2,906.1 297.7,907.0 298.2,907.8 298.7,908.6 299.2,909.4 299.7,910.1 300.2,910.8 300.7,911.5 301.2,912.1 301.7,912.8 302.2,913.3 302.7,913.9 303.2,914.4 303.7,914.9 304.2,915.4 304.7,915.9 305.2,916.3 305.7,916.7 306.2,917.1 306.7,917.5 307.2,917.8 307.7,918.1 308.2,918.4 308.7,918.6 309.2,918.9 309.7,919.1 310.2,919.3 310.7,919.4 311.2,919.5 311.7,919.6 312.2,919.7 312.7,919.7 313.2,919.7 313.7,919.7 314.2,919.6 314.7,919.5 315.2,919.4 315.7,919.2 316.2,919.0 316.7,918.8 317.2,918.5 317.7,918.2 318.2,917.9 318.7,917.5 319.2,917.1 319.7,916.7 320.2,916.3 320.7,915.9 321.2,915.5 321.7,915.0 322.2,914.6 322.7,914.2 323.2,913.8 323.7,913.5 324.2,913.2 324.7,913.0 325.2,912.8 325.7,912.7 326.2,912.7 326.7,912.7 327.2,912.9 327.7,913.1 328.2,913.4 328.7,913.8 329.2,914.3 329.7,914.8 330.2,915.4 330.7,916.1 331.2,916.8 331.7,917.5 332.2,918.2 332.7,919.0 333.2,919.7 333.7,920.5 334.2,921.2 334.7,921.9 335.2,922.6 335.7,923.2 336.2,923.9 336.7,924.4 337.2,924.9 337.7,925.4 338.2,925.8 338.7,926.2 339.2,926.5 339.7,926.7 340.2,926.9 340.7,927.1 341.2,927.3 341.7,927.4 342.2,927.5 342.7,927.6 343.2,927.8 343.7,927.9 344.2,928.2 344.7,928.4 345.2,928.8 345.7,929.2 346.2,929.6 346.7,930.2 347.2,930.7 347.7,931.4 348.2,932.0 348.7,932.7 349.2,933.3 349.7,934.0 350.2,934.6 350.7,935.3 351.2,935.9 351.7,936.4 352.2,937.0 352.7,937.5 353.2,937.9 353.7,938.4 354.2,938.8 354.7,939.2 355.2,939.6 355.7,939.9 356.2,940.2 356.7,940.6 357.2,940.9 357.7,941.1 358.2,941.4 358.7,941.7 359.2,941.9 359.7,942.2 360.2,942.4 360.7,942.7 361.2,942.9 361.7,943.2 362.2,943.4 362.7,943.6 363.2,943.8 363.7,944.0 364.2,944.3 364.7,944.5 365.2,944.7 365.7,944.9 366.2,945.1 366.7,945.3 367.2,945.4 367.7,945.6 368.2,945.8 368.7,945.9 369.2,946.1 369.7,946.2 370.2,946.4 370.7,946.5 371.2,946.7 371.7,946.8 372.2,946.9 372.7,947.0 373.2,947.1 373.7,947.2 374.2,947.2 374.7,947.3 375.2,947.4 375.7,947.4 376.2,947.4 376.7,947.5 377.2,947.5 377.7,947.5 378.2,947.5 378.7,947.5 379.2,947.6 379.7,947.6 380.2,947.6 380.7,947.6 381.2,947.6 381.7,947.7 382.2,947.7 382.7,947.7 383.2,947.8 383.7,947.8 384.2,947.8 384.7,947.9 385.2,947.9 385.7,947.9 386.2,948.0 386.7,948.0 387.2,948.0 387.7,948.0 388.2,948.0 388.7,948.0 389.2,948.0 389.7,948.0 390.2,948.0 390.7,948.0 391.2,948.0 391.7,948.1 392.2,948.1 392.7,948.1 393.2,948.1 393.7,948.2 394.2,948.3 394.7,948.4 395.2,948.5 395.7,948.6 396.2,948.7 396.7,948.9 397.2,949.0 397.7,949.2 398.2,949.4 398.7,949.5 399.2,949.7 399.7,949.9 400.2,950.0 400.7,950.2 401.2,950.3 401.7,950.5 402.2,950.6 402.7,950.8 403.2,950.9 403.7,951.0 404.2,951.1 404.7,951.2 405.2,951.3 405.7,951.4 406.2,951.5 406.7,951.6 407.2,951.7 407.7,951.8 408.2,951.9 408.7,952.0 409.2,952.1 409.7,952.2 410.2,952.3 410.7,952.4 411.2,952.5 411.7,952.6 412.2,952.7 412.7,952.8 413.2,952.9 413.7,952.9 414.2,953.0 414.7,953.1 415.2,953.2 415.7,953.2 416.2,953.3 416.7,953.4 417.2,953.4 417.7,953.5 418.2,953.6 418.7,953.6 419.2,953.7 419.7,953.8 420.2,953.8 420.7,953.9 421.2,953.9 421.7,954.0 422.2,954.0 422.7,954.1 423.2,954.1 423.7,954.2 424.2,954.2 424.7,954.3 425.2,954.3 425.7,954.4 426.2,954.4 426.7,954.4 427.2,954.5 427.7,954.5 428.2,954.5 428.7,954.5 429.2,954.5 429.7,954.6 430.2,954.6 430.7,954.6 431.2,954.6 431.7,954.6 432.2,954.6 432.7,954.6 433.2,954.6 433.7,954.6 434.2,954.7 434.7,954.7 435.2,954.7 435.7,954.7 436.2,954.8 436.7,954.8 437.2,954.8 437.7,954.8 438.2,954.9 438.7,954.9 439.2,954.9 439.7,955.0 440.2,955.0 440.7,955.0 441.2,955.1 441.7,955.1 442.2,955.1 442.7,955.1 443.2,955.2 443.7,955.2 444.2,955.2 444.7,955.2 445.2,955.2 445.7,955.2 446.2,955.2 446.7,955.2 447.2,955.2 447.7,955.1 448.2,955.1 448.7,955.1 449.2,955.1 449.7,955.0 450.2,955.0 450.7,955.0 451.2,955.0 451.7,955.0 452.2,955.0 452.7,955.0 453.2,955.0 453.7,955.0 454.2,955.0 454.7,955.0 455.2,955.0 455.7,955.0 456.2,955.0 456.7,955.0 457.2,955.0 457.7,955.0 458.2,955.0 458.7,955.0 459.2,955.0 459.7,955.0 460.2,955.0 460.7,955.1 461.2,955.1 461.7,955.1 462.2,955.1 462.7,955.1 463.2,955.1 463.7,955.1 464.2,955.1 464.7,955.2 465.2,955.2 465.7,955.2 466.2,955.3 466.7,955.3 467.2,955.4 467.7,955.5 468.2,955.6 468.7,955.7 469.2,955.8 469.7,956.0 470.2,956.1 470.7,956.3 471.2,956.4 471.7,956.5 472.2,956.6 472.7,956.7 473.2,956.7 473.7,956.8 474.2,956.8 474.7,956.8 475.2,956.8 475.7,956.7 476.2,956.7 476.7,956.7 477.2,956.6 477.7,956.6 478.2,956.5 478.7,956.5 479.2,956.4 479.7,956.3 480.2,956.3 480.7,956.2 481.2,956.1 481.7,956.0 482.2,955.9 482.7,955.8 483.2,955.7 483.7,955.6 484.2,955.5 484.7,955.4 485.2,955.3 485.7,955.1 486.2,955.0 486.7,954.8 487.2,954.7 487.7,954.5 488.2,954.3 488.7,954.1 489.2,953.9 489.7,953.7 490.2,953.5 490.7,953.2 491.2,953.0 491.7,952.7 492.2,952.4 492.7,952.1 493.2,951.8 493.7,951.5 494.2,951.2 494.7,950.9 495.2,950.5 495.7,950.2 496.2,949.8 496.7,949.4 497.2,949.1 497.7,948.7 498.2,948.3 498.7,948.0 499.2,947.6 499.7,947.2 500.2,946.7 500.7,946.3 501.2,945.9 501.7,945.4 502.2,944.9 502.7,944.4 503.2,943.9 503.7,943.4 504.2,942.8 504.7,942.3 505.2,941.6 505.7,941.0 506.2,940.4 506.7,939.7 507.2,938.9 507.7,938.2 508.2,937.4 508.7,936.6 509.2,935.7 509.7,934.8 510.2,933.9 510.7,932.9 511.2,931.8 511.7,930.7 512.2,929.6 512.7,928.3 513.2,927.1 513.7,925.7 514.2,924.3 514.7,922.7 515.2,921.1 515.7,919.4 516.2,917.6 516.7,915.7 517.2,913.7 517.7,911.6 518.2,909.4 518.7,907.0 519.2,904.5 519.7,901.9 520.2,899.1 520.7,896.2 521.2,893.1 521.7,890.0 522.2,886.6 522.7,883.2 523.2,879.6 523.7,875.9 524.2,872.1 524.7,868.2 525.2,864.2 525.7,860.2 526.2,856.3 526.7,852.4 527.2,848.6 527.7,845.1 528.2,841.7 528.7,838.7 529.2,836.1 529.7,834.0 530.2,832.3 530.7,831.2 531.2,830.8 531.7,830.9 532.2,831.6 532.7,832.9 533.2,834.8 533.7,837.1 534.2,839.9 534.7,843.1 535.2,846.6 535.7,850.3 536.2,854.1 536.7,858.1 537.2,862.1 537.7,866.2 538.2,870.2 538.7,874.1 539.2,877.9 539.7,881.7 540.2,885.3 540.7,888.7 541.2,892.1 541.7,895.2 542.2,898.3 542.7,901.2 543.2,903.9 543.7,906.5 544.2,909.0 544.7,911.3 545.2,913.5 545.7,915.6 546.2,917.6 546.7,919.4 547.2,921.2 547.7,922.9 548.2,924.5 548.7,926.0 549.2,927.4 549.7,928.7 550.2,930.0 550.7,931.2 551.2,932.3 551.7,933.4 552.2,934.4 552.7,935.3 553.2,936.2 553.7,937.1 554.2,937.9 554.7,938.6 555.2,939.3 555.7,939.9 556.2,940.5 556.7,941.0 557.2,941.5 557.7,941.9 558.2,942.3 558.7,942.7 559.2,942.9 559.7,943.2 560.2,943.4 560.7,943.6 561.2,943.7 561.7,943.8 562.2,943.8 562.7,943.8 563.2,943.8 563.7,943.7 564.2,943.6 564.7,943.5 565.2,943.4 565.7,943.2 566.2,943.0 566.7,942.8 567.2,942.7 567.7,942.5 568.2,942.4 568.7,942.3 569.2,942.2 569.7,942.2 570.2,942.3 570.7,942.3 571.2,942.5 571.7,942.7 572.2,943.0 572.7,943.4 573.2,943.8 573.7,944.2 574.2,944.7 574.7,945.3 575.2,945.9 575.7,946.5 576.2,947.1 576.7,947.7 577.2,948.4 577.7,949.0 578.2,949.7 578.7,950.3 579.2,950.9 579.7,951.5 580.2,952.0 580.7,952.6 581.2,953.1 581.7,953.5 582.2,953.9 582.7,954.3 583.2,954.7 583.7,955.0 584.2,955.3 584.7,955.6 585.2,955.8 585.7,956.0 586.2,956.2 586.7,956.3 587.2,956.4 587.7,956.5 588.2,956.6 588.7,956.6 589.2,956.6 589.7,956.6 590.2,956.5 590.7,956.5 591.2,956.4 591.7,956.3 592.2,956.1 592.7,956.0 593.2,955.8 593.7,955.6 594.2,955.4 594.7,955.1 595.2,954.9 595.7,954.6 596.2,954.2 596.7,953.9 597.2,953.5 597.7,953.2 598.2,952.7 598.7,952.3 599.2,951.8 599.7,951.4 600.2,950.8 600.7,950.3 601.2,949.8 601.7,949.2 602.2,948.6 602.7,948.0 603.2,947.3 603.7,946.7 604.2,946.0 604.7,945.3 605.2,944.7 605.7,943.9 606.2,943.2 606.7,942.5 607.2,941.7 607.7,941.0 608.2,940.2 608.7,939.4 609.2,938.6 609.7,937.8 610.2,937.0 610.7,936.2 611.2,935.4 611.7,934.5 612.2,933.7 612.7,932.9 613.2,932.1 613.7,931.2 614.2,930.4 614.7,929.6 615.2,928.9 615.7,928.1 616.2,927.4 616.7,926.7 617.2,926.0 617.7,925.4 618.2,924.8 618.7,924.2 619.2,923.7 619.7,923.2 620.2,922.8 620.7,922.5 621.2,922.2 621.7,921.9 622.2,921.8 622.7,921.6 623.2,921.6 623.7,921.6 624.2,921.7 624.7,921.8 625.2,922.0 625.7,922.3 626.2,922.6 626.7,923.0 627.2,923.5 627.7,924.0 628.2,924.6 628.7,925.2 629.2,925.8 629.7,926.5 630.2,927.3 630.7,928.0 631.2,928.8 631.7,929.7 632.2,930.5 632.7,931.4 633.2,932.2 633.7,933.1 634.2,934.0 634.7,934.9 635.2,935.7 635.7,936.6 636.2,937.4 636.7,938.2 637.2,939.0 637.7,939.8 638.2,940.6 638.7,941.3 639.2,942.0 639.7,942.7 640.2,943.4 640.7,944.0 641.2,944.7 641.7,945.3 642.2,945.9 642.7,946.5 643.2,947.0 643.7,947.6 644.2,948.2 644.7,948.7 645.2,949.2 645.7,949.8 646.2,950.3 646.7,950.8 647.2,951.3 647.7,951.8 648.2,952.2 648.7,952.7 649.2,953.1 649.7,953.6 650.2,954.0 650.7,954.4 651.2,954.8 651.7,955.2 652.2,955.6 652.7,955.9 653.2,956.2 653.7,956.5 654.2,956.8 654.7,957.1 655.2,957.4 655.7,957.6 656.2,957.8 656.7,958.0 657.2,958.2 657.7,958.4 658.2,958.5 658.7,958.7 659.2,958.8 659.7,958.9 660.2,959.0 660.7,959.1 661.2,959.1 661.7,959.1 662.2,959.2 662.7,959.2 663.2,959.2 663.7,959.2 664.2,959.1 664.7,959.1 665.2,959.1 665.7,959.0 666.2,958.9 666.7,958.8 667.2,958.7 667.7,958.6 668.2,958.4 668.7,958.3 669.2,958.1 669.7,958.0 670.2,957.8 670.7,957.5 671.2,957.3 671.7,957.1 672.2,956.8 672.7,956.5 673.2,956.1 673.7,955.8 674.2,955.4 674.7,955.0 675.2,954.6 675.7,954.1 676.2,953.7 676.7,953.3 677.2,953.0 677.7,952.9 678.2,952.8 678.7,952.9 679.2,953.0 679.7,953.2 680.2,953.4 680.7,953.6 681.2,953.8 681.7,953.9 682.2,954.0 682.7,954.1 683.2,954.2 683.7,954.2 684.2,954.3 684.7,954.3 685.2,954.3 685.7,954.3 686.2,954.3 686.7,954.2 687.2,954.2 687.7,954.1 688.2,954.1 688.7,954.0 689.2,954.0 689.7,953.9 690.2,953.8 690.7,953.7 691.2,953.6 691.7,953.5 692.2,953.4 692.7,953.3 693.2,953.2 693.7,953.1 694.2,952.9 694.7,952.8 695.2,952.7 695.7,952.5 696.2,952.4 696.7,952.2 697.2,952.0 697.7,951.8 698.2,951.6 698.7,951.4 699.2,951.2 699.7,951.0 700.2,950.7 700.7,950.5 701.2,950.2 701.7,949.9 702.2,949.7 702.7,949.3 703.2,949.0 703.7,948.7 704.2,948.3 704.7,947.9 705.2,947.5 705.7,947.1 706.2,946.7 706.7,946.2 707.2,945.7 707.7,945.2 708.2,944.7 708.7,944.2 709.2,943.6 709.7,943.0 710.2,942.4 710.7,941.7 711.2,941.1 711.7,940.4 712.2,939.6 712.7,938.9 713.2,938.1 713.7,937.3 714.2,936.5 714.7,935.7 715.2,934.9 715.7,934.0 716.2,933.2 716.7,932.3 717.2,931.5 717.7,930.6 718.2,929.8 718.7,929.0 719.2,928.2 719.7,927.5 720.2,926.9 720.7,926.3 721.2,925.8 721.7,925.3 722.2,925.0 722.7,924.8 723.2,924.6 723.7,924.6 724.2,924.7 724.7,924.9 725.2,925.1 725.7,925.5 726.2,926.0 726.7,926.6 727.2,927.2 727.7,927.9 728.2,928.7 728.7,929.4 729.2,930.2 729.7,931.1 730.2,931.9 730.7,932.7 731.2,933.6 731.7,934.4 732.2,935.2 732.7,936.0 733.2,936.7 733.7,937.5 734.2,938.3 734.7,939.0 735.2,939.8 735.7,940.7 736.2,941.5 736.7,942.5 737.2,943.4 737.7,944.5 738.2,945.5 738.7,946.6 739.2,947.8 739.7,948.9 740.2,950.1 740.7,951.2 741.2,952.4 741.7,953.5 742.2,954.6 742.7,955.6 743.2,956.6 743.7,957.6 744.2,958.5 744.7,959.4 745.2,960.2 745.7,961.0 746.2,961.7 746.7,962.4 747.2,963.1 747.7,963.8 748.2,964.4 748.7,964.9 749.2,965.5 749.7,966.0 750.2,966.5 750.7,967.0 751.2,967.4 751.7,967.9 752.2,968.3 752.7,968.7 753.2,969.1 753.7,969.4 754.2,969.8 754.7,970.1 755.2,970.4 755.7,970.7 756.2,971.0 756.7,971.3 757.2,971.5 757.7,971.8 758.2,972.0 758.7,972.2 759.2,972.4 759.7,972.6 760.2,972.8 760.7,973.0 761.2,973.2 761.7,973.4 762.2,973.5 762.7,973.7 763.2,973.8 763.7,973.9 764.2,974.0 764.7,974.2 765.2,974.3 765.7,974.3 766.2,974.4 766.7,974.5 767.2,974.6 767.7,974.7 768.2,974.7 768.7,974.8 769.2,974.8 769.7,974.8 770.2,974.9 770.7,974.9 771.2,974.9 771.7,974.9 772.2,975.0 772.7,975.0 773.2,975.0 773.7,975.0 774.2,975.0 774.7,975.0 775.2,975.0 775.7,974.9 776.2,974.9 776.7,974.9 777.2,974.9 777.7,974.9 778.2,974.8 778.7,974.8 779.2,974.8 779.7,974.8 780.2,974.8 780.7,974.7 781.2,974.7 781.7,974.7 782.2,974.7 782.7,974.6 783.2,974.6 783.7,974.6 784.2,974.6 784.7,974.6 785.2,974.6 785.7,974.6 786.2,974.6 786.7,974.6 787.2,974.6 787.7,974.6 788.2,974.7 788.7,974.7 789.2,974.7 789.7,974.7 790.2,974.8 790.7,974.8 791.2,974.9 791.7,974.9 792.2,975.0 792.7,975.0 793.2,975.1 793.7,975.2 794.2,975.2 794.7,975.3 795.2,975.4 795.7,975.4 796.2,975.5 796.7,975.6 797.2,975.7 797.7,975.7 798.2,975.8 798.7,975.9 799.2,976.0 799.7,976.0 800.2,976.1 800.7,976.2 801.2,976.2 801.7,976.3 802.2,976.3 802.7,976.3 803.2,976.4 803.7,976.4 804.2,976.4 804.7,976.4 805.2,976.4 805.7,976.4 806.2,976.4 806.7,976.3 807.2,976.3 807.7,976.2 808.2,976.1 808.7,976.0 809.2,975.9 809.7,975.8 810.2,975.6 810.7,975.5 811.2,975.3 811.7,975.1 812.2,974.9 812.7,974.7 813.2,974.5 813.7,974.2 814.2,974.0 814.7,973.7 815.2,973.4 815.7,973.1 816.2,972.8 816.7,972.5 817.2,972.2 817.7,971.9 818.2,971.6 818.7,971.3 819.2,971.0 819.7,970.7 820.2,970.4 820.7,970.2 821.2,970.0 821.7,969.8 822.2,969.6 822.7,969.4 823.2,969.3 823.7,969.2 824.2,969.1 824.7,969.1 825.2,969.1 825.7,969.2 826.2,969.3 826.7,969.4 827.2,969.6 827.7,969.8 828.2,970.1 828.7,970.3 829.2,970.7 829.7,971.0 830.2,971.4 830.7,971.8 831.2,972.2 831.7,972.6 832.2,973.1 832.7,973.5 833.2,974.0 833.7,974.5 834.2,974.9 834.7,975.4 835.2,975.9 835.7,976.4 836.2,976.8 836.7,977.3 837.2,977.7 837.7,978.2 838.2,978.6 838.7,979.0 839.2,979.4 839.7,979.8 840.2,980.2 840.7,980.5 841.2,980.9 841.7,981.2 842.2,981.5 842.7,981.8 843.2,982.0 843.7,982.3 844.2,982.5 844.7,982.7 845.2,982.9 845.7,983.1 846.2,983.3 846.7,983.5 847.2,983.6 847.7,983.8 848.2,983.9 848.7,984.0 849.2,984.1 849.7,984.2 850.2,984.2 850.7,984.3 851.2,984.4 851.7,984.4 852.2,984.5 852.7,984.5 853.2,984.5 853.7,984.6 854.2,984.6 854.7,984.6 855.2,984.6 855.7,984.6 856.2,984.6 856.7,984.5 857.2,984.5 857.7,984.5 858.2,984.5 858.7,984.4 859.2,984.4 859.7,984.4 860.2,984.3 860.7,984.3 861.2,984.2 861.7,984.2 862.2,984.2 862.7,984.1 863.2,984.1 863.7,984.0 864.2,984.0 864.7,983.9 865.2,983.9 865.7,983.8 866.2,983.8 866.7,983.8 867.2,983.7 867.7,983.7 868.2,983.6 868.7,983.6 869.2,983.6 869.7,983.5 870.2,983.5 870.7,983.5 871.2,983.4 871.7,983.4 872.2,983.4 872.7,983.4 873.2,983.4 873.7,983.3 874.2,983.3 874.7,983.3 875.2,983.3 875.7,983.3 876.2,983.3 876.7,983.3 877.2,983.3 877.7,983.3 878.2,983.3 878.7,983.3 879.2,983.3 879.7,983.3 880.2,983.2 880.7,983.2 881.2,983.2 881.7,983.2 882.2,983.2 882.7,983.2 883.2,983.2 883.7,983.2 884.2,983.2 884.7,983.2 885.2,983.2 885.7,983.2 886.2,983.2 886.7,983.2 887.2,983.2 887.7,983.2 888.2,983.2 888.7,983.2 889.2,983.2 889.7,983.1 890.2,983.1 890.7,983.1 891.2,983.1 891.7,983.0 892.2,983.0 892.7,983.0 893.2,982.9 893.7,982.9 894.2,982.9 894.7,982.8 895.2,982.8 895.7,982.7 896.2,982.6 896.7,982.6 897.2,982.5 897.7,982.4 898.2,982.4 898.7,982.3 899.2,982.2 899.7,982.1 900.2,982.0 900.7,981.9 901.2,981.8 901.7,981.7 902.2,981.6 902.7,981.5 903.2,981.4 903.7,981.3 904.2,981.2 904.7,981.1 905.2,981.0 905.7,980.8 906.2,980.7 906.7,980.6 907.2,980.5 907.7,980.4 908.2,980.2 908.7,980.1 909.2,980.0 909.7,979.9 910.2,979.7 910.7,979.6 911.2,979.5 911.7,979.4 912.2,979.3 912.7,979.2 913.2,979.0 913.7,978.9 914.2,978.9 914.7,978.8 915.2,978.7 915.7,978.6 916.2,978.5 916.7,978.5 917.2,978.4 917.7,978.3 918.2,978.3 918.7,978.3 919.2,978.2 919.7,978.2 920.2,978.2 920.7,978.2 921.2,978.2 921.7,978.2 922.2,978.3 922.7,978.3 923.2,978.3 923.7,978.4 924.2,978.5 924.7,978.5 925.2,978.6 925.7,978.7 926.2,978.8 926.7,979.0 927.2,979.1 927.7,979.2 928.2,979.4 928.7,979.5 929.2,979.7 929.7,979.8 930.2,980.0 930.7,980.2 931.2,980.4 931.7,980.5 932.2,980.7 932.7,980.9 933.2,981.1 933.7,981.3 934.2,981.5 934.7,981.7 935.2,981.9 935.7,982.2 936.2,982.4 936.7,982.6 937.2,982.8 937.7,983.0 938.2,983.2 938.7,983.4 939.2,983.6 939.7,983.9 940.2,984.1 940.7,984.3 941.2,984.5 941.7,984.7 942.2,984.9 942.7,985.2 943.2,985.4 943.7,985.6 944.2,985.8 944.7,986.0" fill="none" stroke="#f00" stroke-width="4.4" stroke-linejoin="round"/>
<polyline points="71.5,1023.7 72.9,1018.6 74.3,1017.4 75.7,1020.2 77.1,1016.5 78.5,1012.2 79.9,1018.2 81.3,1020.6 82.7,1017.9 84.1,1016.2 85.5,1019.9 86.9,1016.8 88.3,1021.3 89.7,1017.1 91.1,1015.9 92.5,1020.3 93.9,1018.7 95.3,1017.2 96.7,1012.8 98.1,1023.5 99.5,1018.0 100.9,1016.1 102.3,1023.3 103.7,1017.8 105.1,1023.3 106.5,1023.1 107.9,1017.4 109.3,1015.2 110.7,1019.7 112.1,1018.7 113.5,1015.5 114.9,1018.0 116.3,1016.6 117.7,1017.4 119.1,1016.1 120.5,1016.9 121.9,1018.2 123.3,1011.6 124.7,1011.6 126.1,1018.6 127.5,1014.4 128.9,1019.8 130.3,1015.7 131.7,1018.4 133.1,1017.7 134.5,1016.2 135.9,1017.3 137.3,1017.2 138.7,1018.9 140.1,1021.7 141.5,1012.8 142.9,1017.4 144.3,1016.1 145.7,1013.7 147.1,1022.9 148.5,1016.2 149.9,1016.8 151.3,1018.3 152.7,1021.6 154.1,1021.6 155.5,1022.0 156.9,1023.6 158.3,1020.6 159.7,1017.7 161.1,1018.8 162.5,1020.8 163.9,1018.5 165.3,1010.6 166.7,1006.4 168.1,1008.0 169.5,1004.6 170.9,1009.0 172.3,1017.9 173.7,1016.8 175.1,1020.0 176.5,1017.9 177.9,1015.4 179.3,1019.2 180.7,1019.6 182.1,1020.3 183.5,1023.7 184.9,1023.0 186.3,1027.5 187.7,1018.3 189.1,1019.0 190.5,1013.4 191.9,1014.3 193.3,1019.2 194.7,1017.0 196.1,1015.6 197.5,1016.5 198.9,1020.6 200.3,1018.0 201.7,1013.7 203.1,1016.7 204.5,1015.1 205.9,1016.7 207.3,1018.7 208.7,1017.2 210.1,1020.1 211.5,1017.1 212.9,1015.0 214.3,1016.0 215.7,1016.4 217.1,1018.3 218.5,1023.2 219.9,1018.8 221.3,1017.1 222.7,1017.6 224.1,1018.2 225.5,1017.0 226.9,1017.1 228.3,1017.3 229.7,1015.9 231.1,1017.2 232.5,1013.4 233.9,1017.5 235.3,1016.5 236.7,1022.1 238.1,1016.2 239.5,1013.7 240.9,1015.3 242.3,1021.5 243.7,1016.6 245.1,1011.9 246.5,1018.9 247.9,1016.5 249.3,1023.2 250.7,1014.9 252.1,1018.9 253.5,1018.7 254.9,1018.9 256.3,1017.1 257.7,1015.4 259.1,1019.3 260.5,1020.9 261.9,1017.8 263.3,1025.5 264.7,1024.9 266.1,1021.9 267.5,1018.9 268.9,1012.6 270.3,1006.4 271.7,1014.1 273.1,1012.3 274.5,1009.1 275.9,1015.5 277.3,1016.8 278.7,1017.6 280.1,1015.3 281.5,1016.0 282.9,1019.3 284.3,1017.0 285.7,1021.1 287.1,1018.1 288.5,1018.4 289.9,1018.7 291.3,1022.7 292.7,1016.1 294.1,1017.8 295.5,1017.3 296.9,1020.0 298.3,1018.6 299.7,1012.5 301.1,1017.2 302.5,1020.1 303.9,1022.1 305.3,1016.1 306.7,1010.9 308.1,1018.3 309.5,1012.0 310.9,1014.9 312.3,1012.0 313.7,1013.4 315.1,1018.3 316.5,1009.0 317.9,1013.8 319.3,1015.4 320.7,1015.8 322.1,1014.1 323.5,1018.7 324.9,1025.6 326.3,1025.6 327.7,1021.9 329.1,1025.2 330.5,1022.6 331.9,1025.9 333.3,1021.3 334.7,1018.3 336.1,1017.9 337.5,1017.0 338.9,1012.0 340.3,1015.0 341.7,1012.3 343.1,1013.3 344.5,1009.5 345.9,1013.7 347.3,1014.0 348.7,1011.2 350.1,1008.3 351.5,1017.4 352.9,1019.7 354.3,1013.9 355.7,1016.5 357.1,1019.1 358.5,1015.6 359.9,1017.5 361.3,1012.3 362.7,1016.0 364.1,1022.4 365.5,1018.0 366.9,1017.7 368.3,1016.0 369.7,1015.0 371.1,1019.7 372.5,1021.0 373.9,1018.9 375.3,1015.8 376.7,1012.9 378.1,1012.0 379.5,1017.8 380.9,1018.0 382.3,1017.4 383.7,1019.5 385.1,1017.4 386.5,1017.2 387.9,1023.5 389.3,1019.7 390.7,1021.6 392.1,1017.2 393.5,1021.8 394.9,1023.1 396.3,1019.4 397.7,1017.6 399.1,1017.4 400.5,1017.7 401.9,1017.5 403.3,1022.6 404.7,1020.2 406.1,1017.0 407.5,1012.5 408.9,1015.3 410.3,1018.9 411.7,1015.3 413.1,1017.3 414.5,1017.8 415.9,1012.0 417.3,1022.6 418.7,1012.4 420.1,1015.7 421.5,1019.1 422.9,1018.0 424.3,1016.3 425.7,1017.8 427.1,1021.2 428.5,1017.1 429.9,1015.5 431.3,1021.3 432.7,1016.9 434.1,1016.7 435.5,1019.0 436.9,1016.9 438.3,1017.8 439.7,1019.0 441.1,1017.8 442.5,1018.2 443.9,1016.4 445.3,1016.4 446.7,1019.0 448.1,1020.4 449.5,1019.4 450.9,1017.3 452.3,1019.3 453.7,1017.5 455.1,1020.0 456.5,1018.5 457.9,1017.7 459.3,1012.5 460.7,1017.4 462.1,1020.9 463.5,1018.6 464.9,1017.2 466.3,1018.6 467.7,1015.5 469.1,1015.7 470.5,1016.6 471.9,1017.7 473.3,1017.9 474.7,1016.8 476.1,1018.5 477.5,1015.9 478.9,1016.0 480.3,1016.2 481.7,1020.8 483.1,1017.0 484.5,1019.3 485.9,1011.4 487.3,1017.0 488.7,1013.8 490.1,1019.2 491.5,1016.1 492.9,1016.8 494.3,1017.4 495.7,1016.6 497.1,1016.4 498.5,1015.1 499.9,1016.4 501.3,1022.9 502.7,1023.2 504.1,1017.4 505.5,1018.2 506.9,1019.0 508.3,1013.8 509.7,1016.1 511.1,1014.4 512.5,1014.1 513.9,1013.0 515.3,1014.6 516.7,1005.5 518.1,1014.9 519.5,1012.1 520.9,1011.8 522.3,1013.5 523.7,1015.7 525.1,1021.6 526.5,1013.0 527.9,1020.4 529.3,1024.9 530.7,1019.3 532.1,1023.7 533.5,1020.2 534.9,1018.5 536.3,1018.0 537.7,1022.1 539.1,1021.5 540.5,1017.5 541.9,1019.0 543.3,1022.5 544.7,1022.2 546.1,1023.0 547.5,1018.6 548.9,1023.5 550.3,1021.8 551.7,1023.8 553.1,1022.9 554.5,1026.1 555.9,1014.3 557.3,1017.9 558.7,1012.7 560.1,1018.7 561.5,1019.8 562.9,1017.2 564.3,1019.8 565.7,1016.8 567.1,1015.1 568.5,1018.9 569.9,1018.3 571.3,1019.0 572.7,1018.6 574.1,1019.4 575.5,1016.5 576.9,1016.2 578.3,1017.4 579.7,1018.7 581.1,1016.2 582.5,1017.8 583.9,1018.1 585.3,1020.3 586.7,1017.5 588.1,1017.4 589.5,1018.7 590.9,1023.4 592.3,1017.8 593.7,1021.3 595.1,1019.5 596.5,1021.4 597.9,1018.3 599.3,1016.1 600.7,1020.4 602.1,1019.5 603.5,1022.0 604.9,1019.2 606.3,1017.7 607.7,1017.2 609.1,1019.7 610.5,1019.4 611.9,1017.7 613.3,1018.2 614.7,1011.2 616.1,1016.1 617.5,1013.6 618.9,1015.7 620.3,1013.2 621.7,1013.9 623.1,1017.4 624.5,1009.3 625.9,1010.8 627.3,1009.9 628.7,1011.6 630.1,1012.5 631.5,1011.6 632.9,1014.6 634.3,1015.1 635.7,1012.9 637.1,1018.0 638.5,1018.9 639.9,1017.4 641.3,1013.9 642.7,1014.7 644.1,1018.2 645.5,1015.6 646.9,1017.2 648.3,1021.4 649.7,1019.1 651.1,1018.5 652.5,1016.3 653.9,1017.8 655.3,1020.4 656.7,1012.1 658.1,1017.1 659.5,1016.4 660.9,1020.2 662.3,1019.4 663.7,1018.1 665.1,1011.9 666.5,1017.2 667.9,1011.8 669.3,1011.7 670.7,1021.5 672.1,1017.0 673.5,1018.1 674.9,1011.4 676.3,1016.8 677.7,1019.6 679.1,1018.1 680.5,1011.7 681.9,1022.5 683.3,1016.1 684.7,1020.2 686.1,1012.2 687.5,1017.8 688.9,1019.2 690.3,1019.8 691.7,1017.7 693.1,1015.1 694.5,1018.0 695.9,1018.9 697.3,1017.5 698.7,1013.2 700.1,1023.9 701.5,1014.7 702.9,1016.6 704.3,1021.0 705.7,1011.3 707.1,1012.9 708.5,1016.1 709.9,1009.5 711.3,1008.3 712.7,1012.0 714.1,1012.1 715.5,1015.1 716.9,1012.3 718.3,1012.8 719.7,1022.8 721.1,1019.1 722.5,1021.2 723.9,1019.1 725.3,1019.8 726.7,1021.4 728.1,1014.3 729.5,1019.0 730.9,1019.4 732.3,1017.7 733.7,1018.0 735.1,1016.9 736.5,1016.2 737.9,1015.0 739.3,1015.8 740.7,1019.1 742.1,1020.4 743.5,1011.6 744.9,1021.9 746.3,1016.7 747.7,1019.1 749.1,1021.9 750.5,1022.8 751.9,1022.7 753.3,1014.3 754.7,1014.2 756.1,1013.5 757.5,1019.4 758.9,1019.5 760.3,1015.1 761.7,1015.1 763.1,1017.6 764.5,1011.8 765.9,1015.6 767.3,1019.1 768.7,1016.4 770.1,1012.1 771.5,1017.8 772.9,1018.0 774.3,1016.2 775.7,1023.0 777.1,1014.5 778.5,1015.8 779.9,1018.8 781.3,1019.5 782.7,1015.8 784.1,1021.0 785.5,1017.4 786.9,1023.2 788.3,1021.0 789.7,1018.2 791.1,1015.6 792.5,1019.2 793.9,1013.1 795.3,1018.0 796.7,1017.2 798.1,1023.4 799.5,1014.9 800.9,1014.7 802.3,1014.4 803.7,1017.9 805.1,1012.3 806.5,1017.5 807.9,1018.1 809.3,1017.4 810.7,1015.7 812.1,1017.3 813.5,1012.4 814.9,1017.7 816.3,1015.3 817.7,1016.9 819.1,1015.1 820.5,1017.4 821.9,1017.3 823.3,1021.9 824.7,1018.6 826.1,1016.3 827.5,1020.2 828.9,1019.9 830.3,1019.6 831.7,1013.7 833.1,1019.1 834.5,1023.0 835.9,1019.8 837.3,1015.6 838.7,1014.3 840.1,1017.4 841.5,1018.1 842.9,1017.7 844.3,1018.0 845.7,1012.9 847.1,1022.7 848.5,1018.9 849.9,1018.2 851.3,1018.2 852.7,1016.7 854.1,1022.5 855.5,1017.9 856.9,1016.1 858.3,1017.7 859.7,1019.6 861.1,1012.1 862.5,1012.1 863.9,1017.5 865.3,1018.7 866.7,1015.7 868.1,1014.1 869.5,1012.9 870.9,1018.4 872.3,1019.5 873.7,1013.2 875.1,1011.7 876.5,1013.3 877.9,1014.8 879.3,1016.6 880.7,1016.9 882.1,1015.9 883.5,1014.2 884.9,1018.0 886.3,1015.9 887.7,1015.9 889.1,1016.6 890.5,1017.0 891.9,1018.8 893.3,1020.2 894.7,1017.2 896.1,1018.8 897.5,1017.3 898.9,1018.3 900.3,1015.2 901.7,1019.9 903.1,1013.7 904.5,1019.1 905.9,1020.7 907.3,1016.0 908.7,1016.6 910.1,1020.9 911.5,1015.2 912.9,1020.1 914.3,1016.2 915.7,1018.8 917.1,1018.7 918.5,1017.9 919.9,1018.2 921.3,1019.4 922.7,1019.4 924.1,1018.9 925.5,1020.3 926.9,1016.0 928.3,1018.6 929.7,1017.7 931.1,1015.4 932.5,1014.1 933.9,1017.3 935.3,1012.0 936.7,1015.3 938.1,1019.6 939.5,1017.7 940.9,1020.0 942.3,1014.3 943.7,1013.9" fill="none" stroke="#008000" stroke-width="6.5" stroke-linejoin="round" stroke-linecap="round"/>
</g>
<text x="71.4" y="1085.8" font-size="38.6" text-anchor="middle" font-family="Liberation Serif, Times New Roman, serif" >20</text>
<text x="217.0" y="1085.8" font-size="38.6" text-anchor="middle" font-family="Liberation Serif, Times New Roman, serif" >30</text>
<text x="362.6" y="1085.8" font-size="38.6" text-anchor="middle" font-family="Liberation Serif, Times New Roman, serif" >40</text>
<text x="508.2" y="1085.8" font-size="38.6" text-anchor="middle" font-family="Liberation Serif, Times New Roman, serif" >50</text>
<text x="653.8" y="1085.8" font-size="38.6" text-anchor="middle" font-family="Liberation Serif, Times New Roman, serif" >60</text>
<text x="799.4" y="1085.8" font-size="38.6" text-anchor="middle" font-family="Liberation Serif, Times New Roman, serif" >70</text>
<text x="945.0" y="1085.8" font-size="38.6" text-anchor="middle" font-family="Liberation Serif, Times New Roman, serif" >80</text>
<text x="84.7" y="72.3" font-size="45.59" text-anchor="start" font-family="Liberation Serif, Times New Roman, serif" >(a)</text>
<text x="82.8" y="589.85" font-size="45.28" text-anchor="start" font-family="Liberation Serif, Times New Roman, serif" >(b)</text>
<text x="576.5" y="169.6" font-size="45.26" text-anchor="start" font-family="Liberation Serif, Times New Roman, serif" >SnO<tspan font-size='27.2' dy='15.8'>2</tspan><tspan dy='-15.8'> (3h)</tspan></text>
<text x="602.9" y="255.25" font-size="44.68" text-anchor="start" font-family="Liberation Serif, Times New Roman, serif" >S=1.30</text>
<text x="451.5" y="669.65" font-size="45.11" text-anchor="start" font-family="Liberation Serif, Times New Roman, serif" >1% Fe-doped SnO<tspan font-size='27.1' dy='15.8'>2</tspan><tspan dy='-15.8'> (4h)</tspan></text>
<text x="602.2" y="789.3" font-size="44.71" text-anchor="start" font-family="Liberation Serif, Times New Roman, serif" >S=1.28</text>
<text x="403.8" y="1135.6" font-size="45.49" text-anchor="start" font-family="Liberation Serif, Times New Roman, serif" >2θ (degree)</text>
<text x="0" y="0" font-size="45.6" text-anchor="start" font-family="Liberation Serif, Times New Roman, serif" transform="translate(40.3,643) rotate(-90)">Intensity (a.u)</text>
<rect x="1126.1" y="93.3" width="553.6000000000001" height="834.0" fill="none" stroke="#000" stroke-width="2.2"/>
<path d="M1161.0 93.3v4.5M1161.0 927.3v-4.5M1218.6 93.3v10M1218.6 927.3v-10M1276.2 93.3v4.5M1276.2 927.3v-4.5M1333.8 93.3v10M1333.8 927.3v-10M1391.4 93.3v4.5M1391.4 927.3v-4.5M1448.9 93.3v10M1448.9 927.3v-10M1506.5 93.3v4.5M1506.5 927.3v-4.5M1564.1 93.3v10M1564.1 927.3v-10M1621.7 93.3v4.5M1621.7 927.3v-4.5M1126.1 917.3h4.6M1679.7 917.3h-4.6M1126.1 865.8h10.4M1679.7 865.8h-10.4M1126.1 814.3h4.6M1679.7 814.3h-4.6M1126.1 762.8h10.4M1679.7 762.8h-10.4M1126.1 711.3h4.6M1679.7 711.3h-4.6M1126.1 659.8h10.4M1679.7 659.8h-10.4M1126.1 608.3h4.6M1679.7 608.3h-4.6M1126.1 556.8h10.4M1679.7 556.8h-10.4M1126.1 505.3h4.6M1679.7 505.3h-4.6M1126.1 453.8h10.4M1679.7 453.8h-10.4M1126.1 402.3h4.6M1679.7 402.3h-4.6M1126.1 350.8h10.4M1679.7 350.8h-10.4M1126.1 299.3h4.6M1679.7 299.3h-4.6M1126.1 247.8h10.4M1679.7 247.8h-10.4M1126.1 196.3h4.6M1679.7 196.3h-4.6M1126.1 144.8h10.4M1679.7 144.8h-10.4" stroke="#000" stroke-width="2.2" fill="none"/>
<text x="1107.4" y="877.8" font-size="40.0" text-anchor="end" font-family="Liberation Serif, Times New Roman, serif" >2.0</text>
<text x="1107.4" y="774.8" font-size="40.0" text-anchor="end" font-family="Liberation Serif, Times New Roman, serif" >2.5</text>
<text x="1107.4" y="671.8" font-size="40.0" text-anchor="end" font-family="Liberation Serif, Times New Roman, serif" >3.0</text>
<text x="1107.4" y="568.8" font-size="40.0" text-anchor="end" font-family="Liberation Serif, Times New Roman, serif" >3.5</text>
<text x="1107.4" y="465.8" font-size="40.0" text-anchor="end" font-family="Liberation Serif, Times New Roman, serif" >4.0</text>
<text x="1107.4" y="362.8" font-size="40.0" text-anchor="end" font-family="Liberation Serif, Times New Roman, serif" >4.5</text>
<text x="1107.4" y="259.8" font-size="40.0" text-anchor="end" font-family="Liberation Serif, Times New Roman, serif" >5.0</text>
<text x="1107.4" y="156.8" font-size="40.0" text-anchor="end" font-family="Liberation Serif, Times New Roman, serif" >5.5</text>
<text x="1214.6" y="971.8" font-size="40.3" text-anchor="middle" font-family="Liberation Serif, Times New Roman, serif" >0.3</text>
<text x="1329.8" y="971.8" font-size="40.3" text-anchor="middle" font-family="Liberation Serif, Times New Roman, serif" >0.4</text>
<text x="1444.9" y="971.8" font-size="40.3" text-anchor="middle" font-family="Liberation Serif, Times New Roman, serif" >0.5</text>
<text x="1560.1" y="971.8" font-size="40.3" text-anchor="middle" font-family="Liberation Serif, Times New Roman, serif" >0.6</text>
<text x="1675.3" y="971.8" font-size="40.3" text-anchor="middle" font-family="Liberation Serif, Times New Roman, serif" >0.7</text>
<text x="1145.0" y="165.95" font-size="47.6" text-anchor="start" font-family="Liberation Serif, Times New Roman, serif" >Undoped SnO<tspan font-size='28.6' dy='16.7'>2</tspan></text>
<text x="1572.9" y="162.85" font-size="47.98" text-anchor="start" font-family="Liberation Serif, Times New Roman, serif" >(c)</text>
<text x="1343.4" y="1020.85" font-size="57.04" text-anchor="start" font-family="Liberation Serif, Times New Roman, serif" >sin (θ)</text>
<text x="0" y="0" font-size="58.3" text-anchor="start" font-family="Liberation Serif, Times New Roman, serif" transform="translate(1018,563.2) rotate(-90)">β cos(θ)</text>
<defs><radialGradient id="ball" cx="0.5" cy="0.5" r="0.5" fx="0.32" fy="0.3"><stop offset="0" stop-color="#fff"/><stop offset="0.15" stop-color="#ffc8c8"/><stop offset="0.38" stop-color="#ff1a1a"/><stop offset="0.8" stop-color="#f00"/><stop offset="1" stop-color="#e00000"/></radialGradient></defs>
<path d="M1148.2 560.5L1199.7 572.8M1219.1 577.5L1238.7 582.2M1268.4 589.4L1283.1 592.9M1302.5 597.5L1367.8 613.2M1387.2 617.9L1394.5 619.6M1413.9 624.3L1422.5 626.4M1441.9 631.0L1457.1 634.7M1511.9 647.8L1519.8 649.7M1559.8 659.3L1563.0 660.1M1582.4 664.8L1596.8 668.2M1658.2 683.0L1661.3 683.7" stroke="#000" stroke-width="4.4" fill="none"/>
<rect x="1132.1" y="551.7" width="12.8" height="12.8" fill="#000"/><rect x="1203.0" y="568.8" width="12.8" height="12.8" fill="#000"/><rect x="1242.0" y="578.1" width="12.8" height="12.8" fill="#000"/><rect x="1252.3" y="580.6" width="12.8" height="12.8" fill="#000"/><rect x="1286.4" y="588.8" width="12.8" height="12.8" fill="#000"/><rect x="1371.1" y="609.2" width="12.8" height="12.8" fill="#000"/><rect x="1397.8" y="615.6" width="12.8" height="12.8" fill="#000"/><rect x="1425.8" y="622.3" width="12.8" height="12.8" fill="#000"/><rect x="1460.4" y="630.6" width="12.8" height="12.8" fill="#000"/><rect x="1467.0" y="632.2" width="12.8" height="12.8" fill="#000"/><rect x="1485.7" y="636.7" width="12.8" height="12.8" fill="#000"/><rect x="1495.8" y="639.1" width="12.8" height="12.8" fill="#000"/><rect x="1523.1" y="645.7" width="12.8" height="12.8" fill="#000"/><rect x="1540.0" y="649.7" width="12.8" height="12.8" fill="#000"/><rect x="1543.7" y="650.6" width="12.8" height="12.8" fill="#000"/><rect x="1566.3" y="656.0" width="12.8" height="12.8" fill="#000"/><rect x="1600.1" y="664.2" width="12.8" height="12.8" fill="#000"/><rect x="1618.9" y="668.7" width="12.8" height="12.8" fill="#000"/><rect x="1638.2" y="673.3" width="12.8" height="12.8" fill="#000"/><rect x="1642.1" y="674.3" width="12.8" height="12.8" fill="#000"/><rect x="1664.6" y="679.7" width="12.8" height="12.8" fill="#000"/>
<path d="M1148.5 903.2L1199.4 903.4M1219.4 903.6L1238.4 903.7M1268.7 903.8L1282.8 903.9M1302.8 904.0L1367.5 904.4M1387.5 904.5L1394.2 904.5M1414.2 904.6L1422.2 904.7M1442.2 904.8L1456.8 904.9M1512.2 905.2L1519.5 905.2M1560.1 905.5L1562.7 905.5M1582.7 905.6L1596.5 905.7M1658.5 906.0L1661.0 906.0" stroke="#0000ff" stroke-width="4.4" fill="none"/>
<circle cx="1138.5" cy="903.1" r="6.8" fill="#fff" stroke="#0000ff" stroke-width="1"/><rect x="1138.0" y="902.6" width="1" height="1" fill="#0000ff"/><circle cx="1209.4" cy="903.5" r="6.8" fill="#fff" stroke="#0000ff" stroke-width="1"/><rect x="1208.9" y="903.0" width="1" height="1" fill="#0000ff"/><circle cx="1248.4" cy="903.7" r="6.8" fill="#fff" stroke="#0000ff" stroke-width="1"/><rect x="1247.9" y="903.2" width="1" height="1" fill="#0000ff"/><circle cx="1258.7" cy="903.8" r="6.8" fill="#fff" stroke="#0000ff" stroke-width="1"/><rect x="1258.2" y="903.3" width="1" height="1" fill="#0000ff"/><circle cx="1292.8" cy="904.0" r="6.8" fill="#fff" stroke="#0000ff" stroke-width="1"/><rect x="1292.3" y="903.5" width="1" height="1" fill="#0000ff"/><circle cx="1377.5" cy="904.4" r="6.8" fill="#fff" stroke="#0000ff" stroke-width="1"/><rect x="1377.0" y="903.9" width="1" height="1" fill="#0000ff"/><circle cx="1404.2" cy="904.6" r="6.8" fill="#fff" stroke="#0000ff" stroke-width="1"/><rect x="1403.7" y="904.1" width="1" height="1" fill="#0000ff"/><circle cx="1432.2" cy="904.7" r="6.8" fill="#fff" stroke="#0000ff" stroke-width="1"/><rect x="1431.7" y="904.2" width="1" height="1" fill="#0000ff"/><circle cx="1466.8" cy="904.9" r="6.8" fill="#fff" stroke="#0000ff" stroke-width="1"/><rect x="1466.3" y="904.4" width="1" height="1" fill="#0000ff"/><circle cx="1473.4" cy="905.0" r="6.8" fill="#fff" stroke="#0000ff" stroke-width="1"/><rect x="1472.9" y="904.5" width="1" height="1" fill="#0000ff"/><circle cx="1492.1" cy="905.1" r="6.8" fill="#fff" stroke="#0000ff" stroke-width="1"/><rect x="1491.6" y="904.6" width="1" height="1" fill="#0000ff"/><circle cx="1502.2" cy="905.1" r="6.8" fill="#fff" stroke="#0000ff" stroke-width="1"/><rect x="1501.7" y="904.6" width="1" height="1" fill="#0000ff"/><circle cx="1529.5" cy="905.3" r="6.8" fill="#fff" stroke="#0000ff" stroke-width="1"/><rect x="1529.0" y="904.8" width="1" height="1" fill="#0000ff"/><circle cx="1546.4" cy="905.4" r="6.8" fill="#fff" stroke="#0000ff" stroke-width="1"/><rect x="1545.9" y="904.9" width="1" height="1" fill="#0000ff"/><circle cx="1550.1" cy="905.4" r="6.8" fill="#fff" stroke="#0000ff" stroke-width="1"/><rect x="1549.6" y="904.9" width="1" height="1" fill="#0000ff"/><circle cx="1572.7" cy="905.5" r="6.8" fill="#fff" stroke="#0000ff" stroke-width="1"/><rect x="1572.2" y="905.0" width="1" height="1" fill="#0000ff"/><circle cx="1606.5" cy="905.7" r="6.8" fill="#fff" stroke="#0000ff" stroke-width="1"/><rect x="1606.0" y="905.2" width="1" height="1" fill="#0000ff"/><circle cx="1625.3" cy="905.8" r="6.8" fill="#fff" stroke="#0000ff" stroke-width="1"/><rect x="1624.8" y="905.3" width="1" height="1" fill="#0000ff"/><circle cx="1644.6" cy="905.9" r="6.8" fill="#fff" stroke="#0000ff" stroke-width="1"/><rect x="1644.1" y="905.4" width="1" height="1" fill="#0000ff"/><circle cx="1648.5" cy="906.0" r="6.8" fill="#fff" stroke="#0000ff" stroke-width="1"/><rect x="1648.0" y="905.5" width="1" height="1" fill="#0000ff"/><circle cx="1671.0" cy="906.1" r="6.8" fill="#fff" stroke="#0000ff" stroke-width="1"/><rect x="1670.5" y="905.6" width="1" height="1" fill="#0000ff"/>
<path d="M1148.5 460.4L1199.4 457.1M1219.4 455.7L1238.4 454.5M1268.7 452.5L1282.8 451.5M1302.8 450.2L1367.5 445.9M1387.5 444.6L1394.2 444.2M1414.2 442.8L1422.2 442.3M1442.2 441.0L1456.8 440.0M1512.2 436.3L1519.5 435.9M1560.1 433.2L1562.7 433.0M1582.7 431.7L1596.5 430.8M1658.5 426.7L1661.0 426.5" stroke="#008000" stroke-width="4.4" fill="none"/>
<path d="M1138.5 451.9L1147.2 466.4H1129.8Z" fill="#008000"/><path d="M1209.4 447.2L1218.1 461.7H1200.7Z" fill="#008000"/><path d="M1248.4 444.6L1257.1 459.1H1239.7Z" fill="#008000"/><path d="M1258.7 443.9L1267.4 458.4H1250.0Z" fill="#008000"/><path d="M1292.8 441.7L1301.5 456.2H1284.1Z" fill="#008000"/><path d="M1377.5 436.1L1386.2 450.6H1368.8Z" fill="#008000"/><path d="M1404.2 434.3L1412.9 448.8H1395.5Z" fill="#008000"/><path d="M1432.2 432.4L1440.9 446.9H1423.5Z" fill="#008000"/><path d="M1466.8 430.1L1475.5 444.6H1458.1Z" fill="#008000"/><path d="M1473.4 429.7L1482.1 444.2H1464.7Z" fill="#008000"/><path d="M1492.1 428.5L1500.8 443.0H1483.4Z" fill="#008000"/><path d="M1502.2 427.8L1510.9 442.3H1493.5Z" fill="#008000"/><path d="M1529.5 426.0L1538.2 440.5H1520.8Z" fill="#008000"/><path d="M1546.4 424.9L1555.1 439.4H1537.7Z" fill="#008000"/><path d="M1550.1 424.6L1558.8 439.1H1541.4Z" fill="#008000"/><path d="M1572.7 423.1L1581.4 437.6H1564.0Z" fill="#008000"/><path d="M1606.5 420.9L1615.2 435.4H1597.8Z" fill="#008000"/><path d="M1625.3 419.7L1634.0 434.2H1616.6Z" fill="#008000"/><path d="M1644.6 418.4L1653.3 432.9H1635.9Z" fill="#008000"/><path d="M1648.5 418.1L1657.2 432.6H1639.8Z" fill="#008000"/><path d="M1671.0 416.6L1679.7 431.1H1662.3Z" fill="#008000"/>
<path d="M1148.5 251.6L1199.4 247.8M1219.4 246.3L1238.4 244.9M1268.7 242.6L1282.8 241.5M1302.8 240.0L1367.5 235.1M1387.5 233.6L1394.2 233.1M1414.2 231.6L1422.2 231.0M1442.2 229.5L1456.8 228.4M1512.2 224.2L1519.5 223.7M1560.1 220.6L1562.7 220.4M1582.7 218.9L1596.5 217.9M1658.5 213.2L1661.0 213.0" stroke="#ff8000" stroke-width="4.4" fill="none"/>
<rect x="1132.4" y="246.3" width="12.2" height="12.2" fill="#fff" stroke="#ff8000" stroke-width="1"/><rect x="1138.0" y="251.9" width="1" height="1" fill="#ff8000"/><rect x="1203.3" y="240.9" width="12.2" height="12.2" fill="#fff" stroke="#ff8000" stroke-width="1"/><rect x="1208.9" y="246.5" width="1" height="1" fill="#ff8000"/><rect x="1242.3" y="238.0" width="12.2" height="12.2" fill="#fff" stroke="#ff8000" stroke-width="1"/><rect x="1247.9" y="243.6" width="1" height="1" fill="#ff8000"/><rect x="1252.6" y="237.2" width="12.2" height="12.2" fill="#fff" stroke="#ff8000" stroke-width="1"/><rect x="1258.2" y="242.8" width="1" height="1" fill="#ff8000"/><rect x="1286.7" y="234.7" width="12.2" height="12.2" fill="#fff" stroke="#ff8000" stroke-width="1"/><rect x="1292.3" y="240.3" width="1" height="1" fill="#ff8000"/><rect x="1371.4" y="228.3" width="12.2" height="12.2" fill="#fff" stroke="#ff8000" stroke-width="1"/><rect x="1377.0" y="233.9" width="1" height="1" fill="#ff8000"/><rect x="1398.1" y="226.3" width="12.2" height="12.2" fill="#fff" stroke="#ff8000" stroke-width="1"/><rect x="1403.7" y="231.9" width="1" height="1" fill="#ff8000"/><rect x="1426.1" y="224.2" width="12.2" height="12.2" fill="#fff" stroke="#ff8000" stroke-width="1"/><rect x="1431.7" y="229.8" width="1" height="1" fill="#ff8000"/><rect x="1460.7" y="221.6" width="12.2" height="12.2" fill="#fff" stroke="#ff8000" stroke-width="1"/><rect x="1466.3" y="227.2" width="1" height="1" fill="#ff8000"/><rect x="1467.3" y="221.1" width="12.2" height="12.2" fill="#fff" stroke="#ff8000" stroke-width="1"/><rect x="1472.9" y="226.7" width="1" height="1" fill="#ff8000"/><rect x="1486.0" y="219.7" width="12.2" height="12.2" fill="#fff" stroke="#ff8000" stroke-width="1"/><rect x="1491.6" y="225.3" width="1" height="1" fill="#ff8000"/><rect x="1496.1" y="218.9" width="12.2" height="12.2" fill="#fff" stroke="#ff8000" stroke-width="1"/><rect x="1501.7" y="224.5" width="1" height="1" fill="#ff8000"/><rect x="1523.4" y="216.8" width="12.2" height="12.2" fill="#fff" stroke="#ff8000" stroke-width="1"/><rect x="1529.0" y="222.4" width="1" height="1" fill="#ff8000"/><rect x="1540.3" y="215.6" width="12.2" height="12.2" fill="#fff" stroke="#ff8000" stroke-width="1"/><rect x="1545.9" y="221.2" width="1" height="1" fill="#ff8000"/><rect x="1544.0" y="215.3" width="12.2" height="12.2" fill="#fff" stroke="#ff8000" stroke-width="1"/><rect x="1549.6" y="220.9" width="1" height="1" fill="#ff8000"/><rect x="1566.6" y="213.6" width="12.2" height="12.2" fill="#fff" stroke="#ff8000" stroke-width="1"/><rect x="1572.2" y="219.2" width="1" height="1" fill="#ff8000"/><rect x="1600.4" y="211.0" width="12.2" height="12.2" fill="#fff" stroke="#ff8000" stroke-width="1"/><rect x="1606.0" y="216.6" width="1" height="1" fill="#ff8000"/><rect x="1619.2" y="209.6" width="12.2" height="12.2" fill="#fff" stroke="#ff8000" stroke-width="1"/><rect x="1624.8" y="215.2" width="1" height="1" fill="#ff8000"/><rect x="1638.5" y="208.2" width="12.2" height="12.2" fill="#fff" stroke="#ff8000" stroke-width="1"/><rect x="1644.1" y="213.8" width="1" height="1" fill="#ff8000"/><rect x="1642.4" y="207.9" width="12.2" height="12.2" fill="#fff" stroke="#ff8000" stroke-width="1"/><rect x="1648.0" y="213.5" width="1" height="1" fill="#ff8000"/><rect x="1664.9" y="206.2" width="12.2" height="12.2" fill="#fff" stroke="#ff8000" stroke-width="1"/><rect x="1670.5" y="211.8" width="1" height="1" fill="#ff8000"/>
<path d="M1148.1 334.0L1199.8 320.0M1219.0 314.7L1238.8 309.4M1268.3 301.3L1283.2 297.3M1302.4 292.1L1367.9 274.3M1387.1 269.0L1394.6 267.0M1413.8 261.8L1422.6 259.4M1441.8 254.1L1457.2 250.0M1511.8 235.1L1519.9 232.9M1559.7 222.1L1563.1 221.2M1582.3 215.9L1596.9 212.0M1658.1 195.3L1661.4 194.4" stroke="#ff0000" stroke-width="4.4" fill="none"/>
<circle cx="1138.5" cy="336.6" r="7.2" fill="url(#ball)"/><circle cx="1209.4" cy="317.4" r="7.2" fill="url(#ball)"/><circle cx="1248.4" cy="306.8" r="7.2" fill="url(#ball)"/><circle cx="1258.7" cy="304.0" r="7.2" fill="url(#ball)"/><circle cx="1292.8" cy="294.7" r="7.2" fill="url(#ball)"/><circle cx="1377.5" cy="271.6" r="7.2" fill="url(#ball)"/><circle cx="1404.2" cy="264.4" r="7.2" fill="url(#ball)"/><circle cx="1432.2" cy="256.8" r="7.2" fill="url(#ball)"/><circle cx="1466.8" cy="247.3" r="7.2" fill="url(#ball)"/><circle cx="1473.4" cy="245.6" r="7.2" fill="url(#ball)"/><circle cx="1492.1" cy="240.5" r="7.2" fill="url(#ball)"/><circle cx="1502.2" cy="237.7" r="7.2" fill="url(#ball)"/><circle cx="1529.5" cy="230.3" r="7.2" fill="url(#ball)"/><circle cx="1546.4" cy="225.7" r="7.2" fill="url(#ball)"/><circle cx="1550.1" cy="224.7" r="7.2" fill="url(#ball)"/><circle cx="1572.7" cy="218.5" r="7.2" fill="url(#ball)"/><circle cx="1606.5" cy="209.3" r="7.2" fill="url(#ball)"/><circle cx="1625.3" cy="204.2" r="7.2" fill="url(#ball)"/><circle cx="1644.6" cy="199.0" r="7.2" fill="url(#ball)"/><circle cx="1648.5" cy="197.9" r="7.2" fill="url(#ball)"/><circle cx="1671.0" cy="191.8" r="7.2" fill="url(#ball)"/>
<rect x="1135.2" y="620.2" width="172.5" height="259.7" fill="#fff" stroke="#808080" stroke-width="1.3"/>
<path d="M1146.4 653.8H1166.4M1190 653.8H1210.3" stroke="#000" stroke-width="4.6"/>
<rect x="1171.7" y="647.4" width="12.8" height="12.8" fill="#000"/>
<text x="1217.8" y="663.35" font-size="40.3" text-anchor="start" font-family="Liberation Serif, Times New Roman, serif" >0.5 h</text>
<path d="M1146.4 704.5H1166.4M1190 704.5H1210.3" stroke="#0000ff" stroke-width="4.6"/>
<circle cx="1178.1" cy="704.5" r="6.8" fill="#fff" stroke="#0000ff" stroke-width="1"/><rect x="1177.6" y="704.0" width="1" height="1" fill="#0000ff"/>
<text x="1218.8" y="714.02" font-size="40.3" text-anchor="start" font-family="Liberation Serif, Times New Roman, serif" >1.0 h</text>
<path d="M1146.4 755.1H1166.4M1190 755.1H1210.3" stroke="#008000" stroke-width="4.6"/>
<path d="M1178.1 745.9L1186.8 760.4H1169.4Z" fill="#008000"/>
<text x="1217.8" y="764.69" font-size="40.3" text-anchor="start" font-family="Liberation Serif, Times New Roman, serif" >2.0 h</text>
<path d="M1146.4 805.8H1166.4M1190 805.8H1210.3" stroke="#ff8000" stroke-width="4.6"/>
<rect x="1172.0" y="799.7" width="12.2" height="12.2" fill="#fff" stroke="#ff8000" stroke-width="1"/><rect x="1177.6" y="805.3" width="1" height="1" fill="#ff8000"/>
<text x="1217.8" y="815.36" font-size="40.3" text-anchor="start" font-family="Liberation Serif, Times New Roman, serif" >3.0 h</text>
<path d="M1146.4 856.5H1166.4M1190 856.5H1210.3" stroke="#ff0000" stroke-width="4.6"/>
<circle cx="1178.1" cy="856.5" r="7.2" fill="url(#ball)"/>
<text x="1217.8" y="866.03" font-size="40.3" text-anchor="start" font-family="Liberation Serif, Times New Roman, serif" >4.0 h</text>
</svg>
</body></html>
